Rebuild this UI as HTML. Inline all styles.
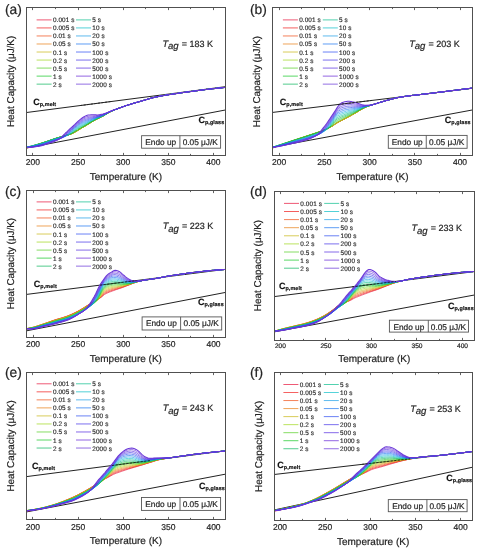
<!DOCTYPE html>
<html><head><meta charset="utf-8"><style>
html,body{margin:0;padding:0;background:#fff;}
svg{display:block;filter:blur(0.3px);}
text{font-family:"Liberation Sans", sans-serif;stroke:#222;stroke-width:0.2px;text-rendering:geometricPrecision;}
</style></head><body>
<svg width="480" height="550" viewBox="0 0 480 550">
<rect width="480" height="550" fill="#fff"/>
<text x="4.9" y="14.4" font-size="13.8" fill="#262626">(a)</text>
<text transform="translate(14.10,81.45) rotate(-90)" text-anchor="middle" font-size="9.9" fill="#262626">Heat Capacity (&#956;J/K)</text>
<text x="125.95" y="179.80" text-anchor="middle" font-size="10" fill="#262626">Temperature (K)</text>
<text x="32.90" y="165.10" text-anchor="middle" font-size="8.5" fill="#262626">200</text>
<text x="78.03" y="165.10" text-anchor="middle" font-size="8.5" fill="#262626">250</text>
<text x="123.15" y="165.10" text-anchor="middle" font-size="8.5" fill="#262626">300</text>
<text x="168.28" y="165.10" text-anchor="middle" font-size="8.5" fill="#262626">350</text>
<text x="213.40" y="165.10" text-anchor="middle" font-size="8.5" fill="#262626">400</text>
<clipPath id="ca"><rect x="26.6" y="7.7" width="198.70000000000002" height="147.5"/></clipPath>
<line x1="36.60" y1="19.90" x2="51.60" y2="19.90" stroke="#e81840" stroke-width="0.9" opacity="0.8"/>
<text x="52.90" y="22.40" font-size="6.4" fill="#333" style="stroke-width:0.16px;letter-spacing:0.1px">0.001 s</text>
<line x1="36.60" y1="27.93" x2="51.60" y2="27.93" stroke="#f02020" stroke-width="0.9" opacity="0.8"/>
<text x="52.90" y="30.43" font-size="6.4" fill="#333" style="stroke-width:0.16px;letter-spacing:0.1px">0.005 s</text>
<line x1="36.60" y1="35.96" x2="51.60" y2="35.96" stroke="#f05018" stroke-width="0.9" opacity="0.8"/>
<text x="52.90" y="38.46" font-size="6.4" fill="#333" style="stroke-width:0.16px;letter-spacing:0.1px">0.01 s</text>
<line x1="36.60" y1="43.99" x2="51.60" y2="43.99" stroke="#e88018" stroke-width="0.9" opacity="0.8"/>
<text x="52.90" y="46.49" font-size="6.4" fill="#333" style="stroke-width:0.16px;letter-spacing:0.1px">0.05 s</text>
<line x1="36.60" y1="52.02" x2="51.60" y2="52.02" stroke="#c8b818" stroke-width="0.9" opacity="0.8"/>
<text x="52.90" y="54.52" font-size="6.4" fill="#333" style="stroke-width:0.16px;letter-spacing:0.1px">0.1 s</text>
<line x1="36.60" y1="60.05" x2="51.60" y2="60.05" stroke="#a0d820" stroke-width="0.9" opacity="0.8"/>
<text x="52.90" y="62.55" font-size="6.4" fill="#333" style="stroke-width:0.16px;letter-spacing:0.1px">0.2 s</text>
<line x1="36.60" y1="68.08" x2="51.60" y2="68.08" stroke="#58d028" stroke-width="0.9" opacity="0.8"/>
<text x="52.90" y="70.58" font-size="6.4" fill="#333" style="stroke-width:0.16px;letter-spacing:0.1px">0.5 s</text>
<line x1="36.60" y1="76.11" x2="51.60" y2="76.11" stroke="#18c828" stroke-width="0.9" opacity="0.8"/>
<text x="52.90" y="78.61" font-size="6.4" fill="#333" style="stroke-width:0.16px;letter-spacing:0.1px">1 s</text>
<line x1="36.60" y1="84.14" x2="51.60" y2="84.14" stroke="#10b860" stroke-width="0.9" opacity="0.8"/>
<text x="52.90" y="86.64" font-size="6.4" fill="#333" style="stroke-width:0.16px;letter-spacing:0.1px">2 s</text>
<line x1="76.00" y1="19.90" x2="91.00" y2="19.90" stroke="#10c090" stroke-width="0.9" opacity="0.8"/>
<text x="92.30" y="22.40" font-size="6.4" fill="#333" style="stroke-width:0.16px;letter-spacing:0.1px">5 s</text>
<line x1="76.00" y1="27.93" x2="91.00" y2="27.93" stroke="#10c0c8" stroke-width="0.9" opacity="0.8"/>
<text x="92.30" y="30.43" font-size="6.4" fill="#333" style="stroke-width:0.16px;letter-spacing:0.1px">10 s</text>
<line x1="76.00" y1="35.96" x2="91.00" y2="35.96" stroke="#20a0e8" stroke-width="0.9" opacity="0.8"/>
<text x="92.30" y="38.46" font-size="6.4" fill="#333" style="stroke-width:0.16px;letter-spacing:0.1px">20 s</text>
<line x1="76.00" y1="43.99" x2="91.00" y2="43.99" stroke="#2078f0" stroke-width="0.9" opacity="0.8"/>
<text x="92.30" y="46.49" font-size="6.4" fill="#333" style="stroke-width:0.16px;letter-spacing:0.1px">50 s</text>
<line x1="76.00" y1="52.02" x2="91.00" y2="52.02" stroke="#3050f0" stroke-width="0.9" opacity="0.8"/>
<text x="92.30" y="54.52" font-size="6.4" fill="#333" style="stroke-width:0.16px;letter-spacing:0.1px">100 s</text>
<line x1="76.00" y1="60.05" x2="91.00" y2="60.05" stroke="#4838e8" stroke-width="0.9" opacity="0.8"/>
<text x="92.30" y="62.55" font-size="6.4" fill="#333" style="stroke-width:0.16px;letter-spacing:0.1px">200 s</text>
<line x1="76.00" y1="68.08" x2="91.00" y2="68.08" stroke="#5830e0" stroke-width="0.9" opacity="0.8"/>
<text x="92.30" y="70.58" font-size="6.4" fill="#333" style="stroke-width:0.16px;letter-spacing:0.1px">500 s</text>
<line x1="76.00" y1="76.11" x2="91.00" y2="76.11" stroke="#6828d8" stroke-width="0.9" opacity="0.8"/>
<text x="92.30" y="78.61" font-size="6.4" fill="#333" style="stroke-width:0.16px;letter-spacing:0.1px">1000 s</text>
<line x1="76.00" y1="84.14" x2="91.00" y2="84.14" stroke="#6a38d8" stroke-width="0.9" opacity="0.8"/>
<text x="92.30" y="86.64" font-size="6.4" fill="#333" style="stroke-width:0.16px;letter-spacing:0.1px">2000 s</text>
<text x="162.50" y="46.90" font-size="9.0" fill="#262626"><tspan font-style="italic" font-size="9.3">T</tspan><tspan font-style="italic" font-size="9.6" dy="2.4" dx="-0.2">ag</tspan><tspan dy="-2.4" dx="0.6"> = 183 K</tspan></text>
<g clip-path="url(#ca)"><line x1="26.6" y1="112.5" x2="225.3" y2="86.7" stroke="#222" stroke-width="1.0"/><line x1="26.6" y1="148.0" x2="225.3" y2="110.0" stroke="#222" stroke-width="1.0"/><polyline points="26.6,147.8 28.1,147.4 29.6,146.9 31.1,146.5 32.6,146.0 34.1,145.6 35.6,145.1 37.1,144.7 38.6,144.2 40.1,143.7 41.6,143.3 43.1,142.8 44.6,142.3 46.1,141.8 47.6,141.3 49.1,140.8 50.6,140.2 52.1,139.7 53.6,139.2 55.1,138.7 56.6,138.2 58.1,137.8 59.6,137.3 61.1,136.9 62.6,136.5 64.1,136.1 65.6,135.6 67.1,135.2 68.6,134.8 70.1,134.3 71.6,133.7 73.1,133.0 74.6,132.2 76.1,131.4 77.6,130.5 79.1,129.5 80.6,128.6 82.1,127.7 83.6,126.9 85.1,126.0 86.6,125.1 88.1,124.2 89.6,123.2 91.1,122.3 92.6,121.4 94.1,120.5 95.6,119.7 97.1,118.9 98.6,118.2 100.1,117.5 101.6,116.7 103.1,116.0 104.6,115.1 106.1,114.2 107.6,113.3 109.1,112.4 110.6,111.6 112.1,110.9 113.6,110.3 115.1,109.7 116.6,109.1 118.1,108.5 119.6,107.9 121.1,107.4 122.6,106.9 124.1,106.3 125.6,105.8 127.1,105.3 128.6,104.8 130.1,104.4 131.6,103.9 133.1,103.4 134.6,103.0 136.1,102.6 137.6,102.1 139.1,101.7 140.6,101.3 142.1,100.8 143.6,100.4 145.1,100.0 146.6,99.5 148.1,99.1 149.6,98.6 151.1,98.2 152.6,97.8 154.1,97.4 155.6,97.1 157.1,96.8 158.6,96.5 160.1,96.2 161.6,95.9 163.1,95.6 164.6,95.4 166.1,95.1 167.6,94.9 169.1,94.6 170.6,94.4 172.1,94.2 173.6,93.9 175.1,93.7 176.6,93.5 178.1,93.3 179.6,93.1 181.1,92.8 182.6,92.6 184.1,92.4 185.6,92.2 187.1,92.0 188.6,91.8 190.1,91.6 191.6,91.4 193.1,91.2 194.6,91.0 196.1,90.8 197.6,90.6 199.1,90.4 200.6,90.2 202.1,90.0 203.6,89.8 205.1,89.6 206.6,89.4 208.1,89.3 209.6,89.1 211.1,88.9 212.6,88.7 214.1,88.6 215.6,88.4 217.1,88.2 218.6,88.1 220.1,87.9 221.6,87.8 223.1,87.6 224.6,87.5 225.3,87.4" fill="none" stroke="#e81840" stroke-width="0.65"/><polyline points="26.6,147.8 28.1,147.4 29.6,146.9 31.1,146.5 32.6,146.0 34.1,145.6 35.6,145.1 37.1,144.7 38.6,144.2 40.1,143.7 41.6,143.3 43.1,142.8 44.6,142.3 46.1,141.8 47.6,141.3 49.1,140.8 50.6,140.2 52.1,139.7 53.6,139.2 55.1,138.7 56.6,138.2 58.1,137.8 59.6,137.3 61.1,136.9 62.6,136.5 64.1,136.1 65.6,135.6 67.1,135.2 68.6,134.8 70.1,134.3 71.6,133.7 73.1,133.0 74.6,132.2 76.1,131.4 77.6,130.5 79.1,129.5 80.6,128.6 82.1,127.7 83.6,126.9 85.1,126.0 86.6,125.1 88.1,124.2 89.6,123.2 91.1,122.3 92.6,121.4 94.1,120.5 95.6,119.7 97.1,118.9 98.6,118.2 100.1,117.5 101.6,116.7 103.1,116.0 104.6,115.1 106.1,114.2 107.6,113.3 109.1,112.4 110.6,111.6 112.1,110.9 113.6,110.3 115.1,109.7 116.6,109.1 118.1,108.5 119.6,107.9 121.1,107.4 122.6,106.9 124.1,106.3 125.6,105.8 127.1,105.3 128.6,104.8 130.1,104.4 131.6,103.9 133.1,103.4 134.6,103.0 136.1,102.6 137.6,102.1 139.1,101.7 140.6,101.3 142.1,100.8 143.6,100.4 145.1,100.0 146.6,99.5 148.1,99.1 149.6,98.6 151.1,98.2 152.6,97.8 154.1,97.4 155.6,97.1 157.1,96.8 158.6,96.5 160.1,96.2 161.6,95.9 163.1,95.6 164.6,95.4 166.1,95.1 167.6,94.9 169.1,94.6 170.6,94.4 172.1,94.2 173.6,93.9 175.1,93.7 176.6,93.5 178.1,93.3 179.6,93.1 181.1,92.8 182.6,92.6 184.1,92.4 185.6,92.2 187.1,92.0 188.6,91.8 190.1,91.6 191.6,91.4 193.1,91.2 194.6,91.0 196.1,90.8 197.6,90.6 199.1,90.4 200.6,90.2 202.1,90.0 203.6,89.8 205.1,89.6 206.6,89.4 208.1,89.3 209.6,89.1 211.1,88.9 212.6,88.7 214.1,88.6 215.6,88.4 217.1,88.2 218.6,88.1 220.1,87.9 221.6,87.8 223.1,87.6 224.6,87.5 225.3,87.4" fill="none" stroke="#f02020" stroke-width="0.65"/><polyline points="26.6,147.8 28.1,147.4 29.6,146.9 31.1,146.5 32.6,146.0 34.1,145.6 35.6,145.1 37.1,144.7 38.6,144.2 40.1,143.7 41.6,143.3 43.1,142.8 44.6,142.3 46.1,141.8 47.6,141.3 49.1,140.8 50.6,140.2 52.1,139.7 53.6,139.2 55.1,138.7 56.6,138.2 58.1,137.8 59.6,137.3 61.1,136.9 62.6,136.5 64.1,136.1 65.6,135.6 67.1,135.2 68.6,134.8 70.1,134.3 71.6,133.7 73.1,133.0 74.6,132.2 76.1,131.4 77.6,130.5 79.1,129.5 80.6,128.6 82.1,127.7 83.6,126.9 85.1,126.0 86.6,125.1 88.1,124.2 89.6,123.2 91.1,122.3 92.6,121.4 94.1,120.5 95.6,119.7 97.1,118.9 98.6,118.2 100.1,117.5 101.6,116.7 103.1,116.0 104.6,115.1 106.1,114.2 107.6,113.3 109.1,112.4 110.6,111.6 112.1,110.9 113.6,110.3 115.1,109.7 116.6,109.1 118.1,108.5 119.6,107.9 121.1,107.4 122.6,106.9 124.1,106.3 125.6,105.8 127.1,105.3 128.6,104.8 130.1,104.4 131.6,103.9 133.1,103.4 134.6,103.0 136.1,102.6 137.6,102.1 139.1,101.7 140.6,101.3 142.1,100.8 143.6,100.4 145.1,100.0 146.6,99.5 148.1,99.1 149.6,98.6 151.1,98.2 152.6,97.8 154.1,97.4 155.6,97.1 157.1,96.8 158.6,96.5 160.1,96.2 161.6,95.9 163.1,95.6 164.6,95.4 166.1,95.1 167.6,94.9 169.1,94.6 170.6,94.4 172.1,94.2 173.6,93.9 175.1,93.7 176.6,93.5 178.1,93.3 179.6,93.1 181.1,92.8 182.6,92.6 184.1,92.4 185.6,92.2 187.1,92.0 188.6,91.8 190.1,91.6 191.6,91.4 193.1,91.2 194.6,91.0 196.1,90.8 197.6,90.6 199.1,90.4 200.6,90.2 202.1,90.0 203.6,89.8 205.1,89.6 206.6,89.4 208.1,89.3 209.6,89.1 211.1,88.9 212.6,88.7 214.1,88.6 215.6,88.4 217.1,88.2 218.6,88.1 220.1,87.9 221.6,87.8 223.1,87.6 224.6,87.5 225.3,87.4" fill="none" stroke="#f05018" stroke-width="0.65"/><polyline points="26.6,147.8 28.1,147.4 29.6,146.9 31.1,146.5 32.6,146.0 34.1,145.6 35.6,145.1 37.1,144.7 38.6,144.2 40.1,143.7 41.6,143.3 43.1,142.8 44.6,142.3 46.1,141.8 47.6,141.3 49.1,140.8 50.6,140.2 52.1,139.7 53.6,139.2 55.1,138.7 56.6,138.2 58.1,137.8 59.6,137.3 61.1,136.9 62.6,136.5 64.1,136.1 65.6,135.6 67.1,135.2 68.6,134.8 70.1,134.3 71.6,133.7 73.1,133.0 74.6,132.2 76.1,131.4 77.6,130.5 79.1,129.5 80.6,128.6 82.1,127.7 83.6,126.9 85.1,126.0 86.6,125.1 88.1,124.2 89.6,123.2 91.1,122.3 92.6,121.4 94.1,120.5 95.6,119.7 97.1,118.9 98.6,118.2 100.1,117.5 101.6,116.7 103.1,116.0 104.6,115.1 106.1,114.2 107.6,113.3 109.1,112.4 110.6,111.6 112.1,110.9 113.6,110.3 115.1,109.7 116.6,109.1 118.1,108.5 119.6,107.9 121.1,107.4 122.6,106.9 124.1,106.3 125.6,105.8 127.1,105.3 128.6,104.8 130.1,104.4 131.6,103.9 133.1,103.4 134.6,103.0 136.1,102.6 137.6,102.1 139.1,101.7 140.6,101.3 142.1,100.8 143.6,100.4 145.1,100.0 146.6,99.5 148.1,99.1 149.6,98.6 151.1,98.2 152.6,97.8 154.1,97.4 155.6,97.1 157.1,96.8 158.6,96.5 160.1,96.2 161.6,95.9 163.1,95.6 164.6,95.4 166.1,95.1 167.6,94.9 169.1,94.6 170.6,94.4 172.1,94.2 173.6,93.9 175.1,93.7 176.6,93.5 178.1,93.3 179.6,93.1 181.1,92.8 182.6,92.6 184.1,92.4 185.6,92.2 187.1,92.0 188.6,91.8 190.1,91.6 191.6,91.4 193.1,91.2 194.6,91.0 196.1,90.8 197.6,90.6 199.1,90.4 200.6,90.2 202.1,90.0 203.6,89.8 205.1,89.6 206.6,89.4 208.1,89.3 209.6,89.1 211.1,88.9 212.6,88.7 214.1,88.6 215.6,88.4 217.1,88.2 218.6,88.1 220.1,87.9 221.6,87.8 223.1,87.6 224.6,87.5 225.3,87.4" fill="none" stroke="#e88018" stroke-width="0.65"/><polyline points="26.6,147.8 28.1,147.4 29.6,146.9 31.1,146.5 32.6,146.0 34.1,145.6 35.6,145.1 37.1,144.7 38.6,144.2 40.1,143.7 41.6,143.3 43.1,142.8 44.6,142.3 46.1,141.8 47.6,141.3 49.1,140.8 50.6,140.2 52.1,139.7 53.6,139.2 55.1,138.7 56.6,138.2 58.1,137.8 59.6,137.3 61.1,136.9 62.6,136.5 64.1,136.1 65.6,135.6 67.1,135.2 68.6,134.8 70.1,134.3 71.6,133.7 73.1,133.0 74.6,132.2 76.1,131.4 77.6,130.5 79.1,129.5 80.6,128.6 82.1,127.7 83.6,126.9 85.1,126.0 86.6,125.1 88.1,124.2 89.6,123.2 91.1,122.3 92.6,121.4 94.1,120.5 95.6,119.7 97.1,118.9 98.6,118.2 100.1,117.5 101.6,116.7 103.1,116.0 104.6,115.1 106.1,114.2 107.6,113.3 109.1,112.4 110.6,111.6 112.1,110.9 113.6,110.3 115.1,109.7 116.6,109.1 118.1,108.5 119.6,107.9 121.1,107.4 122.6,106.9 124.1,106.3 125.6,105.8 127.1,105.3 128.6,104.8 130.1,104.4 131.6,103.9 133.1,103.4 134.6,103.0 136.1,102.6 137.6,102.1 139.1,101.7 140.6,101.3 142.1,100.8 143.6,100.4 145.1,100.0 146.6,99.5 148.1,99.1 149.6,98.6 151.1,98.2 152.6,97.8 154.1,97.4 155.6,97.1 157.1,96.8 158.6,96.5 160.1,96.2 161.6,95.9 163.1,95.6 164.6,95.4 166.1,95.1 167.6,94.9 169.1,94.6 170.6,94.4 172.1,94.2 173.6,93.9 175.1,93.7 176.6,93.5 178.1,93.3 179.6,93.1 181.1,92.8 182.6,92.6 184.1,92.4 185.6,92.2 187.1,92.0 188.6,91.8 190.1,91.6 191.6,91.4 193.1,91.2 194.6,91.0 196.1,90.8 197.6,90.6 199.1,90.4 200.6,90.2 202.1,90.0 203.6,89.8 205.1,89.6 206.6,89.4 208.1,89.3 209.6,89.1 211.1,88.9 212.6,88.7 214.1,88.6 215.6,88.4 217.1,88.2 218.6,88.1 220.1,87.9 221.6,87.8 223.1,87.6 224.6,87.5 225.3,87.4" fill="none" stroke="#c8b818" stroke-width="0.65"/><polyline points="26.6,147.8 28.1,147.4 29.6,146.9 31.1,146.5 32.6,146.0 34.1,145.6 35.6,145.1 37.1,144.7 38.6,144.2 40.1,143.7 41.6,143.3 43.1,142.8 44.6,142.3 46.1,141.8 47.6,141.3 49.1,140.8 50.6,140.2 52.1,139.7 53.6,139.2 55.1,138.7 56.6,138.2 58.1,137.8 59.6,137.3 61.1,136.9 62.6,136.5 64.1,136.1 65.6,135.6 67.1,135.2 68.6,134.8 70.1,134.3 71.6,133.7 73.1,133.0 74.6,132.2 76.1,131.4 77.6,130.5 79.1,129.5 80.6,128.6 82.1,127.7 83.6,126.9 85.1,126.0 86.6,125.1 88.1,124.2 89.6,123.2 91.1,122.3 92.6,121.4 94.1,120.5 95.6,119.7 97.1,118.9 98.6,118.2 100.1,117.5 101.6,116.7 103.1,116.0 104.6,115.1 106.1,114.2 107.6,113.3 109.1,112.4 110.6,111.6 112.1,110.9 113.6,110.3 115.1,109.7 116.6,109.1 118.1,108.5 119.6,107.9 121.1,107.4 122.6,106.9 124.1,106.3 125.6,105.8 127.1,105.3 128.6,104.8 130.1,104.4 131.6,103.9 133.1,103.4 134.6,103.0 136.1,102.6 137.6,102.1 139.1,101.7 140.6,101.3 142.1,100.8 143.6,100.4 145.1,100.0 146.6,99.5 148.1,99.1 149.6,98.6 151.1,98.2 152.6,97.8 154.1,97.4 155.6,97.1 157.1,96.8 158.6,96.5 160.1,96.2 161.6,95.9 163.1,95.6 164.6,95.4 166.1,95.1 167.6,94.9 169.1,94.6 170.6,94.4 172.1,94.2 173.6,93.9 175.1,93.7 176.6,93.5 178.1,93.3 179.6,93.1 181.1,92.8 182.6,92.6 184.1,92.4 185.6,92.2 187.1,92.0 188.6,91.8 190.1,91.6 191.6,91.4 193.1,91.2 194.6,91.0 196.1,90.8 197.6,90.6 199.1,90.4 200.6,90.2 202.1,90.0 203.6,89.8 205.1,89.6 206.6,89.4 208.1,89.3 209.6,89.1 211.1,88.9 212.6,88.7 214.1,88.6 215.6,88.4 217.1,88.2 218.6,88.1 220.1,87.9 221.6,87.8 223.1,87.6 224.6,87.5 225.3,87.4" fill="none" stroke="#a0d820" stroke-width="0.65"/><polyline points="26.6,147.8 28.1,147.4 29.6,146.9 31.1,146.5 32.6,146.0 34.1,145.6 35.6,145.1 37.1,144.7 38.6,144.2 40.1,143.7 41.6,143.3 43.1,142.8 44.6,142.3 46.1,141.8 47.6,141.3 49.1,140.8 50.6,140.2 52.1,139.7 53.6,139.2 55.1,138.7 56.6,138.2 58.1,137.8 59.6,137.3 61.1,136.9 62.6,136.5 64.1,136.1 65.6,135.6 67.1,135.2 68.6,134.8 70.1,134.3 71.6,133.7 73.1,133.0 74.6,132.2 76.1,131.4 77.6,130.5 79.1,129.5 80.6,128.6 82.1,127.7 83.6,126.9 85.1,126.0 86.6,125.1 88.1,124.2 89.6,123.2 91.1,122.3 92.6,121.4 94.1,120.5 95.6,119.7 97.1,118.9 98.6,118.2 100.1,117.5 101.6,116.7 103.1,116.0 104.6,115.1 106.1,114.2 107.6,113.3 109.1,112.4 110.6,111.6 112.1,110.9 113.6,110.3 115.1,109.7 116.6,109.1 118.1,108.5 119.6,107.9 121.1,107.4 122.6,106.9 124.1,106.3 125.6,105.8 127.1,105.3 128.6,104.8 130.1,104.4 131.6,103.9 133.1,103.4 134.6,103.0 136.1,102.6 137.6,102.1 139.1,101.7 140.6,101.3 142.1,100.8 143.6,100.4 145.1,100.0 146.6,99.5 148.1,99.1 149.6,98.6 151.1,98.2 152.6,97.8 154.1,97.4 155.6,97.1 157.1,96.8 158.6,96.5 160.1,96.2 161.6,95.9 163.1,95.6 164.6,95.4 166.1,95.1 167.6,94.9 169.1,94.6 170.6,94.4 172.1,94.2 173.6,93.9 175.1,93.7 176.6,93.5 178.1,93.3 179.6,93.1 181.1,92.8 182.6,92.6 184.1,92.4 185.6,92.2 187.1,92.0 188.6,91.8 190.1,91.6 191.6,91.4 193.1,91.2 194.6,91.0 196.1,90.8 197.6,90.6 199.1,90.4 200.6,90.2 202.1,90.0 203.6,89.8 205.1,89.6 206.6,89.4 208.1,89.3 209.6,89.1 211.1,88.9 212.6,88.7 214.1,88.6 215.6,88.4 217.1,88.2 218.6,88.1 220.1,87.9 221.6,87.8 223.1,87.6 224.6,87.5 225.3,87.4" fill="none" stroke="#58d028" stroke-width="0.65"/><polyline points="26.6,147.4 28.1,147.0 29.6,146.6 31.1,146.2 32.6,145.8 34.1,145.3 35.6,144.9 37.1,144.4 38.6,144.0 40.1,143.5 41.6,143.1 43.1,142.6 44.6,142.1 46.1,141.6 47.6,141.1 49.1,140.6 50.6,140.1 52.1,139.5 53.6,139.0 55.1,138.5 56.6,138.0 58.1,137.6 59.6,137.2 61.1,136.8 62.6,136.3 64.1,135.9 65.6,135.5 67.1,135.1 68.6,134.6 70.1,134.1 71.6,133.5 73.1,132.7 74.6,131.8 76.1,130.8 77.6,129.9 79.1,128.9 80.6,128.0 82.1,127.2 83.6,126.4 85.1,125.6 86.6,124.7 88.1,123.9 89.6,122.9 91.1,122.0 92.6,121.2 94.1,120.3 95.6,119.5 97.1,118.8 98.6,118.1 100.1,117.4 101.6,116.6 103.1,115.9 104.6,115.1 106.1,114.2 107.6,113.2 109.1,112.3 110.6,111.6 112.1,110.9 113.6,110.3 115.1,109.7 116.6,109.1 118.1,108.5 119.6,107.9 121.1,107.4 122.6,106.9 124.1,106.3 125.6,105.8 127.1,105.3 128.6,104.8 130.1,104.4 131.6,103.9 133.1,103.4 134.6,103.0 136.1,102.6 137.6,102.1 139.1,101.7 140.6,101.3 142.1,100.8 143.6,100.4 145.1,100.0 146.6,99.5 148.1,99.1 149.6,98.6 151.1,98.2 152.6,97.8 154.1,97.4 155.6,97.1 157.1,96.8 158.6,96.5 160.1,96.2 161.6,95.9 163.1,95.6 164.6,95.4 166.1,95.1 167.6,94.9 169.1,94.6 170.6,94.4 172.1,94.2 173.6,93.9 175.1,93.7 176.6,93.5 178.1,93.3 179.6,93.1 181.1,92.8 182.6,92.6 184.1,92.4 185.6,92.2 187.1,92.0 188.6,91.8 190.1,91.6 191.6,91.4 193.1,91.2 194.6,91.0 196.1,90.8 197.6,90.6 199.1,90.4 200.6,90.2 202.1,90.0 203.6,89.8 205.1,89.6 206.6,89.4 208.1,89.3 209.6,89.1 211.1,88.9 212.6,88.7 214.1,88.6 215.6,88.4 217.1,88.2 218.6,88.1 220.1,87.9 221.6,87.8 223.1,87.6 224.6,87.5 225.3,87.4" fill="none" stroke="#18c828" stroke-width="0.65"/><polyline points="26.6,147.2 28.1,146.8 29.6,146.4 31.1,146.0 32.6,145.7 34.1,145.2 35.6,144.8 37.1,144.4 38.6,144.0 40.1,143.5 41.6,143.1 43.1,142.6 44.6,142.1 46.1,141.6 47.6,141.1 49.1,140.6 50.6,140.1 52.1,139.6 53.6,139.0 55.1,138.5 56.6,138.1 58.1,137.6 59.6,137.2 61.1,136.8 62.6,136.4 64.1,135.9 65.6,135.5 67.1,135.1 68.6,134.6 70.1,134.0 71.6,133.2 73.1,132.2 74.6,131.1 76.1,130.1 77.6,129.1 79.1,128.2 80.6,127.3 82.1,126.6 83.6,125.8 85.1,125.1 86.6,124.3 88.1,123.4 89.6,122.6 91.1,121.7 92.6,120.9 94.1,120.1 95.6,119.3 97.1,118.6 98.6,117.9 100.1,117.2 101.6,116.5 103.1,115.8 104.6,115.0 106.1,114.1 107.6,113.2 109.1,112.3 110.6,111.6 112.1,110.9 113.6,110.3 115.1,109.7 116.6,109.1 118.1,108.5 119.6,107.9 121.1,107.4 122.6,106.9 124.1,106.3 125.6,105.8 127.1,105.3 128.6,104.8 130.1,104.4 131.6,103.9 133.1,103.4 134.6,103.0 136.1,102.6 137.6,102.1 139.1,101.7 140.6,101.3 142.1,100.8 143.6,100.4 145.1,100.0 146.6,99.5 148.1,99.1 149.6,98.6 151.1,98.2 152.6,97.8 154.1,97.4 155.6,97.1 157.1,96.8 158.6,96.5 160.1,96.2 161.6,95.9 163.1,95.6 164.6,95.4 166.1,95.1 167.6,94.9 169.1,94.6 170.6,94.4 172.1,94.2 173.6,93.9 175.1,93.7 176.6,93.5 178.1,93.3 179.6,93.1 181.1,92.8 182.6,92.6 184.1,92.4 185.6,92.2 187.1,92.0 188.6,91.8 190.1,91.6 191.6,91.4 193.1,91.2 194.6,91.0 196.1,90.8 197.6,90.6 199.1,90.4 200.6,90.2 202.1,90.0 203.6,89.8 205.1,89.6 206.6,89.4 208.1,89.3 209.6,89.1 211.1,88.9 212.6,88.7 214.1,88.6 215.6,88.4 217.1,88.2 218.6,88.1 220.1,87.9 221.6,87.8 223.1,87.6 224.6,87.5 225.3,87.4" fill="none" stroke="#10b860" stroke-width="0.65"/><polyline points="26.6,147.1 28.1,146.8 29.6,146.5 31.1,146.1 32.6,145.8 34.1,145.4 35.6,145.0 37.1,144.6 38.6,144.2 40.1,143.8 41.6,143.3 43.1,142.9 44.6,142.4 46.1,141.9 47.6,141.4 49.1,140.9 50.6,140.3 52.1,139.8 53.6,139.3 55.1,138.8 56.6,138.3 58.1,137.9 59.6,137.4 61.1,137.0 62.6,136.6 64.1,136.2 65.6,135.7 67.1,135.3 68.6,134.7 70.1,133.8 71.6,132.7 73.1,131.6 74.6,130.4 76.1,129.3 77.6,128.3 79.1,127.3 80.6,126.5 82.1,125.8 83.6,125.1 85.1,124.4 86.6,123.6 88.1,122.9 89.6,122.1 91.1,121.3 92.6,120.5 94.1,119.8 95.6,119.0 97.1,118.3 98.6,117.7 100.1,117.0 101.6,116.4 103.1,115.7 104.6,114.9 106.1,114.1 107.6,113.1 109.1,112.3 110.6,111.5 112.1,110.9 113.6,110.2 115.1,109.6 116.6,109.1 118.1,108.5 119.6,107.9 121.1,107.4 122.6,106.9 124.1,106.3 125.6,105.8 127.1,105.3 128.6,104.8 130.1,104.4 131.6,103.9 133.1,103.4 134.6,103.0 136.1,102.6 137.6,102.1 139.1,101.7 140.6,101.3 142.1,100.8 143.6,100.4 145.1,100.0 146.6,99.5 148.1,99.1 149.6,98.6 151.1,98.2 152.6,97.8 154.1,97.4 155.6,97.1 157.1,96.8 158.6,96.5 160.1,96.2 161.6,95.9 163.1,95.6 164.6,95.4 166.1,95.1 167.6,94.9 169.1,94.6 170.6,94.4 172.1,94.2 173.6,93.9 175.1,93.7 176.6,93.5 178.1,93.3 179.6,93.1 181.1,92.8 182.6,92.6 184.1,92.4 185.6,92.2 187.1,92.0 188.6,91.8 190.1,91.6 191.6,91.4 193.1,91.2 194.6,91.0 196.1,90.8 197.6,90.6 199.1,90.4 200.6,90.2 202.1,90.0 203.6,89.8 205.1,89.6 206.6,89.4 208.1,89.3 209.6,89.1 211.1,88.9 212.6,88.7 214.1,88.6 215.6,88.4 217.1,88.2 218.6,88.1 220.1,87.9 221.6,87.8 223.1,87.6 224.6,87.5 225.3,87.4" fill="none" stroke="#10c090" stroke-width="0.65"/><polyline points="26.6,147.2 28.1,146.9 29.6,146.6 31.1,146.3 32.6,145.9 34.1,145.6 35.6,145.2 37.1,144.9 38.6,144.5 40.1,144.1 41.6,143.6 43.1,143.2 44.6,142.7 46.1,142.2 47.6,141.7 49.1,141.2 50.6,140.6 52.1,140.1 53.6,139.6 55.1,139.1 56.6,138.6 58.1,138.2 59.6,137.7 61.1,137.3 62.6,136.9 64.1,136.5 65.6,136.0 67.1,135.5 68.6,134.6 70.1,133.5 71.6,132.1 73.1,130.8 74.6,129.6 76.1,128.5 77.6,127.4 79.1,126.5 80.6,125.6 82.1,124.9 83.6,124.3 85.1,123.6 86.6,122.9 88.1,122.2 89.6,121.5 91.1,120.8 92.6,120.1 94.1,119.4 95.6,118.7 97.1,118.1 98.6,117.5 100.1,116.8 101.6,116.2 103.1,115.5 104.6,114.8 106.1,114.0 107.6,113.1 109.1,112.2 110.6,111.5 112.1,110.8 113.6,110.2 115.1,109.6 116.6,109.1 118.1,108.5 119.6,107.9 121.1,107.4 122.6,106.9 124.1,106.3 125.6,105.8 127.1,105.3 128.6,104.8 130.1,104.4 131.6,103.9 133.1,103.4 134.6,103.0 136.1,102.6 137.6,102.1 139.1,101.7 140.6,101.3 142.1,100.8 143.6,100.4 145.1,100.0 146.6,99.5 148.1,99.1 149.6,98.6 151.1,98.2 152.6,97.8 154.1,97.4 155.6,97.1 157.1,96.8 158.6,96.5 160.1,96.2 161.6,95.9 163.1,95.6 164.6,95.4 166.1,95.1 167.6,94.9 169.1,94.6 170.6,94.4 172.1,94.2 173.6,93.9 175.1,93.7 176.6,93.5 178.1,93.3 179.6,93.1 181.1,92.8 182.6,92.6 184.1,92.4 185.6,92.2 187.1,92.0 188.6,91.8 190.1,91.6 191.6,91.4 193.1,91.2 194.6,91.0 196.1,90.8 197.6,90.6 199.1,90.4 200.6,90.2 202.1,90.0 203.6,89.8 205.1,89.6 206.6,89.4 208.1,89.3 209.6,89.1 211.1,88.9 212.6,88.7 214.1,88.6 215.6,88.4 217.1,88.2 218.6,88.1 220.1,87.9 221.6,87.8 223.1,87.6 224.6,87.5 225.3,87.4" fill="none" stroke="#10c0c8" stroke-width="0.65"/><polyline points="26.6,147.2 28.1,147.0 29.6,146.7 31.1,146.4 32.6,146.1 34.1,145.8 35.6,145.5 37.1,145.1 38.6,144.8 40.1,144.4 41.6,143.9 43.1,143.5 44.6,143.0 46.1,142.5 47.6,142.0 49.1,141.5 50.6,140.9 52.1,140.4 53.6,139.9 55.1,139.4 56.6,138.9 58.1,138.5 59.6,138.0 61.1,137.6 62.6,137.2 64.1,136.8 65.6,136.2 67.1,135.4 68.6,134.2 70.1,132.9 71.6,131.4 73.1,130.1 74.6,128.8 76.1,127.7 77.6,126.6 79.1,125.6 80.6,124.7 82.1,123.9 83.6,123.3 85.1,122.8 86.6,122.1 88.1,121.5 89.6,120.9 91.1,120.2 92.6,119.6 94.1,119.0 95.6,118.4 97.1,117.8 98.6,117.2 100.1,116.6 101.6,116.0 103.1,115.4 104.6,114.7 106.1,113.9 107.6,113.0 109.1,112.2 110.6,111.5 112.1,110.8 113.6,110.2 115.1,109.6 116.6,109.1 118.1,108.5 119.6,107.9 121.1,107.4 122.6,106.9 124.1,106.3 125.6,105.8 127.1,105.3 128.6,104.8 130.1,104.4 131.6,103.9 133.1,103.4 134.6,103.0 136.1,102.6 137.6,102.1 139.1,101.7 140.6,101.3 142.1,100.8 143.6,100.4 145.1,100.0 146.6,99.5 148.1,99.1 149.6,98.6 151.1,98.2 152.6,97.8 154.1,97.4 155.6,97.1 157.1,96.8 158.6,96.5 160.1,96.2 161.6,95.9 163.1,95.6 164.6,95.4 166.1,95.1 167.6,94.9 169.1,94.6 170.6,94.4 172.1,94.2 173.6,93.9 175.1,93.7 176.6,93.5 178.1,93.3 179.6,93.1 181.1,92.8 182.6,92.6 184.1,92.4 185.6,92.2 187.1,92.0 188.6,91.8 190.1,91.6 191.6,91.4 193.1,91.2 194.6,91.0 196.1,90.8 197.6,90.6 199.1,90.4 200.6,90.2 202.1,90.0 203.6,89.8 205.1,89.6 206.6,89.4 208.1,89.3 209.6,89.1 211.1,88.9 212.6,88.7 214.1,88.6 215.6,88.4 217.1,88.2 218.6,88.1 220.1,87.9 221.6,87.8 223.1,87.6 224.6,87.5 225.3,87.4" fill="none" stroke="#20a0e8" stroke-width="0.65"/><polyline points="26.6,147.3 28.1,147.0 29.6,146.8 31.1,146.6 32.6,146.3 34.1,146.0 35.6,145.7 37.1,145.4 38.6,145.0 40.1,144.6 41.6,144.2 43.1,143.8 44.6,143.3 46.1,142.8 47.6,142.3 49.1,141.8 50.6,141.2 52.1,140.7 53.6,140.2 55.1,139.7 56.6,139.2 58.1,138.8 59.6,138.3 61.1,137.9 62.6,137.5 64.1,136.9 65.6,136.1 67.1,135.0 68.6,133.6 70.1,132.2 71.6,130.7 73.1,129.3 74.6,128.1 76.1,126.9 77.6,125.7 79.1,124.7 80.6,123.7 82.1,122.9 83.6,122.3 85.1,121.8 86.6,121.2 88.1,120.7 89.6,120.1 91.1,119.6 92.6,119.0 94.1,118.5 95.6,118.0 97.1,117.4 98.6,116.9 100.1,116.4 101.6,115.8 103.1,115.2 104.6,114.5 106.1,113.8 107.6,112.9 109.1,112.1 110.6,111.4 112.1,110.8 113.6,110.2 115.1,109.6 116.6,109.1 118.1,108.5 119.6,107.9 121.1,107.4 122.6,106.9 124.1,106.3 125.6,105.8 127.1,105.3 128.6,104.8 130.1,104.4 131.6,103.9 133.1,103.4 134.6,103.0 136.1,102.6 137.6,102.1 139.1,101.7 140.6,101.3 142.1,100.8 143.6,100.4 145.1,100.0 146.6,99.5 148.1,99.1 149.6,98.6 151.1,98.2 152.6,97.8 154.1,97.4 155.6,97.1 157.1,96.8 158.6,96.5 160.1,96.2 161.6,95.9 163.1,95.6 164.6,95.4 166.1,95.1 167.6,94.9 169.1,94.6 170.6,94.4 172.1,94.2 173.6,93.9 175.1,93.7 176.6,93.5 178.1,93.3 179.6,93.1 181.1,92.8 182.6,92.6 184.1,92.4 185.6,92.2 187.1,92.0 188.6,91.8 190.1,91.6 191.6,91.4 193.1,91.2 194.6,91.0 196.1,90.8 197.6,90.6 199.1,90.4 200.6,90.2 202.1,90.0 203.6,89.8 205.1,89.6 206.6,89.4 208.1,89.3 209.6,89.1 211.1,88.9 212.6,88.7 214.1,88.6 215.6,88.4 217.1,88.2 218.6,88.1 220.1,87.9 221.6,87.8 223.1,87.6 224.6,87.5 225.3,87.4" fill="none" stroke="#2078f0" stroke-width="0.65"/><polyline points="26.6,147.3 28.1,147.1 29.6,146.9 31.1,146.7 32.6,146.5 34.1,146.2 35.6,145.9 37.1,145.6 38.6,145.3 40.1,144.9 41.6,144.5 43.1,144.1 44.6,143.6 46.1,143.1 47.6,142.6 49.1,142.1 50.6,141.5 52.1,141.0 53.6,140.5 55.1,140.0 56.6,139.5 58.1,139.1 59.6,138.6 61.1,138.2 62.6,137.6 64.1,136.8 65.6,135.8 67.1,134.4 68.6,132.9 70.1,131.5 71.6,130.1 73.1,128.7 74.6,127.3 76.1,126.1 77.6,124.9 79.1,123.8 80.6,122.8 82.1,121.9 83.6,121.2 85.1,120.7 86.6,120.2 88.1,119.7 89.6,119.2 91.1,118.8 92.6,118.4 94.1,117.9 95.6,117.5 97.1,117.0 98.6,116.6 100.1,116.1 101.6,115.6 103.1,115.0 104.6,114.4 106.1,113.6 107.6,112.9 109.1,112.1 110.6,111.4 112.1,110.8 113.6,110.2 115.1,109.6 116.6,109.1 118.1,108.5 119.6,107.9 121.1,107.4 122.6,106.9 124.1,106.3 125.6,105.8 127.1,105.3 128.6,104.8 130.1,104.4 131.6,103.9 133.1,103.4 134.6,103.0 136.1,102.6 137.6,102.1 139.1,101.7 140.6,101.3 142.1,100.8 143.6,100.4 145.1,100.0 146.6,99.5 148.1,99.1 149.6,98.6 151.1,98.2 152.6,97.8 154.1,97.4 155.6,97.1 157.1,96.8 158.6,96.5 160.1,96.2 161.6,95.9 163.1,95.6 164.6,95.4 166.1,95.1 167.6,94.9 169.1,94.6 170.6,94.4 172.1,94.2 173.6,93.9 175.1,93.7 176.6,93.5 178.1,93.3 179.6,93.1 181.1,92.8 182.6,92.6 184.1,92.4 185.6,92.2 187.1,92.0 188.6,91.8 190.1,91.6 191.6,91.4 193.1,91.2 194.6,91.0 196.1,90.8 197.6,90.6 199.1,90.4 200.6,90.2 202.1,90.0 203.6,89.8 205.1,89.6 206.6,89.4 208.1,89.3 209.6,89.1 211.1,88.9 212.6,88.7 214.1,88.6 215.6,88.4 217.1,88.2 218.6,88.1 220.1,87.9 221.6,87.8 223.1,87.6 224.6,87.5 225.3,87.4" fill="none" stroke="#3050f0" stroke-width="0.65"/><polyline points="26.6,147.4 28.1,147.2 29.6,147.0 31.1,146.8 32.6,146.6 34.1,146.4 35.6,146.2 37.1,145.9 38.6,145.6 40.1,145.2 41.6,144.8 43.1,144.4 44.6,143.9 46.1,143.4 47.6,142.9 49.1,142.4 50.6,141.8 52.1,141.3 53.6,140.8 55.1,140.3 56.6,139.8 58.1,139.4 59.6,138.9 61.1,138.3 62.6,137.5 64.1,136.5 65.6,135.1 67.1,133.7 68.6,132.2 70.1,130.8 71.6,129.4 73.1,128.0 74.6,126.6 76.1,125.3 77.6,124.0 79.1,122.9 80.6,121.8 82.1,120.9 83.6,120.1 85.1,119.5 86.6,119.1 88.1,118.7 89.6,118.3 91.1,117.9 92.6,117.6 94.1,117.3 95.6,117.0 97.1,116.6 98.6,116.2 100.1,115.8 101.6,115.3 103.1,114.8 104.6,114.2 106.1,113.5 107.6,112.8 109.1,112.0 110.6,111.3 112.1,110.7 113.6,110.2 115.1,109.6 116.6,109.1 118.1,108.5 119.6,107.9 121.1,107.4 122.6,106.9 124.1,106.3 125.6,105.8 127.1,105.3 128.6,104.8 130.1,104.4 131.6,103.9 133.1,103.4 134.6,103.0 136.1,102.6 137.6,102.1 139.1,101.7 140.6,101.3 142.1,100.8 143.6,100.4 145.1,100.0 146.6,99.5 148.1,99.1 149.6,98.6 151.1,98.2 152.6,97.8 154.1,97.4 155.6,97.1 157.1,96.8 158.6,96.5 160.1,96.2 161.6,95.9 163.1,95.6 164.6,95.4 166.1,95.1 167.6,94.9 169.1,94.6 170.6,94.4 172.1,94.2 173.6,93.9 175.1,93.7 176.6,93.5 178.1,93.3 179.6,93.1 181.1,92.8 182.6,92.6 184.1,92.4 185.6,92.2 187.1,92.0 188.6,91.8 190.1,91.6 191.6,91.4 193.1,91.2 194.6,91.0 196.1,90.8 197.6,90.6 199.1,90.4 200.6,90.2 202.1,90.0 203.6,89.8 205.1,89.6 206.6,89.4 208.1,89.3 209.6,89.1 211.1,88.9 212.6,88.7 214.1,88.6 215.6,88.4 217.1,88.2 218.6,88.1 220.1,87.9 221.6,87.8 223.1,87.6 224.6,87.5 225.3,87.4" fill="none" stroke="#4838e8" stroke-width="0.65"/><polyline points="26.6,147.4 28.1,147.3 29.6,147.1 31.1,147.0 32.6,146.8 34.1,146.6 35.6,146.4 37.1,146.1 38.6,145.8 40.1,145.5 41.6,145.1 43.1,144.7 44.6,144.2 46.1,143.7 47.6,143.2 49.1,142.7 50.6,142.1 52.1,141.6 53.6,141.1 55.1,140.6 56.6,140.1 58.1,139.6 59.6,139.0 61.1,138.2 62.6,137.2 64.1,135.9 65.6,134.4 67.1,132.9 68.6,131.5 70.1,130.1 71.6,128.7 73.1,127.3 74.6,125.9 76.1,124.5 77.6,123.2 79.1,122.0 80.6,120.9 82.1,119.9 83.6,119.0 85.1,118.3 86.6,117.9 88.1,117.6 89.6,117.3 91.1,117.0 92.6,116.7 94.1,116.5 95.6,116.3 97.1,116.1 98.6,115.8 100.1,115.4 101.6,115.0 103.1,114.5 104.6,114.0 106.1,113.3 107.6,112.6 109.1,111.9 110.6,111.3 112.1,110.7 113.6,110.1 115.1,109.6 116.6,109.1 118.1,108.5 119.6,107.9 121.1,107.4 122.6,106.9 124.1,106.3 125.6,105.8 127.1,105.3 128.6,104.8 130.1,104.4 131.6,103.9 133.1,103.4 134.6,103.0 136.1,102.6 137.6,102.1 139.1,101.7 140.6,101.3 142.1,100.8 143.6,100.4 145.1,100.0 146.6,99.5 148.1,99.1 149.6,98.6 151.1,98.2 152.6,97.8 154.1,97.4 155.6,97.1 157.1,96.8 158.6,96.5 160.1,96.2 161.6,95.9 163.1,95.6 164.6,95.4 166.1,95.1 167.6,94.9 169.1,94.6 170.6,94.4 172.1,94.2 173.6,93.9 175.1,93.7 176.6,93.5 178.1,93.3 179.6,93.1 181.1,92.8 182.6,92.6 184.1,92.4 185.6,92.2 187.1,92.0 188.6,91.8 190.1,91.6 191.6,91.4 193.1,91.2 194.6,91.0 196.1,90.8 197.6,90.6 199.1,90.4 200.6,90.2 202.1,90.0 203.6,89.8 205.1,89.6 206.6,89.4 208.1,89.3 209.6,89.1 211.1,88.9 212.6,88.7 214.1,88.6 215.6,88.4 217.1,88.2 218.6,88.1 220.1,87.9 221.6,87.8 223.1,87.6 224.6,87.5 225.3,87.4" fill="none" stroke="#5830e0" stroke-width="0.65"/><polyline points="26.6,147.5 28.1,147.4 29.6,147.3 31.1,147.1 32.6,147.0 34.1,146.8 35.6,146.6 37.1,146.4 38.6,146.1 40.1,145.8 41.6,145.4 43.1,145.0 44.6,144.5 46.1,144.0 47.6,143.5 49.1,143.0 50.6,142.4 52.1,141.9 53.6,141.4 55.1,140.9 56.6,140.4 58.1,139.7 59.6,138.9 61.1,137.9 62.6,136.6 64.1,135.2 65.6,133.7 67.1,132.2 68.6,130.8 70.1,129.4 71.6,128.0 73.1,126.6 74.6,125.2 76.1,123.8 77.6,122.5 79.1,121.2 80.6,120.0 82.1,118.9 83.6,118.0 85.1,117.2 86.6,116.6 88.1,116.4 89.6,116.2 91.1,115.9 92.6,115.8 94.1,115.7 95.6,115.6 97.1,115.5 98.6,115.3 100.1,115.0 101.6,114.7 103.1,114.2 104.6,113.7 106.1,113.2 107.6,112.5 109.1,111.9 110.6,111.2 112.1,110.7 113.6,110.1 115.1,109.6 116.6,109.1 118.1,108.5 119.6,107.9 121.1,107.4 122.6,106.9 124.1,106.3 125.6,105.8 127.1,105.3 128.6,104.8 130.1,104.4 131.6,103.9 133.1,103.4 134.6,103.0 136.1,102.6 137.6,102.1 139.1,101.7 140.6,101.3 142.1,100.8 143.6,100.4 145.1,100.0 146.6,99.5 148.1,99.1 149.6,98.6 151.1,98.2 152.6,97.8 154.1,97.4 155.6,97.1 157.1,96.8 158.6,96.5 160.1,96.2 161.6,95.9 163.1,95.6 164.6,95.4 166.1,95.1 167.6,94.9 169.1,94.6 170.6,94.4 172.1,94.2 173.6,93.9 175.1,93.7 176.6,93.5 178.1,93.3 179.6,93.1 181.1,92.8 182.6,92.6 184.1,92.4 185.6,92.2 187.1,92.0 188.6,91.8 190.1,91.6 191.6,91.4 193.1,91.2 194.6,91.0 196.1,90.8 197.6,90.6 199.1,90.4 200.6,90.2 202.1,90.0 203.6,89.8 205.1,89.6 206.6,89.4 208.1,89.3 209.6,89.1 211.1,88.9 212.6,88.7 214.1,88.6 215.6,88.4 217.1,88.2 218.6,88.1 220.1,87.9 221.6,87.8 223.1,87.6 224.6,87.5 225.3,87.4" fill="none" stroke="#6828d8" stroke-width="0.65"/><polyline points="26.6,147.5 28.1,147.4 29.6,147.4 31.1,147.3 32.6,147.2 34.1,147.0 35.6,146.8 37.1,146.6 38.6,146.4 40.1,146.1 41.6,145.7 43.1,145.3 44.6,144.8 46.1,144.3 47.6,143.8 49.1,143.3 50.6,142.7 52.1,142.2 53.6,141.7 55.1,141.1 56.6,140.4 58.1,139.5 59.6,138.5 61.1,137.3 62.6,135.9 64.1,134.5 65.6,133.0 67.1,131.6 68.6,130.1 70.1,128.7 71.6,127.3 73.1,126.0 74.6,124.6 76.1,123.1 77.6,121.7 79.1,120.4 80.6,119.1 82.1,118.0 83.6,117.0 85.1,116.1 86.6,115.4 88.1,115.0 89.6,114.9 91.1,114.8 92.6,114.8 94.1,114.8 95.6,114.8 97.1,114.9 98.6,114.8 100.1,114.6 101.6,114.3 103.1,114.0 104.6,113.5 106.1,113.0 107.6,112.4 109.1,111.8 110.6,111.2 112.1,110.6 113.6,110.1 115.1,109.6 116.6,109.1 118.1,108.5 119.6,107.9 121.1,107.4 122.6,106.9 124.1,106.3 125.6,105.8 127.1,105.3 128.6,104.8 130.1,104.4 131.6,103.9 133.1,103.4 134.6,103.0 136.1,102.6 137.6,102.1 139.1,101.7 140.6,101.3 142.1,100.8 143.6,100.4 145.1,100.0 146.6,99.5 148.1,99.1 149.6,98.6 151.1,98.2 152.6,97.8 154.1,97.4 155.6,97.1 157.1,96.8 158.6,96.5 160.1,96.2 161.6,95.9 163.1,95.6 164.6,95.4 166.1,95.1 167.6,94.9 169.1,94.6 170.6,94.4 172.1,94.2 173.6,93.9 175.1,93.7 176.6,93.5 178.1,93.3 179.6,93.1 181.1,92.8 182.6,92.6 184.1,92.4 185.6,92.2 187.1,92.0 188.6,91.8 190.1,91.6 191.6,91.4 193.1,91.2 194.6,91.0 196.1,90.8 197.6,90.6 199.1,90.4 200.6,90.2 202.1,90.0 203.6,89.8 205.1,89.6 206.6,89.4 208.1,89.3 209.6,89.1 211.1,88.9 212.6,88.7 214.1,88.6 215.6,88.4 217.1,88.2 218.6,88.1 220.1,87.9 221.6,87.8 223.1,87.6 224.6,87.5 225.3,87.4" fill="none" stroke="#6a38d8" stroke-width="1.05"/><line x1="80" y1="105.57" x2="112" y2="101.41" stroke="#222" stroke-width="0.9" stroke-dasharray="2.2 1.4"/></g>
<text x="33.20" y="104.60" font-size="9" font-weight="bold" fill="#111">C<tspan font-size="5.4" dy="1.0" style="letter-spacing:0.12px">p,melt</tspan></text>
<text x="198.40" y="123.00" font-size="9" font-weight="bold" fill="#111">C<tspan font-size="5.4" dy="1.0" style="letter-spacing:0.12px">p,glass</tspan></text>
<rect x="141.60" y="135.70" width="79.00" height="12.50" fill="#fff" stroke="#555" stroke-width="0.9"/>
<line x1="179.90" y1="135.70" x2="179.90" y2="148.20" stroke="#555" stroke-width="0.9"/>
<text x="160.75" y="145.10" text-anchor="middle" font-size="8.3" fill="#262626">Endo up</text>
<text x="200.25" y="145.10" text-anchor="middle" font-size="8.3" fill="#262626">0.05 &#956;J/K</text>
<rect x="26.5" y="7.5" width="199.0" height="148.0" fill="none" stroke="#505050" stroke-width="1"/><line x1="32.50" y1="155.5" x2="32.50" y2="152.9" stroke="#505050" stroke-width="0.9"/><line x1="32.50" y1="7.5" x2="32.50" y2="10.1" stroke="#505050" stroke-width="0.9"/><line x1="55.50" y1="155.5" x2="55.50" y2="153.9" stroke="#505050" stroke-width="0.9"/><line x1="55.50" y1="7.5" x2="55.50" y2="9.1" stroke="#505050" stroke-width="0.9"/><line x1="78.50" y1="155.5" x2="78.50" y2="152.9" stroke="#505050" stroke-width="0.9"/><line x1="78.50" y1="7.5" x2="78.50" y2="10.1" stroke="#505050" stroke-width="0.9"/><line x1="100.50" y1="155.5" x2="100.50" y2="153.9" stroke="#505050" stroke-width="0.9"/><line x1="100.50" y1="7.5" x2="100.50" y2="9.1" stroke="#505050" stroke-width="0.9"/><line x1="123.50" y1="155.5" x2="123.50" y2="152.9" stroke="#505050" stroke-width="0.9"/><line x1="123.50" y1="7.5" x2="123.50" y2="10.1" stroke="#505050" stroke-width="0.9"/><line x1="145.50" y1="155.5" x2="145.50" y2="153.9" stroke="#505050" stroke-width="0.9"/><line x1="145.50" y1="7.5" x2="145.50" y2="9.1" stroke="#505050" stroke-width="0.9"/><line x1="168.50" y1="155.5" x2="168.50" y2="152.9" stroke="#505050" stroke-width="0.9"/><line x1="168.50" y1="7.5" x2="168.50" y2="10.1" stroke="#505050" stroke-width="0.9"/><line x1="190.50" y1="155.5" x2="190.50" y2="153.9" stroke="#505050" stroke-width="0.9"/><line x1="190.50" y1="7.5" x2="190.50" y2="9.1" stroke="#505050" stroke-width="0.9"/><line x1="213.50" y1="155.5" x2="213.50" y2="152.9" stroke="#505050" stroke-width="0.9"/><line x1="213.50" y1="7.5" x2="213.50" y2="10.1" stroke="#505050" stroke-width="0.9"/>
<text x="249.9" y="14.4" font-size="13.8" fill="#262626">(b)</text>
<text transform="translate(260.30,81.55) rotate(-90)" text-anchor="middle" font-size="9.9" fill="#262626">Heat Capacity (&#956;J/K)</text>
<text x="372.50" y="179.90" text-anchor="middle" font-size="10" fill="#262626">Temperature (K)</text>
<text x="279.20" y="165.20" text-anchor="middle" font-size="8.5" fill="#262626">200</text>
<text x="324.40" y="165.20" text-anchor="middle" font-size="8.5" fill="#262626">250</text>
<text x="369.60" y="165.20" text-anchor="middle" font-size="8.5" fill="#262626">300</text>
<text x="414.80" y="165.20" text-anchor="middle" font-size="8.5" fill="#262626">350</text>
<text x="460.00" y="165.20" text-anchor="middle" font-size="8.5" fill="#262626">400</text>
<clipPath id="cb"><rect x="272.8" y="7.8" width="199.39999999999998" height="147.5"/></clipPath>
<line x1="282.90" y1="19.90" x2="297.90" y2="19.90" stroke="#e81840" stroke-width="0.9" opacity="0.8"/>
<text x="299.20" y="22.40" font-size="6.4" fill="#333" style="stroke-width:0.16px;letter-spacing:0.1px">0.001 s</text>
<line x1="282.90" y1="27.93" x2="297.90" y2="27.93" stroke="#f02020" stroke-width="0.9" opacity="0.8"/>
<text x="299.20" y="30.43" font-size="6.4" fill="#333" style="stroke-width:0.16px;letter-spacing:0.1px">0.005 s</text>
<line x1="282.90" y1="35.96" x2="297.90" y2="35.96" stroke="#f05018" stroke-width="0.9" opacity="0.8"/>
<text x="299.20" y="38.46" font-size="6.4" fill="#333" style="stroke-width:0.16px;letter-spacing:0.1px">0.01 s</text>
<line x1="282.90" y1="43.99" x2="297.90" y2="43.99" stroke="#e88018" stroke-width="0.9" opacity="0.8"/>
<text x="299.20" y="46.49" font-size="6.4" fill="#333" style="stroke-width:0.16px;letter-spacing:0.1px">0.05 s</text>
<line x1="282.90" y1="52.02" x2="297.90" y2="52.02" stroke="#c8b818" stroke-width="0.9" opacity="0.8"/>
<text x="299.20" y="54.52" font-size="6.4" fill="#333" style="stroke-width:0.16px;letter-spacing:0.1px">0.1 s</text>
<line x1="282.90" y1="60.05" x2="297.90" y2="60.05" stroke="#a0d820" stroke-width="0.9" opacity="0.8"/>
<text x="299.20" y="62.55" font-size="6.4" fill="#333" style="stroke-width:0.16px;letter-spacing:0.1px">0.2 s</text>
<line x1="282.90" y1="68.08" x2="297.90" y2="68.08" stroke="#58d028" stroke-width="0.9" opacity="0.8"/>
<text x="299.20" y="70.58" font-size="6.4" fill="#333" style="stroke-width:0.16px;letter-spacing:0.1px">0.5 s</text>
<line x1="282.90" y1="76.11" x2="297.90" y2="76.11" stroke="#18c828" stroke-width="0.9" opacity="0.8"/>
<text x="299.20" y="78.61" font-size="6.4" fill="#333" style="stroke-width:0.16px;letter-spacing:0.1px">1 s</text>
<line x1="282.90" y1="84.14" x2="297.90" y2="84.14" stroke="#10b860" stroke-width="0.9" opacity="0.8"/>
<text x="299.20" y="86.64" font-size="6.4" fill="#333" style="stroke-width:0.16px;letter-spacing:0.1px">2 s</text>
<line x1="322.80" y1="19.90" x2="337.80" y2="19.90" stroke="#10c090" stroke-width="0.9" opacity="0.8"/>
<text x="339.10" y="22.40" font-size="6.4" fill="#333" style="stroke-width:0.16px;letter-spacing:0.1px">5 s</text>
<line x1="322.80" y1="27.93" x2="337.80" y2="27.93" stroke="#10c0c8" stroke-width="0.9" opacity="0.8"/>
<text x="339.10" y="30.43" font-size="6.4" fill="#333" style="stroke-width:0.16px;letter-spacing:0.1px">10 s</text>
<line x1="322.80" y1="35.96" x2="337.80" y2="35.96" stroke="#20a0e8" stroke-width="0.9" opacity="0.8"/>
<text x="339.10" y="38.46" font-size="6.4" fill="#333" style="stroke-width:0.16px;letter-spacing:0.1px">20 s</text>
<line x1="322.80" y1="43.99" x2="337.80" y2="43.99" stroke="#2078f0" stroke-width="0.9" opacity="0.8"/>
<text x="339.10" y="46.49" font-size="6.4" fill="#333" style="stroke-width:0.16px;letter-spacing:0.1px">50 s</text>
<line x1="322.80" y1="52.02" x2="337.80" y2="52.02" stroke="#3050f0" stroke-width="0.9" opacity="0.8"/>
<text x="339.10" y="54.52" font-size="6.4" fill="#333" style="stroke-width:0.16px;letter-spacing:0.1px">100 s</text>
<line x1="322.80" y1="60.05" x2="337.80" y2="60.05" stroke="#4838e8" stroke-width="0.9" opacity="0.8"/>
<text x="339.10" y="62.55" font-size="6.4" fill="#333" style="stroke-width:0.16px;letter-spacing:0.1px">200 s</text>
<line x1="322.80" y1="68.08" x2="337.80" y2="68.08" stroke="#5830e0" stroke-width="0.9" opacity="0.8"/>
<text x="339.10" y="70.58" font-size="6.4" fill="#333" style="stroke-width:0.16px;letter-spacing:0.1px">500 s</text>
<line x1="322.80" y1="76.11" x2="337.80" y2="76.11" stroke="#6828d8" stroke-width="0.9" opacity="0.8"/>
<text x="339.10" y="78.61" font-size="6.4" fill="#333" style="stroke-width:0.16px;letter-spacing:0.1px">1000 s</text>
<line x1="322.80" y1="84.14" x2="337.80" y2="84.14" stroke="#6a38d8" stroke-width="0.9" opacity="0.8"/>
<text x="339.10" y="86.64" font-size="6.4" fill="#333" style="stroke-width:0.16px;letter-spacing:0.1px">2000 s</text>
<text x="409.15" y="46.70" font-size="9.0" fill="#262626"><tspan font-style="italic" font-size="9.3">T</tspan><tspan font-style="italic" font-size="9.6" dy="2.4" dx="-0.2">ag</tspan><tspan dy="-2.4" dx="0.6"> = 203 K</tspan></text>
<g clip-path="url(#cb)"><line x1="272.8" y1="112.4" x2="472.2" y2="88.3" stroke="#222" stroke-width="1.0"/><line x1="272.8" y1="147.1" x2="472.2" y2="110.0" stroke="#222" stroke-width="1.0"/><polyline points="272.8,147.8 274.3,147.3 275.8,146.7 277.3,146.2 278.8,145.6 280.3,145.1 281.8,144.6 283.3,144.0 284.8,143.5 286.3,143.0 287.8,142.5 289.3,141.9 290.8,141.4 292.3,140.9 293.8,140.4 295.3,139.9 296.8,139.4 298.3,138.9 299.8,138.4 301.3,137.9 302.8,137.4 304.3,136.9 305.8,136.4 307.3,135.9 308.8,135.4 310.3,134.9 311.8,134.4 313.3,133.9 314.8,133.4 316.3,132.9 317.8,132.4 319.3,131.9 320.8,131.4 322.3,130.8 323.8,130.2 325.3,129.6 326.8,128.9 328.3,128.2 329.8,127.4 331.3,126.6 332.8,125.8 334.3,124.7 335.8,123.6 337.3,122.7 338.8,121.9 340.3,121.1 341.8,120.3 343.3,119.5 344.8,118.8 346.3,118.0 347.8,117.2 349.3,116.4 350.8,115.6 352.3,114.7 353.8,113.9 355.3,113.1 356.8,112.2 358.3,111.2 359.8,110.3 361.3,109.4 362.8,108.6 364.3,107.8 365.8,107.1 367.3,106.5 368.8,105.9 370.3,105.4 371.8,105.0 373.3,104.5 374.8,104.1 376.3,103.6 377.8,103.1 379.3,102.6 380.8,102.2 382.3,101.7 383.8,101.3 385.3,100.8 386.8,100.4 388.3,100.0 389.8,99.6 391.3,99.2 392.8,98.8 394.3,98.4 395.8,98.1 397.3,97.7 398.8,97.4 400.3,97.1 401.8,96.9 403.3,96.7 404.8,96.4 406.3,96.2 407.8,96.0 409.3,95.8 410.8,95.6 412.3,95.4 413.8,95.3 415.3,95.1 416.8,94.9 418.3,94.8 419.8,94.6 421.3,94.4 422.8,94.2 424.3,94.1 425.8,93.9 427.3,93.7 428.8,93.5 430.3,93.4 431.8,93.2 433.3,93.0 434.8,92.8 436.3,92.6 437.8,92.4 439.3,92.2 440.8,92.0 442.3,91.9 443.8,91.7 445.3,91.5 446.8,91.3 448.3,91.1 449.8,90.9 451.3,90.7 452.8,90.5 454.3,90.4 455.8,90.2 457.3,90.0 458.8,89.8 460.3,89.6 461.8,89.4 463.3,89.2 464.8,89.0 466.3,88.8 467.8,88.7 469.3,88.5 470.8,88.3 472.2,88.1" fill="none" stroke="#e81840" stroke-width="0.65"/><polyline points="272.8,147.8 274.3,147.3 275.8,146.7 277.3,146.2 278.8,145.6 280.3,145.1 281.8,144.6 283.3,144.0 284.8,143.5 286.3,143.0 287.8,142.5 289.3,141.9 290.8,141.4 292.3,140.9 293.8,140.4 295.3,139.9 296.8,139.4 298.3,138.9 299.8,138.4 301.3,137.9 302.8,137.4 304.3,136.9 305.8,136.4 307.3,135.9 308.8,135.4 310.3,134.9 311.8,134.4 313.3,133.9 314.8,133.4 316.3,132.9 317.8,132.4 319.3,131.9 320.8,131.4 322.3,130.8 323.8,130.2 325.3,129.6 326.8,128.9 328.3,128.2 329.8,127.4 331.3,126.6 332.8,125.8 334.3,124.7 335.8,123.6 337.3,122.7 338.8,121.9 340.3,121.1 341.8,120.3 343.3,119.5 344.8,118.8 346.3,118.0 347.8,117.2 349.3,116.4 350.8,115.6 352.3,114.7 353.8,113.9 355.3,113.1 356.8,112.2 358.3,111.2 359.8,110.3 361.3,109.4 362.8,108.6 364.3,107.8 365.8,107.1 367.3,106.5 368.8,105.9 370.3,105.4 371.8,105.0 373.3,104.5 374.8,104.1 376.3,103.6 377.8,103.1 379.3,102.6 380.8,102.2 382.3,101.7 383.8,101.3 385.3,100.8 386.8,100.4 388.3,100.0 389.8,99.6 391.3,99.2 392.8,98.8 394.3,98.4 395.8,98.1 397.3,97.7 398.8,97.4 400.3,97.1 401.8,96.9 403.3,96.7 404.8,96.4 406.3,96.2 407.8,96.0 409.3,95.8 410.8,95.6 412.3,95.4 413.8,95.3 415.3,95.1 416.8,94.9 418.3,94.8 419.8,94.6 421.3,94.4 422.8,94.2 424.3,94.1 425.8,93.9 427.3,93.7 428.8,93.5 430.3,93.4 431.8,93.2 433.3,93.0 434.8,92.8 436.3,92.6 437.8,92.4 439.3,92.2 440.8,92.0 442.3,91.9 443.8,91.7 445.3,91.5 446.8,91.3 448.3,91.1 449.8,90.9 451.3,90.7 452.8,90.5 454.3,90.4 455.8,90.2 457.3,90.0 458.8,89.8 460.3,89.6 461.8,89.4 463.3,89.2 464.8,89.0 466.3,88.8 467.8,88.7 469.3,88.5 470.8,88.3 472.2,88.1" fill="none" stroke="#f02020" stroke-width="0.65"/><polyline points="272.8,147.8 274.3,147.3 275.8,146.7 277.3,146.2 278.8,145.6 280.3,145.1 281.8,144.6 283.3,144.0 284.8,143.5 286.3,143.0 287.8,142.5 289.3,141.9 290.8,141.4 292.3,140.9 293.8,140.4 295.3,139.9 296.8,139.4 298.3,138.9 299.8,138.4 301.3,137.9 302.8,137.4 304.3,136.9 305.8,136.4 307.3,135.9 308.8,135.4 310.3,134.9 311.8,134.4 313.3,133.9 314.8,133.4 316.3,132.9 317.8,132.4 319.3,131.9 320.8,131.4 322.3,130.8 323.8,130.2 325.3,129.6 326.8,128.9 328.3,128.2 329.8,127.4 331.3,126.6 332.8,125.8 334.3,124.7 335.8,123.6 337.3,122.7 338.8,121.9 340.3,121.1 341.8,120.3 343.3,119.5 344.8,118.8 346.3,118.0 347.8,117.2 349.3,116.4 350.8,115.6 352.3,114.7 353.8,113.9 355.3,113.1 356.8,112.2 358.3,111.2 359.8,110.3 361.3,109.4 362.8,108.6 364.3,107.8 365.8,107.1 367.3,106.5 368.8,105.9 370.3,105.4 371.8,105.0 373.3,104.5 374.8,104.1 376.3,103.6 377.8,103.1 379.3,102.6 380.8,102.2 382.3,101.7 383.8,101.3 385.3,100.8 386.8,100.4 388.3,100.0 389.8,99.6 391.3,99.2 392.8,98.8 394.3,98.4 395.8,98.1 397.3,97.7 398.8,97.4 400.3,97.1 401.8,96.9 403.3,96.7 404.8,96.4 406.3,96.2 407.8,96.0 409.3,95.8 410.8,95.6 412.3,95.4 413.8,95.3 415.3,95.1 416.8,94.9 418.3,94.8 419.8,94.6 421.3,94.4 422.8,94.2 424.3,94.1 425.8,93.9 427.3,93.7 428.8,93.5 430.3,93.4 431.8,93.2 433.3,93.0 434.8,92.8 436.3,92.6 437.8,92.4 439.3,92.2 440.8,92.0 442.3,91.9 443.8,91.7 445.3,91.5 446.8,91.3 448.3,91.1 449.8,90.9 451.3,90.7 452.8,90.5 454.3,90.4 455.8,90.2 457.3,90.0 458.8,89.8 460.3,89.6 461.8,89.4 463.3,89.2 464.8,89.0 466.3,88.8 467.8,88.7 469.3,88.5 470.8,88.3 472.2,88.1" fill="none" stroke="#f05018" stroke-width="0.65"/><polyline points="272.8,147.8 274.3,147.3 275.8,146.7 277.3,146.2 278.8,145.6 280.3,145.1 281.8,144.6 283.3,144.0 284.8,143.5 286.3,143.0 287.8,142.5 289.3,141.9 290.8,141.4 292.3,140.9 293.8,140.4 295.3,139.9 296.8,139.4 298.3,138.9 299.8,138.4 301.3,137.9 302.8,137.4 304.3,136.9 305.8,136.4 307.3,135.9 308.8,135.4 310.3,134.9 311.8,134.4 313.3,133.9 314.8,133.4 316.3,132.9 317.8,132.4 319.3,131.9 320.8,131.4 322.3,130.8 323.8,130.2 325.3,129.6 326.8,128.9 328.3,128.2 329.8,127.4 331.3,126.6 332.8,125.8 334.3,124.7 335.8,123.6 337.3,122.7 338.8,121.9 340.3,121.1 341.8,120.3 343.3,119.5 344.8,118.8 346.3,118.0 347.8,117.2 349.3,116.4 350.8,115.6 352.3,114.7 353.8,113.9 355.3,113.1 356.8,112.2 358.3,111.2 359.8,110.3 361.3,109.4 362.8,108.6 364.3,107.8 365.8,107.1 367.3,106.5 368.8,105.9 370.3,105.4 371.8,105.0 373.3,104.5 374.8,104.1 376.3,103.6 377.8,103.1 379.3,102.6 380.8,102.2 382.3,101.7 383.8,101.3 385.3,100.8 386.8,100.4 388.3,100.0 389.8,99.6 391.3,99.2 392.8,98.8 394.3,98.4 395.8,98.1 397.3,97.7 398.8,97.4 400.3,97.1 401.8,96.9 403.3,96.7 404.8,96.4 406.3,96.2 407.8,96.0 409.3,95.8 410.8,95.6 412.3,95.4 413.8,95.3 415.3,95.1 416.8,94.9 418.3,94.8 419.8,94.6 421.3,94.4 422.8,94.2 424.3,94.1 425.8,93.9 427.3,93.7 428.8,93.5 430.3,93.4 431.8,93.2 433.3,93.0 434.8,92.8 436.3,92.6 437.8,92.4 439.3,92.2 440.8,92.0 442.3,91.9 443.8,91.7 445.3,91.5 446.8,91.3 448.3,91.1 449.8,90.9 451.3,90.7 452.8,90.5 454.3,90.4 455.8,90.2 457.3,90.0 458.8,89.8 460.3,89.6 461.8,89.4 463.3,89.2 464.8,89.0 466.3,88.8 467.8,88.7 469.3,88.5 470.8,88.3 472.2,88.1" fill="none" stroke="#e88018" stroke-width="0.65"/><polyline points="272.8,147.8 274.3,147.3 275.8,146.7 277.3,146.2 278.8,145.6 280.3,145.1 281.8,144.6 283.3,144.0 284.8,143.5 286.3,143.0 287.8,142.5 289.3,141.9 290.8,141.4 292.3,140.9 293.8,140.4 295.3,139.9 296.8,139.4 298.3,138.9 299.8,138.4 301.3,137.9 302.8,137.4 304.3,136.9 305.8,136.4 307.3,135.9 308.8,135.4 310.3,134.9 311.8,134.4 313.3,133.9 314.8,133.4 316.3,132.9 317.8,132.4 319.3,131.9 320.8,131.4 322.3,130.8 323.8,130.2 325.3,129.6 326.8,128.9 328.3,128.2 329.8,127.4 331.3,126.6 332.8,125.8 334.3,124.7 335.8,123.6 337.3,122.7 338.8,121.9 340.3,121.1 341.8,120.3 343.3,119.5 344.8,118.8 346.3,118.0 347.8,117.2 349.3,116.4 350.8,115.6 352.3,114.7 353.8,113.9 355.3,113.1 356.8,112.2 358.3,111.2 359.8,110.3 361.3,109.4 362.8,108.6 364.3,107.8 365.8,107.1 367.3,106.5 368.8,105.9 370.3,105.4 371.8,105.0 373.3,104.5 374.8,104.1 376.3,103.6 377.8,103.1 379.3,102.6 380.8,102.2 382.3,101.7 383.8,101.3 385.3,100.8 386.8,100.4 388.3,100.0 389.8,99.6 391.3,99.2 392.8,98.8 394.3,98.4 395.8,98.1 397.3,97.7 398.8,97.4 400.3,97.1 401.8,96.9 403.3,96.7 404.8,96.4 406.3,96.2 407.8,96.0 409.3,95.8 410.8,95.6 412.3,95.4 413.8,95.3 415.3,95.1 416.8,94.9 418.3,94.8 419.8,94.6 421.3,94.4 422.8,94.2 424.3,94.1 425.8,93.9 427.3,93.7 428.8,93.5 430.3,93.4 431.8,93.2 433.3,93.0 434.8,92.8 436.3,92.6 437.8,92.4 439.3,92.2 440.8,92.0 442.3,91.9 443.8,91.7 445.3,91.5 446.8,91.3 448.3,91.1 449.8,90.9 451.3,90.7 452.8,90.5 454.3,90.4 455.8,90.2 457.3,90.0 458.8,89.8 460.3,89.6 461.8,89.4 463.3,89.2 464.8,89.0 466.3,88.8 467.8,88.7 469.3,88.5 470.8,88.3 472.2,88.1" fill="none" stroke="#c8b818" stroke-width="0.65"/><polyline points="272.8,147.8 274.3,147.3 275.8,146.7 277.3,146.2 278.8,145.6 280.3,145.1 281.8,144.6 283.3,144.0 284.8,143.5 286.3,143.0 287.8,142.5 289.3,141.9 290.8,141.4 292.3,140.9 293.8,140.4 295.3,139.9 296.8,139.4 298.3,138.9 299.8,138.4 301.3,137.9 302.8,137.4 304.3,136.9 305.8,136.4 307.3,135.9 308.8,135.4 310.3,134.9 311.8,134.4 313.3,133.9 314.8,133.4 316.3,132.9 317.8,132.4 319.3,131.9 320.8,131.4 322.3,130.8 323.8,130.2 325.3,129.6 326.8,128.9 328.3,128.2 329.8,127.4 331.3,126.6 332.8,125.8 334.3,124.7 335.8,123.6 337.3,122.7 338.8,121.9 340.3,121.1 341.8,120.3 343.3,119.5 344.8,118.8 346.3,118.0 347.8,117.2 349.3,116.4 350.8,115.6 352.3,114.7 353.8,113.9 355.3,113.1 356.8,112.2 358.3,111.2 359.8,110.3 361.3,109.4 362.8,108.6 364.3,107.8 365.8,107.1 367.3,106.5 368.8,105.9 370.3,105.4 371.8,105.0 373.3,104.5 374.8,104.1 376.3,103.6 377.8,103.1 379.3,102.6 380.8,102.2 382.3,101.7 383.8,101.3 385.3,100.8 386.8,100.4 388.3,100.0 389.8,99.6 391.3,99.2 392.8,98.8 394.3,98.4 395.8,98.1 397.3,97.7 398.8,97.4 400.3,97.1 401.8,96.9 403.3,96.7 404.8,96.4 406.3,96.2 407.8,96.0 409.3,95.8 410.8,95.6 412.3,95.4 413.8,95.3 415.3,95.1 416.8,94.9 418.3,94.8 419.8,94.6 421.3,94.4 422.8,94.2 424.3,94.1 425.8,93.9 427.3,93.7 428.8,93.5 430.3,93.4 431.8,93.2 433.3,93.0 434.8,92.8 436.3,92.6 437.8,92.4 439.3,92.2 440.8,92.0 442.3,91.9 443.8,91.7 445.3,91.5 446.8,91.3 448.3,91.1 449.8,90.9 451.3,90.7 452.8,90.5 454.3,90.4 455.8,90.2 457.3,90.0 458.8,89.8 460.3,89.6 461.8,89.4 463.3,89.2 464.8,89.0 466.3,88.8 467.8,88.7 469.3,88.5 470.8,88.3 472.2,88.1" fill="none" stroke="#a0d820" stroke-width="0.65"/><polyline points="272.8,147.3 274.3,146.8 275.8,146.3 277.3,145.7 278.8,145.2 280.3,144.7 281.8,144.2 283.3,143.7 284.8,143.1 286.3,142.6 287.8,142.1 289.3,141.6 290.8,141.1 292.3,140.6 293.8,140.1 295.3,139.6 296.8,139.1 298.3,138.6 299.8,138.1 301.3,137.7 302.8,137.2 304.3,136.7 305.8,136.2 307.3,135.7 308.8,135.2 310.3,134.7 311.8,134.2 313.3,133.7 314.8,133.2 316.3,132.7 317.8,132.2 319.3,131.7 320.8,131.2 322.3,130.6 323.8,130.0 325.3,129.4 326.8,128.7 328.3,128.0 329.8,127.2 331.3,126.3 332.8,125.2 334.3,123.8 335.8,122.6 337.3,121.6 338.8,120.9 340.3,120.1 341.8,119.4 343.3,118.6 344.8,117.9 346.3,117.2 347.8,116.4 349.3,115.7 350.8,115.0 352.3,114.2 353.8,113.5 355.3,112.7 356.8,111.8 358.3,111.0 359.8,110.1 361.3,109.3 362.8,108.4 364.3,107.7 365.8,107.0 367.3,106.4 368.8,105.9 370.3,105.4 371.8,105.0 373.3,104.5 374.8,104.1 376.3,103.6 377.8,103.1 379.3,102.6 380.8,102.2 382.3,101.7 383.8,101.3 385.3,100.8 386.8,100.4 388.3,100.0 389.8,99.6 391.3,99.2 392.8,98.8 394.3,98.4 395.8,98.1 397.3,97.7 398.8,97.4 400.3,97.1 401.8,96.9 403.3,96.7 404.8,96.4 406.3,96.2 407.8,96.0 409.3,95.8 410.8,95.6 412.3,95.4 413.8,95.3 415.3,95.1 416.8,94.9 418.3,94.8 419.8,94.6 421.3,94.4 422.8,94.2 424.3,94.1 425.8,93.9 427.3,93.7 428.8,93.5 430.3,93.4 431.8,93.2 433.3,93.0 434.8,92.8 436.3,92.6 437.8,92.4 439.3,92.2 440.8,92.0 442.3,91.9 443.8,91.7 445.3,91.5 446.8,91.3 448.3,91.1 449.8,90.9 451.3,90.7 452.8,90.5 454.3,90.4 455.8,90.2 457.3,90.0 458.8,89.8 460.3,89.6 461.8,89.4 463.3,89.2 464.8,89.0 466.3,88.8 467.8,88.7 469.3,88.5 470.8,88.3 472.2,88.1" fill="none" stroke="#58d028" stroke-width="0.65"/><polyline points="272.8,147.1 274.3,146.6 275.8,146.1 277.3,145.6 278.8,145.1 280.3,144.6 281.8,144.1 283.3,143.6 284.8,143.1 286.3,142.6 287.8,142.2 289.3,141.7 290.8,141.2 292.3,140.7 293.8,140.2 295.3,139.7 296.8,139.3 298.3,138.8 299.8,138.3 301.3,137.8 302.8,137.4 304.3,136.9 305.8,136.4 307.3,135.9 308.8,135.4 310.3,134.9 311.8,134.4 313.3,133.9 314.8,133.4 316.3,132.9 317.8,132.4 319.3,131.9 320.8,131.4 322.3,130.8 323.8,130.2 325.3,129.6 326.8,128.9 328.3,128.2 329.8,127.2 331.3,125.9 332.8,124.3 334.3,122.7 335.8,121.4 337.3,120.4 338.8,119.6 340.3,118.9 341.8,118.2 343.3,117.5 344.8,116.9 346.3,116.2 347.8,115.5 349.3,114.9 350.8,114.2 352.3,113.5 353.8,112.9 355.3,112.1 356.8,111.4 358.3,110.6 359.8,109.8 361.3,109.0 362.8,108.3 364.3,107.6 365.8,106.9 367.3,106.3 368.8,105.9 370.3,105.4 371.8,105.0 373.3,104.5 374.8,104.1 376.3,103.6 377.8,103.1 379.3,102.6 380.8,102.2 382.3,101.7 383.8,101.3 385.3,100.8 386.8,100.4 388.3,100.0 389.8,99.6 391.3,99.2 392.8,98.8 394.3,98.4 395.8,98.1 397.3,97.7 398.8,97.4 400.3,97.1 401.8,96.9 403.3,96.7 404.8,96.4 406.3,96.2 407.8,96.0 409.3,95.8 410.8,95.6 412.3,95.4 413.8,95.3 415.3,95.1 416.8,94.9 418.3,94.8 419.8,94.6 421.3,94.4 422.8,94.2 424.3,94.1 425.8,93.9 427.3,93.7 428.8,93.5 430.3,93.4 431.8,93.2 433.3,93.0 434.8,92.8 436.3,92.6 437.8,92.4 439.3,92.2 440.8,92.0 442.3,91.9 443.8,91.7 445.3,91.5 446.8,91.3 448.3,91.1 449.8,90.9 451.3,90.7 452.8,90.5 454.3,90.4 455.8,90.2 457.3,90.0 458.8,89.8 460.3,89.6 461.8,89.4 463.3,89.2 464.8,89.0 466.3,88.8 467.8,88.7 469.3,88.5 470.8,88.3 472.2,88.1" fill="none" stroke="#18c828" stroke-width="0.65"/><polyline points="272.8,147.1 274.3,146.7 275.8,146.2 277.3,145.7 278.8,145.2 280.3,144.8 281.8,144.3 283.3,143.8 284.8,143.3 286.3,142.9 287.8,142.4 289.3,141.9 290.8,141.4 292.3,141.0 293.8,140.5 295.3,140.0 296.8,139.6 298.3,139.1 299.8,138.7 301.3,138.2 302.8,137.7 304.3,137.3 305.8,136.8 307.3,136.3 308.8,135.8 310.3,135.3 311.8,134.8 313.3,134.3 314.8,133.8 316.3,133.3 317.8,132.8 319.3,132.3 320.8,131.8 322.3,131.2 323.8,130.6 325.3,130.0 326.8,129.3 328.3,128.3 329.8,127.0 331.3,125.2 332.8,123.3 334.3,121.6 335.8,120.1 337.3,119.0 338.8,118.3 340.3,117.6 341.8,116.9 343.3,116.3 344.8,115.7 346.3,115.1 347.8,114.5 349.3,113.9 350.8,113.3 352.3,112.8 353.8,112.2 355.3,111.5 356.8,110.9 358.3,110.2 359.8,109.5 361.3,108.8 362.8,108.1 364.3,107.4 365.8,106.8 367.3,106.3 368.8,105.8 370.3,105.4 371.8,105.0 373.3,104.5 374.8,104.1 376.3,103.6 377.8,103.1 379.3,102.6 380.8,102.2 382.3,101.7 383.8,101.3 385.3,100.8 386.8,100.4 388.3,100.0 389.8,99.6 391.3,99.2 392.8,98.8 394.3,98.4 395.8,98.1 397.3,97.7 398.8,97.4 400.3,97.1 401.8,96.9 403.3,96.7 404.8,96.4 406.3,96.2 407.8,96.0 409.3,95.8 410.8,95.6 412.3,95.4 413.8,95.3 415.3,95.1 416.8,94.9 418.3,94.8 419.8,94.6 421.3,94.4 422.8,94.2 424.3,94.1 425.8,93.9 427.3,93.7 428.8,93.5 430.3,93.4 431.8,93.2 433.3,93.0 434.8,92.8 436.3,92.6 437.8,92.4 439.3,92.2 440.8,92.0 442.3,91.9 443.8,91.7 445.3,91.5 446.8,91.3 448.3,91.1 449.8,90.9 451.3,90.7 452.8,90.5 454.3,90.4 455.8,90.2 457.3,90.0 458.8,89.8 460.3,89.6 461.8,89.4 463.3,89.2 464.8,89.0 466.3,88.8 467.8,88.7 469.3,88.5 470.8,88.3 472.2,88.1" fill="none" stroke="#10b860" stroke-width="0.65"/><polyline points="272.8,147.2 274.3,146.7 275.8,146.3 277.3,145.8 278.8,145.4 280.3,144.9 281.8,144.5 283.3,144.0 284.8,143.6 286.3,143.1 287.8,142.6 289.3,142.2 290.8,141.7 292.3,141.3 293.8,140.8 295.3,140.4 296.8,139.9 298.3,139.5 299.8,139.0 301.3,138.6 302.8,138.1 304.3,137.6 305.8,137.2 307.3,136.7 308.8,136.2 310.3,135.7 311.8,135.2 313.3,134.7 314.8,134.2 316.3,133.7 317.8,133.2 319.3,132.7 320.8,132.2 322.3,131.6 323.8,131.0 325.3,130.4 326.8,129.4 328.3,128.1 329.8,126.3 331.3,124.3 332.8,122.3 334.3,120.4 335.8,118.9 337.3,117.7 338.8,116.9 340.3,116.2 341.8,115.6 343.3,115.0 344.8,114.4 346.3,113.9 347.8,113.4 349.3,112.8 350.8,112.4 352.3,111.9 353.8,111.4 355.3,110.9 356.8,110.3 358.3,109.7 359.8,109.1 361.3,108.5 362.8,107.8 364.3,107.2 365.8,106.7 367.3,106.2 368.8,105.8 370.3,105.4 371.8,105.0 373.3,104.5 374.8,104.1 376.3,103.6 377.8,103.1 379.3,102.6 380.8,102.2 382.3,101.7 383.8,101.3 385.3,100.8 386.8,100.4 388.3,100.0 389.8,99.6 391.3,99.2 392.8,98.8 394.3,98.4 395.8,98.1 397.3,97.7 398.8,97.4 400.3,97.1 401.8,96.9 403.3,96.7 404.8,96.4 406.3,96.2 407.8,96.0 409.3,95.8 410.8,95.6 412.3,95.4 413.8,95.3 415.3,95.1 416.8,94.9 418.3,94.8 419.8,94.6 421.3,94.4 422.8,94.2 424.3,94.1 425.8,93.9 427.3,93.7 428.8,93.5 430.3,93.4 431.8,93.2 433.3,93.0 434.8,92.8 436.3,92.6 437.8,92.4 439.3,92.2 440.8,92.0 442.3,91.9 443.8,91.7 445.3,91.5 446.8,91.3 448.3,91.1 449.8,90.9 451.3,90.7 452.8,90.5 454.3,90.4 455.8,90.2 457.3,90.0 458.8,89.8 460.3,89.6 461.8,89.4 463.3,89.2 464.8,89.0 466.3,88.8 467.8,88.7 469.3,88.5 470.8,88.3 472.2,88.1" fill="none" stroke="#10c090" stroke-width="0.65"/><polyline points="272.8,147.2 274.3,146.8 275.8,146.4 277.3,145.9 278.8,145.5 280.3,145.1 281.8,144.6 283.3,144.2 284.8,143.8 286.3,143.3 287.8,142.9 289.3,142.4 290.8,142.0 292.3,141.6 293.8,141.1 295.3,140.7 296.8,140.2 298.3,139.8 299.8,139.4 301.3,138.9 302.8,138.5 304.3,138.0 305.8,137.6 307.3,137.1 308.8,136.6 310.3,136.1 311.8,135.6 313.3,135.1 314.8,134.6 316.3,134.1 317.8,133.6 319.3,133.1 320.8,132.6 322.3,132.0 323.8,131.4 325.3,130.5 326.8,129.1 328.3,127.4 329.8,125.5 331.3,123.4 332.8,121.3 334.3,119.3 335.8,117.6 337.3,116.3 338.8,115.4 340.3,114.8 341.8,114.1 343.3,113.5 344.8,113.0 346.3,112.6 347.8,112.1 349.3,111.7 350.8,111.3 352.3,110.9 353.8,110.5 355.3,110.1 356.8,109.6 358.3,109.1 359.8,108.6 361.3,108.1 362.8,107.6 364.3,107.0 365.8,106.5 367.3,106.1 368.8,105.7 370.3,105.3 371.8,105.0 373.3,104.5 374.8,104.1 376.3,103.6 377.8,103.1 379.3,102.6 380.8,102.2 382.3,101.7 383.8,101.3 385.3,100.8 386.8,100.4 388.3,100.0 389.8,99.6 391.3,99.2 392.8,98.8 394.3,98.4 395.8,98.1 397.3,97.7 398.8,97.4 400.3,97.1 401.8,96.9 403.3,96.7 404.8,96.4 406.3,96.2 407.8,96.0 409.3,95.8 410.8,95.6 412.3,95.4 413.8,95.3 415.3,95.1 416.8,94.9 418.3,94.8 419.8,94.6 421.3,94.4 422.8,94.2 424.3,94.1 425.8,93.9 427.3,93.7 428.8,93.5 430.3,93.4 431.8,93.2 433.3,93.0 434.8,92.8 436.3,92.6 437.8,92.4 439.3,92.2 440.8,92.0 442.3,91.9 443.8,91.7 445.3,91.5 446.8,91.3 448.3,91.1 449.8,90.9 451.3,90.7 452.8,90.5 454.3,90.4 455.8,90.2 457.3,90.0 458.8,89.8 460.3,89.6 461.8,89.4 463.3,89.2 464.8,89.0 466.3,88.8 467.8,88.7 469.3,88.5 470.8,88.3 472.2,88.1" fill="none" stroke="#10c0c8" stroke-width="0.65"/><polyline points="272.8,147.2 274.3,146.8 275.8,146.4 277.3,146.0 278.8,145.6 280.3,145.2 281.8,144.8 283.3,144.4 284.8,144.0 286.3,143.6 287.8,143.1 289.3,142.7 290.8,142.3 292.3,141.8 293.8,141.4 295.3,141.0 296.8,140.6 298.3,140.2 299.8,139.7 301.3,139.3 302.8,138.9 304.3,138.4 305.8,138.0 307.3,137.5 308.8,137.0 310.3,136.5 311.8,136.0 313.3,135.5 314.8,135.0 316.3,134.5 317.8,134.0 319.3,133.5 320.8,133.0 322.3,132.4 323.8,131.5 325.3,130.2 326.8,128.5 328.3,126.6 329.8,124.5 331.3,122.5 332.8,120.3 334.3,118.2 335.8,116.4 337.3,114.9 338.8,113.9 340.3,113.2 341.8,112.6 343.3,112.1 344.8,111.6 346.3,111.1 347.8,110.8 349.3,110.5 350.8,110.1 352.3,109.8 353.8,109.6 355.3,109.3 356.8,108.9 358.3,108.5 359.8,108.1 361.3,107.7 362.8,107.3 364.3,106.8 365.8,106.4 367.3,106.0 368.8,105.7 370.3,105.3 371.8,105.0 373.3,104.5 374.8,104.1 376.3,103.6 377.8,103.1 379.3,102.6 380.8,102.2 382.3,101.7 383.8,101.3 385.3,100.8 386.8,100.4 388.3,100.0 389.8,99.6 391.3,99.2 392.8,98.8 394.3,98.4 395.8,98.1 397.3,97.7 398.8,97.4 400.3,97.1 401.8,96.9 403.3,96.7 404.8,96.4 406.3,96.2 407.8,96.0 409.3,95.8 410.8,95.6 412.3,95.4 413.8,95.3 415.3,95.1 416.8,94.9 418.3,94.8 419.8,94.6 421.3,94.4 422.8,94.2 424.3,94.1 425.8,93.9 427.3,93.7 428.8,93.5 430.3,93.4 431.8,93.2 433.3,93.0 434.8,92.8 436.3,92.6 437.8,92.4 439.3,92.2 440.8,92.0 442.3,91.9 443.8,91.7 445.3,91.5 446.8,91.3 448.3,91.1 449.8,90.9 451.3,90.7 452.8,90.5 454.3,90.4 455.8,90.2 457.3,90.0 458.8,89.8 460.3,89.6 461.8,89.4 463.3,89.2 464.8,89.0 466.3,88.8 467.8,88.7 469.3,88.5 470.8,88.3 472.2,88.1" fill="none" stroke="#20a0e8" stroke-width="0.65"/><polyline points="272.8,147.3 274.3,146.9 275.8,146.5 277.3,146.2 278.8,145.8 280.3,145.4 281.8,145.0 283.3,144.6 284.8,144.2 286.3,143.8 287.8,143.4 289.3,143.0 290.8,142.5 292.3,142.1 293.8,141.7 295.3,141.3 296.8,140.9 298.3,140.5 299.8,140.1 301.3,139.7 302.8,139.2 304.3,138.8 305.8,138.3 307.3,137.9 308.8,137.4 310.3,136.9 311.8,136.4 313.3,135.9 314.8,135.4 316.3,134.9 317.8,134.4 319.3,133.9 320.8,133.3 322.3,132.5 323.8,131.2 325.3,129.5 326.8,127.7 328.3,125.7 329.8,123.6 331.3,121.5 332.8,119.4 334.3,117.2 335.8,115.2 337.3,113.6 338.8,112.4 340.3,111.7 341.8,111.1 343.3,110.5 344.8,110.0 346.3,109.6 347.8,109.4 349.3,109.1 350.8,108.9 352.3,108.7 353.8,108.5 355.3,108.4 356.8,108.1 358.3,107.8 359.8,107.6 361.3,107.3 362.8,107.0 364.3,106.6 365.8,106.2 367.3,105.9 368.8,105.6 370.3,105.3 371.8,105.0 373.3,104.5 374.8,104.1 376.3,103.6 377.8,103.1 379.3,102.6 380.8,102.2 382.3,101.7 383.8,101.3 385.3,100.8 386.8,100.4 388.3,100.0 389.8,99.6 391.3,99.2 392.8,98.8 394.3,98.4 395.8,98.1 397.3,97.7 398.8,97.4 400.3,97.1 401.8,96.9 403.3,96.7 404.8,96.4 406.3,96.2 407.8,96.0 409.3,95.8 410.8,95.6 412.3,95.4 413.8,95.3 415.3,95.1 416.8,94.9 418.3,94.8 419.8,94.6 421.3,94.4 422.8,94.2 424.3,94.1 425.8,93.9 427.3,93.7 428.8,93.5 430.3,93.4 431.8,93.2 433.3,93.0 434.8,92.8 436.3,92.6 437.8,92.4 439.3,92.2 440.8,92.0 442.3,91.9 443.8,91.7 445.3,91.5 446.8,91.3 448.3,91.1 449.8,90.9 451.3,90.7 452.8,90.5 454.3,90.4 455.8,90.2 457.3,90.0 458.8,89.8 460.3,89.6 461.8,89.4 463.3,89.2 464.8,89.0 466.3,88.8 467.8,88.7 469.3,88.5 470.8,88.3 472.2,88.1" fill="none" stroke="#2078f0" stroke-width="0.65"/><polyline points="272.8,147.3 274.3,147.0 275.8,146.6 277.3,146.3 278.8,145.9 280.3,145.5 281.8,145.2 283.3,144.8 284.8,144.4 286.3,144.0 287.8,143.6 289.3,143.2 290.8,142.8 292.3,142.4 293.8,142.0 295.3,141.6 296.8,141.2 298.3,140.8 299.8,140.4 301.3,140.0 302.8,139.6 304.3,139.2 305.8,138.7 307.3,138.3 308.8,137.8 310.3,137.3 311.8,136.8 313.3,136.3 314.8,135.8 316.3,135.3 317.8,134.8 319.3,134.1 320.8,133.3 322.3,132.2 323.8,130.6 325.3,128.7 326.8,126.8 328.3,124.8 329.8,122.7 331.3,120.6 332.8,118.4 334.3,116.2 335.8,114.0 337.3,112.3 338.8,110.9 340.3,110.1 341.8,109.5 343.3,108.9 344.8,108.5 346.3,108.1 347.8,107.8 349.3,107.7 350.8,107.6 352.3,107.4 353.8,107.4 355.3,107.4 356.8,107.2 358.3,107.1 359.8,107.0 361.3,106.8 362.8,106.6 364.3,106.3 365.8,106.0 367.3,105.8 368.8,105.5 370.3,105.3 371.8,105.0 373.3,104.5 374.8,104.1 376.3,103.6 377.8,103.1 379.3,102.6 380.8,102.2 382.3,101.7 383.8,101.3 385.3,100.8 386.8,100.4 388.3,100.0 389.8,99.6 391.3,99.2 392.8,98.8 394.3,98.4 395.8,98.1 397.3,97.7 398.8,97.4 400.3,97.1 401.8,96.9 403.3,96.7 404.8,96.4 406.3,96.2 407.8,96.0 409.3,95.8 410.8,95.6 412.3,95.4 413.8,95.3 415.3,95.1 416.8,94.9 418.3,94.8 419.8,94.6 421.3,94.4 422.8,94.2 424.3,94.1 425.8,93.9 427.3,93.7 428.8,93.5 430.3,93.4 431.8,93.2 433.3,93.0 434.8,92.8 436.3,92.6 437.8,92.4 439.3,92.2 440.8,92.0 442.3,91.9 443.8,91.7 445.3,91.5 446.8,91.3 448.3,91.1 449.8,90.9 451.3,90.7 452.8,90.5 454.3,90.4 455.8,90.2 457.3,90.0 458.8,89.8 460.3,89.6 461.8,89.4 463.3,89.2 464.8,89.0 466.3,88.8 467.8,88.7 469.3,88.5 470.8,88.3 472.2,88.1" fill="none" stroke="#3050f0" stroke-width="0.65"/><polyline points="272.8,147.4 274.3,147.0 275.8,146.7 277.3,146.4 278.8,146.0 280.3,145.7 281.8,145.3 283.3,145.0 284.8,144.6 286.3,144.3 287.8,143.9 289.3,143.5 290.8,143.1 292.3,142.7 293.8,142.3 295.3,141.9 296.8,141.6 298.3,141.2 299.8,140.8 301.3,140.4 302.8,140.0 304.3,139.6 305.8,139.1 307.3,138.7 308.8,138.2 310.3,137.7 311.8,137.2 313.3,136.7 314.8,136.2 316.3,135.6 317.8,134.9 319.3,134.2 320.8,133.1 322.3,131.6 323.8,129.7 325.3,127.9 326.8,125.9 328.3,123.9 329.8,121.8 331.3,119.6 332.8,117.4 334.3,115.2 335.8,112.9 337.3,111.0 338.8,109.5 340.3,108.4 341.8,107.8 343.3,107.3 344.8,106.9 346.3,106.5 347.8,106.2 349.3,106.2 350.8,106.1 352.3,106.1 353.8,106.2 355.3,106.3 356.8,106.3 358.3,106.3 359.8,106.3 361.3,106.3 362.8,106.3 364.3,106.1 365.8,105.8 367.3,105.6 368.8,105.5 370.3,105.2 371.8,105.0 373.3,104.5 374.8,104.1 376.3,103.6 377.8,103.1 379.3,102.6 380.8,102.2 382.3,101.7 383.8,101.3 385.3,100.8 386.8,100.4 388.3,100.0 389.8,99.6 391.3,99.2 392.8,98.8 394.3,98.4 395.8,98.1 397.3,97.7 398.8,97.4 400.3,97.1 401.8,96.9 403.3,96.7 404.8,96.4 406.3,96.2 407.8,96.0 409.3,95.8 410.8,95.6 412.3,95.4 413.8,95.3 415.3,95.1 416.8,94.9 418.3,94.8 419.8,94.6 421.3,94.4 422.8,94.2 424.3,94.1 425.8,93.9 427.3,93.7 428.8,93.5 430.3,93.4 431.8,93.2 433.3,93.0 434.8,92.8 436.3,92.6 437.8,92.4 439.3,92.2 440.8,92.0 442.3,91.9 443.8,91.7 445.3,91.5 446.8,91.3 448.3,91.1 449.8,90.9 451.3,90.7 452.8,90.5 454.3,90.4 455.8,90.2 457.3,90.0 458.8,89.8 460.3,89.6 461.8,89.4 463.3,89.2 464.8,89.0 466.3,88.8 467.8,88.7 469.3,88.5 470.8,88.3 472.2,88.1" fill="none" stroke="#4838e8" stroke-width="0.65"/><polyline points="272.8,147.4 274.3,147.1 275.8,146.8 277.3,146.5 278.8,146.2 280.3,145.8 281.8,145.5 283.3,145.2 284.8,144.8 286.3,144.5 287.8,144.1 289.3,143.7 290.8,143.4 292.3,143.0 293.8,142.6 295.3,142.3 296.8,141.9 298.3,141.5 299.8,141.1 301.3,140.8 302.8,140.4 304.3,140.0 305.8,139.5 307.3,139.1 308.8,138.6 310.3,138.1 311.8,137.5 313.3,137.0 314.8,136.4 316.3,135.7 317.8,134.9 319.3,133.9 320.8,132.5 322.3,130.8 323.8,128.9 325.3,127.0 326.8,125.0 328.3,122.9 329.8,120.8 331.3,118.6 332.8,116.4 334.3,114.1 335.8,111.9 337.3,109.7 338.8,108.0 340.3,106.9 341.8,106.2 343.3,105.7 344.8,105.2 346.3,104.8 347.8,104.6 349.3,104.6 350.8,104.6 352.3,104.8 353.8,104.9 355.3,105.1 356.8,105.3 358.3,105.4 359.8,105.6 361.3,105.7 362.8,105.8 364.3,105.8 365.8,105.6 367.3,105.5 368.8,105.4 370.3,105.2 371.8,105.0 373.3,104.5 374.8,104.1 376.3,103.6 377.8,103.1 379.3,102.6 380.8,102.2 382.3,101.7 383.8,101.3 385.3,100.8 386.8,100.4 388.3,100.0 389.8,99.6 391.3,99.2 392.8,98.8 394.3,98.4 395.8,98.1 397.3,97.7 398.8,97.4 400.3,97.1 401.8,96.9 403.3,96.7 404.8,96.4 406.3,96.2 407.8,96.0 409.3,95.8 410.8,95.6 412.3,95.4 413.8,95.3 415.3,95.1 416.8,94.9 418.3,94.8 419.8,94.6 421.3,94.4 422.8,94.2 424.3,94.1 425.8,93.9 427.3,93.7 428.8,93.5 430.3,93.4 431.8,93.2 433.3,93.0 434.8,92.8 436.3,92.6 437.8,92.4 439.3,92.2 440.8,92.0 442.3,91.9 443.8,91.7 445.3,91.5 446.8,91.3 448.3,91.1 449.8,90.9 451.3,90.7 452.8,90.5 454.3,90.4 455.8,90.2 457.3,90.0 458.8,89.8 460.3,89.6 461.8,89.4 463.3,89.2 464.8,89.0 466.3,88.8 467.8,88.7 469.3,88.5 470.8,88.3 472.2,88.1" fill="none" stroke="#5830e0" stroke-width="0.65"/><polyline points="272.8,147.5 274.3,147.2 275.8,146.9 277.3,146.6 278.8,146.3 280.3,146.0 281.8,145.7 283.3,145.4 284.8,145.0 286.3,144.7 287.8,144.4 289.3,144.0 290.8,143.6 292.3,143.3 293.8,142.9 295.3,142.6 296.8,142.2 298.3,141.9 299.8,141.5 301.3,141.1 302.8,140.7 304.3,140.3 305.8,139.8 307.3,139.3 308.8,138.8 310.3,138.3 311.8,137.7 313.3,137.1 314.8,136.4 316.3,135.6 317.8,134.7 319.3,133.4 320.8,131.8 322.3,129.9 323.8,128.1 325.3,126.1 326.8,124.1 328.3,122.0 329.8,119.8 331.3,117.6 332.8,115.4 334.3,113.1 335.8,110.8 337.3,108.5 338.8,106.6 340.3,105.3 341.8,104.5 343.3,104.0 344.8,103.5 346.3,103.2 347.8,102.9 349.3,102.9 350.8,103.1 352.3,103.3 353.8,103.6 355.3,103.9 356.8,104.3 358.3,104.5 359.8,104.8 361.3,105.1 362.8,105.4 364.3,105.5 365.8,105.4 367.3,105.3 368.8,105.3 370.3,105.2 371.8,105.0 373.3,104.5 374.8,104.1 376.3,103.6 377.8,103.1 379.3,102.6 380.8,102.2 382.3,101.7 383.8,101.3 385.3,100.8 386.8,100.4 388.3,100.0 389.8,99.6 391.3,99.2 392.8,98.8 394.3,98.4 395.8,98.1 397.3,97.7 398.8,97.4 400.3,97.1 401.8,96.9 403.3,96.7 404.8,96.4 406.3,96.2 407.8,96.0 409.3,95.8 410.8,95.6 412.3,95.4 413.8,95.3 415.3,95.1 416.8,94.9 418.3,94.8 419.8,94.6 421.3,94.4 422.8,94.2 424.3,94.1 425.8,93.9 427.3,93.7 428.8,93.5 430.3,93.4 431.8,93.2 433.3,93.0 434.8,92.8 436.3,92.6 437.8,92.4 439.3,92.2 440.8,92.0 442.3,91.9 443.8,91.7 445.3,91.5 446.8,91.3 448.3,91.1 449.8,90.9 451.3,90.7 452.8,90.5 454.3,90.4 455.8,90.2 457.3,90.0 458.8,89.8 460.3,89.6 461.8,89.4 463.3,89.2 464.8,89.0 466.3,88.8 467.8,88.7 469.3,88.5 470.8,88.3 472.2,88.1" fill="none" stroke="#6828d8" stroke-width="0.65"/><polyline points="272.8,147.5 274.3,147.2 275.8,147.0 277.3,146.7 278.8,146.4 280.3,146.2 281.8,145.9 283.3,145.6 284.8,145.3 286.3,144.9 287.8,144.6 289.3,144.3 290.8,143.9 292.3,143.6 293.8,143.2 295.3,142.9 296.8,142.5 298.3,142.2 299.8,141.8 301.3,141.4 302.8,140.9 304.3,140.5 305.8,140.0 307.3,139.5 308.8,139.0 310.3,138.4 311.8,137.7 313.3,137.1 314.8,136.3 316.3,135.3 317.8,134.2 319.3,132.7 320.8,131.0 322.3,129.1 323.8,127.2 325.3,125.2 326.8,123.2 328.3,121.0 329.8,118.9 331.3,116.6 332.8,114.4 334.3,112.1 335.8,109.8 337.3,107.4 338.8,105.3 340.3,103.8 341.8,102.8 343.3,102.2 344.8,101.8 346.3,101.4 347.8,101.2 349.3,101.2 350.8,101.4 352.3,101.8 353.8,102.1 355.3,102.6 356.8,103.1 358.3,103.5 359.8,104.0 361.3,104.5 362.8,104.9 364.3,105.1 365.8,105.2 367.3,105.2 368.8,105.2 370.3,105.2 371.8,104.9 373.3,104.5 374.8,104.1 376.3,103.6 377.8,103.1 379.3,102.6 380.8,102.2 382.3,101.7 383.8,101.3 385.3,100.8 386.8,100.4 388.3,100.0 389.8,99.6 391.3,99.2 392.8,98.8 394.3,98.4 395.8,98.1 397.3,97.7 398.8,97.4 400.3,97.1 401.8,96.9 403.3,96.7 404.8,96.4 406.3,96.2 407.8,96.0 409.3,95.8 410.8,95.6 412.3,95.4 413.8,95.3 415.3,95.1 416.8,94.9 418.3,94.8 419.8,94.6 421.3,94.4 422.8,94.2 424.3,94.1 425.8,93.9 427.3,93.7 428.8,93.5 430.3,93.4 431.8,93.2 433.3,93.0 434.8,92.8 436.3,92.6 437.8,92.4 439.3,92.2 440.8,92.0 442.3,91.9 443.8,91.7 445.3,91.5 446.8,91.3 448.3,91.1 449.8,90.9 451.3,90.7 452.8,90.5 454.3,90.4 455.8,90.2 457.3,90.0 458.8,89.8 460.3,89.6 461.8,89.4 463.3,89.2 464.8,89.0 466.3,88.8 467.8,88.7 469.3,88.5 470.8,88.3 472.2,88.1" fill="none" stroke="#6a38d8" stroke-width="1.05"/><line x1="338" y1="104.52" x2="372" y2="100.41" stroke="#222" stroke-width="0.9" stroke-dasharray="2.2 1.4"/></g>
<text x="279.75" y="105.00" font-size="9" font-weight="bold" fill="#111">C<tspan font-size="5.4" dy="1.0" style="letter-spacing:0.12px">p,melt</tspan></text>
<text x="444.80" y="123.30" font-size="9" font-weight="bold" fill="#111">C<tspan font-size="5.4" dy="1.0" style="letter-spacing:0.12px">p,glass</tspan></text>
<rect x="388.30" y="135.40" width="78.80" height="12.90" fill="#fff" stroke="#555" stroke-width="0.9"/>
<line x1="426.25" y1="135.40" x2="426.25" y2="148.30" stroke="#555" stroke-width="0.9"/>
<text x="407.27" y="144.80" text-anchor="middle" font-size="8.3" fill="#262626">Endo up</text>
<text x="446.68" y="144.80" text-anchor="middle" font-size="8.3" fill="#262626">0.05 &#956;J/K</text>
<rect x="272.5" y="7.5" width="200.0" height="148.0" fill="none" stroke="#505050" stroke-width="1"/><line x1="279.50" y1="155.5" x2="279.50" y2="152.9" stroke="#505050" stroke-width="0.9"/><line x1="279.50" y1="7.5" x2="279.50" y2="10.1" stroke="#505050" stroke-width="0.9"/><line x1="301.50" y1="155.5" x2="301.50" y2="153.9" stroke="#505050" stroke-width="0.9"/><line x1="301.50" y1="7.5" x2="301.50" y2="9.1" stroke="#505050" stroke-width="0.9"/><line x1="324.50" y1="155.5" x2="324.50" y2="152.9" stroke="#505050" stroke-width="0.9"/><line x1="324.50" y1="7.5" x2="324.50" y2="10.1" stroke="#505050" stroke-width="0.9"/><line x1="347.50" y1="155.5" x2="347.50" y2="153.9" stroke="#505050" stroke-width="0.9"/><line x1="347.50" y1="7.5" x2="347.50" y2="9.1" stroke="#505050" stroke-width="0.9"/><line x1="369.50" y1="155.5" x2="369.50" y2="152.9" stroke="#505050" stroke-width="0.9"/><line x1="369.50" y1="7.5" x2="369.50" y2="10.1" stroke="#505050" stroke-width="0.9"/><line x1="392.50" y1="155.5" x2="392.50" y2="153.9" stroke="#505050" stroke-width="0.9"/><line x1="392.50" y1="7.5" x2="392.50" y2="9.1" stroke="#505050" stroke-width="0.9"/><line x1="414.50" y1="155.5" x2="414.50" y2="152.9" stroke="#505050" stroke-width="0.9"/><line x1="414.50" y1="7.5" x2="414.50" y2="10.1" stroke="#505050" stroke-width="0.9"/><line x1="437.50" y1="155.5" x2="437.50" y2="153.9" stroke="#505050" stroke-width="0.9"/><line x1="437.50" y1="7.5" x2="437.50" y2="9.1" stroke="#505050" stroke-width="0.9"/><line x1="460.50" y1="155.5" x2="460.50" y2="152.9" stroke="#505050" stroke-width="0.9"/><line x1="460.50" y1="7.5" x2="460.50" y2="10.1" stroke="#505050" stroke-width="0.9"/>
<text x="5.0" y="195.6" font-size="13.8" fill="#262626">(c)</text>
<text transform="translate(14.10,263.50) rotate(-90)" text-anchor="middle" font-size="9.9" fill="#262626">Heat Capacity (&#956;J/K)</text>
<text x="125.80" y="361.60" text-anchor="middle" font-size="10" fill="#262626">Temperature (K)</text>
<text x="33.00" y="346.90" text-anchor="middle" font-size="8.5" fill="#262626">200</text>
<text x="78.12" y="346.90" text-anchor="middle" font-size="8.5" fill="#262626">250</text>
<text x="123.25" y="346.90" text-anchor="middle" font-size="8.5" fill="#262626">300</text>
<text x="168.38" y="346.90" text-anchor="middle" font-size="8.5" fill="#262626">350</text>
<text x="213.50" y="346.90" text-anchor="middle" font-size="8.5" fill="#262626">400</text>
<clipPath id="cc"><rect x="26.6" y="190.0" width="198.4" height="147.0"/></clipPath>
<line x1="36.60" y1="201.90" x2="51.60" y2="201.90" stroke="#e81840" stroke-width="0.9" opacity="0.8"/>
<text x="52.90" y="204.40" font-size="6.4" fill="#333" style="stroke-width:0.16px;letter-spacing:0.1px">0.001 s</text>
<line x1="36.60" y1="209.93" x2="51.60" y2="209.93" stroke="#f02020" stroke-width="0.9" opacity="0.8"/>
<text x="52.90" y="212.43" font-size="6.4" fill="#333" style="stroke-width:0.16px;letter-spacing:0.1px">0.005 s</text>
<line x1="36.60" y1="217.96" x2="51.60" y2="217.96" stroke="#f05018" stroke-width="0.9" opacity="0.8"/>
<text x="52.90" y="220.46" font-size="6.4" fill="#333" style="stroke-width:0.16px;letter-spacing:0.1px">0.01 s</text>
<line x1="36.60" y1="225.99" x2="51.60" y2="225.99" stroke="#e88018" stroke-width="0.9" opacity="0.8"/>
<text x="52.90" y="228.49" font-size="6.4" fill="#333" style="stroke-width:0.16px;letter-spacing:0.1px">0.05 s</text>
<line x1="36.60" y1="234.02" x2="51.60" y2="234.02" stroke="#c8b818" stroke-width="0.9" opacity="0.8"/>
<text x="52.90" y="236.52" font-size="6.4" fill="#333" style="stroke-width:0.16px;letter-spacing:0.1px">0.1 s</text>
<line x1="36.60" y1="242.05" x2="51.60" y2="242.05" stroke="#a0d820" stroke-width="0.9" opacity="0.8"/>
<text x="52.90" y="244.55" font-size="6.4" fill="#333" style="stroke-width:0.16px;letter-spacing:0.1px">0.2 s</text>
<line x1="36.60" y1="250.08" x2="51.60" y2="250.08" stroke="#58d028" stroke-width="0.9" opacity="0.8"/>
<text x="52.90" y="252.58" font-size="6.4" fill="#333" style="stroke-width:0.16px;letter-spacing:0.1px">0.5 s</text>
<line x1="36.60" y1="258.11" x2="51.60" y2="258.11" stroke="#18c828" stroke-width="0.9" opacity="0.8"/>
<text x="52.90" y="260.61" font-size="6.4" fill="#333" style="stroke-width:0.16px;letter-spacing:0.1px">1 s</text>
<line x1="36.60" y1="266.14" x2="51.60" y2="266.14" stroke="#10b860" stroke-width="0.9" opacity="0.8"/>
<text x="52.90" y="268.64" font-size="6.4" fill="#333" style="stroke-width:0.16px;letter-spacing:0.1px">2 s</text>
<line x1="76.00" y1="201.90" x2="91.00" y2="201.90" stroke="#10c090" stroke-width="0.9" opacity="0.8"/>
<text x="92.30" y="204.40" font-size="6.4" fill="#333" style="stroke-width:0.16px;letter-spacing:0.1px">5 s</text>
<line x1="76.00" y1="209.93" x2="91.00" y2="209.93" stroke="#10c0c8" stroke-width="0.9" opacity="0.8"/>
<text x="92.30" y="212.43" font-size="6.4" fill="#333" style="stroke-width:0.16px;letter-spacing:0.1px">10 s</text>
<line x1="76.00" y1="217.96" x2="91.00" y2="217.96" stroke="#20a0e8" stroke-width="0.9" opacity="0.8"/>
<text x="92.30" y="220.46" font-size="6.4" fill="#333" style="stroke-width:0.16px;letter-spacing:0.1px">20 s</text>
<line x1="76.00" y1="225.99" x2="91.00" y2="225.99" stroke="#2078f0" stroke-width="0.9" opacity="0.8"/>
<text x="92.30" y="228.49" font-size="6.4" fill="#333" style="stroke-width:0.16px;letter-spacing:0.1px">50 s</text>
<line x1="76.00" y1="234.02" x2="91.00" y2="234.02" stroke="#3050f0" stroke-width="0.9" opacity="0.8"/>
<text x="92.30" y="236.52" font-size="6.4" fill="#333" style="stroke-width:0.16px;letter-spacing:0.1px">100 s</text>
<line x1="76.00" y1="242.05" x2="91.00" y2="242.05" stroke="#4838e8" stroke-width="0.9" opacity="0.8"/>
<text x="92.30" y="244.55" font-size="6.4" fill="#333" style="stroke-width:0.16px;letter-spacing:0.1px">200 s</text>
<line x1="76.00" y1="250.08" x2="91.00" y2="250.08" stroke="#5830e0" stroke-width="0.9" opacity="0.8"/>
<text x="92.30" y="252.58" font-size="6.4" fill="#333" style="stroke-width:0.16px;letter-spacing:0.1px">500 s</text>
<line x1="76.00" y1="258.11" x2="91.00" y2="258.11" stroke="#6828d8" stroke-width="0.9" opacity="0.8"/>
<text x="92.30" y="260.61" font-size="6.4" fill="#333" style="stroke-width:0.16px;letter-spacing:0.1px">1000 s</text>
<line x1="76.00" y1="266.14" x2="91.00" y2="266.14" stroke="#6a38d8" stroke-width="0.9" opacity="0.8"/>
<text x="92.30" y="268.64" font-size="6.4" fill="#333" style="stroke-width:0.16px;letter-spacing:0.1px">2000 s</text>
<text x="162.70" y="229.10" font-size="9.0" fill="#262626"><tspan font-style="italic" font-size="9.3">T</tspan><tspan font-style="italic" font-size="9.6" dy="2.4" dx="-0.2">ag</tspan><tspan dy="-2.4" dx="0.6"> = 223 K</tspan></text>
<g clip-path="url(#cc)"><line x1="26.6" y1="294.4" x2="225.0" y2="269.4" stroke="#222" stroke-width="1.0"/><line x1="26.6" y1="330.8" x2="225.0" y2="292.5" stroke="#222" stroke-width="1.0"/><polyline points="26.6,329.4 28.1,329.0 29.6,328.6 31.1,328.2 32.6,327.8 34.1,327.4 35.6,326.9 37.1,326.5 38.6,326.0 40.1,325.4 41.6,324.9 43.1,324.4 44.6,323.9 46.1,323.3 47.6,322.8 49.1,322.3 50.6,321.7 52.1,321.2 53.6,320.7 55.1,320.1 56.6,319.7 58.1,319.2 59.6,318.8 61.1,318.4 62.6,317.9 64.1,317.4 65.6,316.9 67.1,316.4 68.6,315.8 70.1,315.2 71.6,314.5 73.1,313.8 74.6,313.1 76.1,312.4 77.6,311.6 79.1,310.8 80.6,309.9 82.1,309.0 83.6,308.1 85.1,307.1 86.6,306.2 88.1,305.2 89.6,304.4 91.1,303.6 92.6,302.8 94.1,302.0 95.6,301.0 97.1,300.0 98.6,299.0 100.1,298.0 101.6,297.0 103.1,295.7 104.6,294.4 106.1,293.6 107.6,292.9 109.1,292.2 110.6,291.7 112.1,291.1 113.6,290.6 115.1,290.0 116.6,289.5 118.1,289.0 119.6,288.5 121.1,288.0 122.6,287.5 124.1,286.9 125.6,286.3 127.1,285.7 128.6,285.1 130.1,284.5 131.6,283.9 133.1,283.3 134.6,282.7 136.1,282.2 137.6,281.7 139.1,281.2 140.6,280.9 142.1,280.6 143.6,280.3 145.1,280.0 146.6,279.8 148.1,279.6 149.6,279.4 151.1,279.2 152.6,278.9 154.1,278.7 155.6,278.5 157.1,278.2 158.6,278.0 160.1,277.7 161.6,277.4 163.1,277.1 164.6,276.8 166.1,276.5 167.6,276.2 169.1,275.9 170.6,275.7 172.1,275.5 173.6,275.3 175.1,275.0 176.6,274.8 178.1,274.6 179.6,274.4 181.1,274.2 182.6,274.0 184.1,273.8 185.6,273.5 187.1,273.3 188.6,273.1 190.1,272.9 191.6,272.7 193.1,272.5 194.6,272.4 196.1,272.2 197.6,272.0 199.1,271.8 200.6,271.6 202.1,271.5 203.6,271.3 205.1,271.1 206.6,271.0 208.1,270.8 209.6,270.7 211.1,270.5 212.6,270.4 214.1,270.3 215.6,270.1 217.1,270.0 218.6,269.9 220.1,269.8 221.6,269.7 223.1,269.6 224.6,269.5 225.0,269.5" fill="none" stroke="#e81840" stroke-width="0.65"/><polyline points="26.6,329.0 28.1,328.6 29.6,328.3 31.1,327.9 32.6,327.5 34.1,327.1 35.6,326.6 37.1,326.1 38.6,325.6 40.1,325.1 41.6,324.6 43.1,324.1 44.6,323.6 46.1,323.1 47.6,322.5 49.1,322.0 50.6,321.5 52.1,320.9 53.6,320.4 55.1,319.9 56.6,319.4 58.1,319.0 59.6,318.6 61.1,318.1 62.6,317.7 64.1,317.2 65.6,316.7 67.1,316.2 68.6,315.6 70.1,314.9 71.6,314.3 73.1,313.6 74.6,312.9 76.1,312.1 77.6,311.4 79.1,310.5 80.6,309.7 82.1,308.8 83.6,307.9 85.1,306.9 86.6,306.0 88.1,305.0 89.6,304.2 91.1,303.4 92.6,302.6 94.1,301.8 95.6,300.8 97.1,299.8 98.6,298.8 100.1,297.8 101.6,296.6 103.1,295.0 104.6,293.5 106.1,292.7 107.6,292.1 109.1,291.5 110.6,290.9 112.1,290.4 113.6,289.9 115.1,289.5 116.6,289.0 118.1,288.6 119.6,288.1 121.1,287.7 122.6,287.2 124.1,286.6 125.6,286.1 127.1,285.5 128.6,285.0 130.1,284.4 131.6,283.8 133.1,283.2 134.6,282.7 136.1,282.2 137.6,281.7 139.1,281.2 140.6,280.9 142.1,280.6 143.6,280.3 145.1,280.0 146.6,279.8 148.1,279.6 149.6,279.4 151.1,279.2 152.6,278.9 154.1,278.7 155.6,278.5 157.1,278.2 158.6,278.0 160.1,277.7 161.6,277.4 163.1,277.1 164.6,276.8 166.1,276.5 167.6,276.2 169.1,275.9 170.6,275.7 172.1,275.5 173.6,275.3 175.1,275.0 176.6,274.8 178.1,274.6 179.6,274.4 181.1,274.2 182.6,274.0 184.1,273.8 185.6,273.5 187.1,273.3 188.6,273.1 190.1,272.9 191.6,272.7 193.1,272.5 194.6,272.4 196.1,272.2 197.6,272.0 199.1,271.8 200.6,271.6 202.1,271.5 203.6,271.3 205.1,271.1 206.6,271.0 208.1,270.8 209.6,270.7 211.1,270.5 212.6,270.4 214.1,270.3 215.6,270.1 217.1,270.0 218.6,269.9 220.1,269.8 221.6,269.7 223.1,269.6 224.6,269.5 225.0,269.5" fill="none" stroke="#f02020" stroke-width="0.65"/><polyline points="26.6,328.7 28.1,328.4 29.6,328.0 31.1,327.7 32.6,327.3 34.1,326.9 35.6,326.5 37.1,326.0 38.6,325.5 40.1,325.0 41.6,324.5 43.1,324.0 44.6,323.5 46.1,323.0 47.6,322.5 49.1,321.9 50.6,321.4 52.1,320.9 53.6,320.4 55.1,319.9 56.6,319.4 58.1,319.0 59.6,318.6 61.1,318.1 62.6,317.7 64.1,317.2 65.6,316.7 67.1,316.2 68.6,315.6 70.1,315.0 71.6,314.3 73.1,313.6 74.6,312.9 76.1,312.2 77.6,311.4 79.1,310.6 80.6,309.7 82.1,308.8 83.6,307.9 85.1,307.0 86.6,306.0 88.1,305.1 89.6,304.2 91.1,303.5 92.6,302.6 94.1,301.8 95.6,300.8 97.1,299.9 98.6,298.8 100.1,297.7 101.6,296.0 103.1,294.0 104.6,292.5 106.1,291.7 107.6,291.1 109.1,290.5 110.6,290.0 112.1,289.5 113.6,289.1 115.1,288.7 116.6,288.4 118.1,288.0 119.6,287.6 121.1,287.2 122.6,286.8 124.1,286.3 125.6,285.8 127.1,285.3 128.6,284.8 130.1,284.3 131.6,283.7 133.1,283.2 134.6,282.7 136.1,282.1 137.6,281.7 139.1,281.2 140.6,280.9 142.1,280.6 143.6,280.3 145.1,280.0 146.6,279.8 148.1,279.6 149.6,279.4 151.1,279.2 152.6,278.9 154.1,278.7 155.6,278.5 157.1,278.2 158.6,278.0 160.1,277.7 161.6,277.4 163.1,277.1 164.6,276.8 166.1,276.5 167.6,276.2 169.1,275.9 170.6,275.7 172.1,275.5 173.6,275.3 175.1,275.0 176.6,274.8 178.1,274.6 179.6,274.4 181.1,274.2 182.6,274.0 184.1,273.8 185.6,273.5 187.1,273.3 188.6,273.1 190.1,272.9 191.6,272.7 193.1,272.5 194.6,272.4 196.1,272.2 197.6,272.0 199.1,271.8 200.6,271.6 202.1,271.5 203.6,271.3 205.1,271.1 206.6,271.0 208.1,270.8 209.6,270.7 211.1,270.5 212.6,270.4 214.1,270.3 215.6,270.1 217.1,270.0 218.6,269.9 220.1,269.8 221.6,269.7 223.1,269.6 224.6,269.5 225.0,269.5" fill="none" stroke="#f05018" stroke-width="0.65"/><polyline points="26.6,328.6 28.1,328.3 29.6,328.0 31.1,327.7 32.6,327.4 34.1,327.0 35.6,326.6 37.1,326.1 38.6,325.6 40.1,325.1 41.6,324.6 43.1,324.1 44.6,323.6 46.1,323.1 47.6,322.6 49.1,322.1 50.6,321.6 52.1,321.1 53.6,320.6 55.1,320.1 56.6,319.7 58.1,319.2 59.6,318.8 61.1,318.4 62.6,317.9 64.1,317.5 65.6,317.0 67.1,316.4 68.6,315.8 70.1,315.2 71.6,314.6 73.1,313.9 74.6,313.2 76.1,312.4 77.6,311.7 79.1,310.8 80.6,310.0 82.1,309.1 83.6,308.2 85.1,307.2 86.6,306.2 88.1,305.3 89.6,304.5 91.1,303.7 92.6,302.9 94.1,302.0 95.6,301.1 97.1,300.1 98.6,299.0 100.1,297.4 101.6,295.2 103.1,293.0 104.6,291.5 106.1,290.7 107.6,290.0 109.1,289.5 110.6,289.0 112.1,288.6 113.6,288.2 115.1,287.9 116.6,287.6 118.1,287.3 119.6,287.0 121.1,286.7 122.6,286.4 124.1,286.0 125.6,285.5 127.1,285.1 128.6,284.6 130.1,284.1 131.6,283.6 133.1,283.1 134.6,282.6 136.1,282.1 137.6,281.6 139.1,281.2 140.6,280.9 142.1,280.6 143.6,280.3 145.1,280.0 146.6,279.8 148.1,279.6 149.6,279.4 151.1,279.2 152.6,278.9 154.1,278.7 155.6,278.5 157.1,278.2 158.6,278.0 160.1,277.7 161.6,277.4 163.1,277.1 164.6,276.8 166.1,276.5 167.6,276.2 169.1,275.9 170.6,275.7 172.1,275.5 173.6,275.3 175.1,275.0 176.6,274.8 178.1,274.6 179.6,274.4 181.1,274.2 182.6,274.0 184.1,273.8 185.6,273.5 187.1,273.3 188.6,273.1 190.1,272.9 191.6,272.7 193.1,272.5 194.6,272.4 196.1,272.2 197.6,272.0 199.1,271.8 200.6,271.6 202.1,271.5 203.6,271.3 205.1,271.1 206.6,271.0 208.1,270.8 209.6,270.7 211.1,270.5 212.6,270.4 214.1,270.3 215.6,270.1 217.1,270.0 218.6,269.9 220.1,269.8 221.6,269.7 223.1,269.6 224.6,269.5 225.0,269.5" fill="none" stroke="#e88018" stroke-width="0.65"/><polyline points="26.6,328.6 28.1,328.4 29.6,328.1 31.1,327.8 32.6,327.5 34.1,327.1 35.6,326.7 37.1,326.3 38.6,325.8 40.1,325.3 41.6,324.8 43.1,324.3 44.6,323.8 46.1,323.3 47.6,322.8 49.1,322.4 50.6,321.9 52.1,321.4 53.6,320.9 55.1,320.4 56.6,319.9 58.1,319.5 59.6,319.1 61.1,318.6 62.6,318.2 64.1,317.7 65.6,317.2 67.1,316.7 68.6,316.1 70.1,315.5 71.6,314.9 73.1,314.2 74.6,313.5 76.1,312.7 77.6,312.0 79.1,311.1 80.6,310.3 82.1,309.4 83.6,308.5 85.1,307.5 86.6,306.5 88.1,305.6 89.6,304.8 91.1,304.0 92.6,303.2 94.1,302.3 95.6,301.4 97.1,300.4 98.6,299.0 100.1,296.8 101.6,294.2 103.1,292.0 104.6,290.4 106.1,289.5 107.6,288.9 109.1,288.4 110.6,287.9 112.1,287.6 113.6,287.2 115.1,287.0 116.6,286.8 118.1,286.6 119.6,286.4 121.1,286.1 122.6,285.9 124.1,285.6 125.6,285.2 127.1,284.8 128.6,284.4 130.1,284.0 131.6,283.5 133.1,283.0 134.6,282.5 136.1,282.1 137.6,281.6 139.1,281.2 140.6,280.9 142.1,280.6 143.6,280.3 145.1,280.0 146.6,279.8 148.1,279.6 149.6,279.4 151.1,279.2 152.6,278.9 154.1,278.7 155.6,278.5 157.1,278.2 158.6,278.0 160.1,277.7 161.6,277.4 163.1,277.1 164.6,276.8 166.1,276.5 167.6,276.2 169.1,275.9 170.6,275.7 172.1,275.5 173.6,275.3 175.1,275.0 176.6,274.8 178.1,274.6 179.6,274.4 181.1,274.2 182.6,274.0 184.1,273.8 185.6,273.5 187.1,273.3 188.6,273.1 190.1,272.9 191.6,272.7 193.1,272.5 194.6,272.4 196.1,272.2 197.6,272.0 199.1,271.8 200.6,271.6 202.1,271.5 203.6,271.3 205.1,271.1 206.6,271.0 208.1,270.8 209.6,270.7 211.1,270.5 212.6,270.4 214.1,270.3 215.6,270.1 217.1,270.0 218.6,269.9 220.1,269.8 221.6,269.7 223.1,269.6 224.6,269.5 225.0,269.5" fill="none" stroke="#c8b818" stroke-width="0.65"/><polyline points="26.6,328.6 28.1,328.4 29.6,328.2 31.1,327.9 32.6,327.6 34.1,327.3 35.6,326.9 37.1,326.4 38.6,326.0 40.1,325.5 41.6,325.0 43.1,324.5 44.6,324.0 46.1,323.5 47.6,323.1 49.1,322.6 50.6,322.1 52.1,321.6 53.6,321.1 55.1,320.7 56.6,320.2 58.1,319.8 59.6,319.3 61.1,318.9 62.6,318.5 64.1,318.0 65.6,317.5 67.1,317.0 68.6,316.4 70.1,315.8 71.6,315.2 73.1,314.5 74.6,313.8 76.1,313.0 77.6,312.2 79.1,311.4 80.6,310.6 82.1,309.7 83.6,308.8 85.1,307.8 86.6,306.8 88.1,305.9 89.6,305.1 91.1,304.3 92.6,303.5 94.1,302.6 95.6,301.7 97.1,300.4 98.6,298.6 100.1,296.0 101.6,293.3 103.1,290.9 104.6,289.3 106.1,288.4 107.6,287.7 109.1,287.2 110.6,286.8 112.1,286.5 113.6,286.2 115.1,286.0 116.6,285.9 118.1,285.8 119.6,285.6 121.1,285.5 122.6,285.3 124.1,285.1 125.6,284.8 127.1,284.5 128.6,284.2 130.1,283.8 131.6,283.3 133.1,282.9 134.6,282.5 136.1,282.0 137.6,281.6 139.1,281.2 140.6,280.9 142.1,280.6 143.6,280.3 145.1,280.0 146.6,279.8 148.1,279.6 149.6,279.4 151.1,279.2 152.6,278.9 154.1,278.7 155.6,278.5 157.1,278.2 158.6,278.0 160.1,277.7 161.6,277.4 163.1,277.1 164.6,276.8 166.1,276.5 167.6,276.2 169.1,275.9 170.6,275.7 172.1,275.5 173.6,275.3 175.1,275.0 176.6,274.8 178.1,274.6 179.6,274.4 181.1,274.2 182.6,274.0 184.1,273.8 185.6,273.5 187.1,273.3 188.6,273.1 190.1,272.9 191.6,272.7 193.1,272.5 194.6,272.4 196.1,272.2 197.6,272.0 199.1,271.8 200.6,271.6 202.1,271.5 203.6,271.3 205.1,271.1 206.6,271.0 208.1,270.8 209.6,270.7 211.1,270.5 212.6,270.4 214.1,270.3 215.6,270.1 217.1,270.0 218.6,269.9 220.1,269.8 221.6,269.7 223.1,269.6 224.6,269.5 225.0,269.5" fill="none" stroke="#a0d820" stroke-width="0.65"/><polyline points="26.6,328.6 28.1,328.4 29.6,328.2 31.1,328.0 32.6,327.7 34.1,327.4 35.6,327.0 37.1,326.6 38.6,326.1 40.1,325.6 41.6,325.2 43.1,324.7 44.6,324.2 46.1,323.7 47.6,323.3 49.1,322.8 50.6,322.3 52.1,321.9 53.6,321.4 55.1,320.9 56.6,320.5 58.1,320.0 59.6,319.6 61.1,319.2 62.6,318.8 64.1,318.3 65.6,317.8 67.1,317.3 68.6,316.7 70.1,316.1 71.6,315.5 73.1,314.8 74.6,314.1 76.1,313.3 77.6,312.5 79.1,311.7 80.6,310.9 82.1,310.0 83.6,309.1 85.1,308.1 86.6,307.1 88.1,306.2 89.6,305.4 91.1,304.6 92.6,303.8 94.1,302.9 95.6,301.8 97.1,300.2 98.6,297.9 100.1,295.1 101.6,292.3 103.1,289.9 104.6,288.3 106.1,287.3 107.6,286.6 109.1,286.0 110.6,285.6 112.1,285.3 113.6,285.1 115.1,284.9 116.6,284.9 118.1,284.9 119.6,284.8 121.1,284.8 122.6,284.7 124.1,284.6 125.6,284.4 127.1,284.2 128.6,283.9 130.1,283.6 131.6,283.2 133.1,282.8 134.6,282.4 136.1,282.0 137.6,281.6 139.1,281.2 140.6,280.9 142.1,280.6 143.6,280.3 145.1,280.0 146.6,279.8 148.1,279.6 149.6,279.4 151.1,279.2 152.6,278.9 154.1,278.7 155.6,278.5 157.1,278.2 158.6,278.0 160.1,277.7 161.6,277.4 163.1,277.1 164.6,276.8 166.1,276.5 167.6,276.2 169.1,275.9 170.6,275.7 172.1,275.5 173.6,275.3 175.1,275.0 176.6,274.8 178.1,274.6 179.6,274.4 181.1,274.2 182.6,274.0 184.1,273.8 185.6,273.5 187.1,273.3 188.6,273.1 190.1,272.9 191.6,272.7 193.1,272.5 194.6,272.4 196.1,272.2 197.6,272.0 199.1,271.8 200.6,271.6 202.1,271.5 203.6,271.3 205.1,271.1 206.6,271.0 208.1,270.8 209.6,270.7 211.1,270.5 212.6,270.4 214.1,270.3 215.6,270.1 217.1,270.0 218.6,269.9 220.1,269.8 221.6,269.7 223.1,269.6 224.6,269.5 225.0,269.5" fill="none" stroke="#58d028" stroke-width="0.65"/><polyline points="26.6,328.6 28.1,328.5 29.6,328.3 31.1,328.1 32.6,327.8 34.1,327.5 35.6,327.1 37.1,326.7 38.6,326.3 40.1,325.8 41.6,325.3 43.1,324.8 44.6,324.4 46.1,323.9 47.6,323.5 49.1,323.0 50.6,322.6 52.1,322.1 53.6,321.7 55.1,321.2 56.6,320.7 58.1,320.3 59.6,319.9 61.1,319.5 62.6,319.0 64.1,318.6 65.6,318.1 67.1,317.5 68.6,317.0 70.1,316.4 71.6,315.7 73.1,315.1 74.6,314.4 76.1,313.6 77.6,312.8 79.1,312.0 80.6,311.2 82.1,310.3 83.6,309.4 85.1,308.4 86.6,307.4 88.1,306.5 89.6,305.7 91.1,304.9 92.6,304.1 94.1,303.1 95.6,301.7 97.1,299.7 98.6,297.0 100.1,294.3 101.6,291.3 103.1,288.8 104.6,287.3 106.1,286.2 107.6,285.4 109.1,284.8 110.6,284.4 112.1,284.1 113.6,283.9 115.1,283.8 116.6,283.8 118.1,283.9 119.6,284.0 121.1,284.0 122.6,284.1 124.1,284.0 125.6,283.9 127.1,283.8 128.6,283.6 130.1,283.4 131.6,283.0 133.1,282.7 134.6,282.3 136.1,281.9 137.6,281.5 139.1,281.2 140.6,280.8 142.1,280.6 143.6,280.3 145.1,280.0 146.6,279.8 148.1,279.6 149.6,279.4 151.1,279.2 152.6,278.9 154.1,278.7 155.6,278.5 157.1,278.2 158.6,278.0 160.1,277.7 161.6,277.4 163.1,277.1 164.6,276.8 166.1,276.5 167.6,276.2 169.1,275.9 170.6,275.7 172.1,275.5 173.6,275.3 175.1,275.0 176.6,274.8 178.1,274.6 179.6,274.4 181.1,274.2 182.6,274.0 184.1,273.8 185.6,273.5 187.1,273.3 188.6,273.1 190.1,272.9 191.6,272.7 193.1,272.5 194.6,272.4 196.1,272.2 197.6,272.0 199.1,271.8 200.6,271.6 202.1,271.5 203.6,271.3 205.1,271.1 206.6,271.0 208.1,270.8 209.6,270.7 211.1,270.5 212.6,270.4 214.1,270.3 215.6,270.1 217.1,270.0 218.6,269.9 220.1,269.8 221.6,269.7 223.1,269.6 224.6,269.5 225.0,269.5" fill="none" stroke="#18c828" stroke-width="0.65"/><polyline points="26.6,328.6 28.1,328.5 29.6,328.4 31.1,328.2 32.6,327.9 34.1,327.7 35.6,327.3 37.1,326.9 38.6,326.4 40.1,326.0 41.6,325.5 43.1,325.0 44.6,324.6 46.1,324.1 47.6,323.7 49.1,323.3 50.6,322.8 52.1,322.4 53.6,321.9 55.1,321.5 56.6,321.0 58.1,320.6 59.6,320.2 61.1,319.7 62.6,319.3 64.1,318.8 65.6,318.3 67.1,317.8 68.6,317.3 70.1,316.7 71.6,316.0 73.1,315.4 74.6,314.7 76.1,313.9 77.6,313.1 79.1,312.3 80.6,311.5 82.1,310.6 83.6,309.7 85.1,308.7 86.6,307.7 88.1,306.8 89.6,306.0 91.1,305.2 92.6,304.3 94.1,303.1 95.6,301.3 97.1,298.9 98.6,296.2 100.1,293.3 101.6,290.2 103.1,287.8 104.6,286.2 106.1,285.1 107.6,284.3 109.1,283.6 110.6,283.1 112.1,282.9 113.6,282.7 115.1,282.6 116.6,282.7 118.1,282.9 119.6,283.1 121.1,283.2 122.6,283.3 124.1,283.4 125.6,283.4 127.1,283.4 128.6,283.3 130.1,283.1 131.6,282.9 133.1,282.6 134.6,282.2 136.1,281.9 137.6,281.5 139.1,281.1 140.6,280.8 142.1,280.6 143.6,280.3 145.1,280.0 146.6,279.8 148.1,279.6 149.6,279.4 151.1,279.2 152.6,278.9 154.1,278.7 155.6,278.5 157.1,278.2 158.6,278.0 160.1,277.7 161.6,277.4 163.1,277.1 164.6,276.8 166.1,276.5 167.6,276.2 169.1,275.9 170.6,275.7 172.1,275.5 173.6,275.3 175.1,275.0 176.6,274.8 178.1,274.6 179.6,274.4 181.1,274.2 182.6,274.0 184.1,273.8 185.6,273.5 187.1,273.3 188.6,273.1 190.1,272.9 191.6,272.7 193.1,272.5 194.6,272.4 196.1,272.2 197.6,272.0 199.1,271.8 200.6,271.6 202.1,271.5 203.6,271.3 205.1,271.1 206.6,271.0 208.1,270.8 209.6,270.7 211.1,270.5 212.6,270.4 214.1,270.3 215.6,270.1 217.1,270.0 218.6,269.9 220.1,269.8 221.6,269.7 223.1,269.6 224.6,269.5 225.0,269.5" fill="none" stroke="#10b860" stroke-width="0.65"/><polyline points="26.6,328.6 28.1,328.5 29.6,328.4 31.1,328.3 32.6,328.1 34.1,327.8 35.6,327.4 37.1,327.0 38.6,326.6 40.1,326.1 41.6,325.7 43.1,325.2 44.6,324.8 46.1,324.3 47.6,323.9 49.1,323.5 50.6,323.1 52.1,322.6 53.6,322.2 55.1,321.7 56.6,321.3 58.1,320.8 59.6,320.4 61.1,320.0 62.6,319.6 64.1,319.1 65.6,318.6 67.1,318.1 68.6,317.5 70.1,317.0 71.6,316.3 73.1,315.7 74.6,315.0 76.1,314.2 77.6,313.4 79.1,312.6 80.6,311.8 82.1,310.9 83.6,310.0 85.1,309.0 86.6,308.0 88.1,307.1 89.6,306.3 91.1,305.5 92.6,304.4 94.1,302.8 95.6,300.7 97.1,298.0 98.6,295.3 100.1,292.4 101.6,289.2 103.1,286.7 104.6,285.1 106.1,284.1 107.6,283.2 109.1,282.4 110.6,281.8 112.1,281.6 113.6,281.4 115.1,281.4 116.6,281.5 118.1,281.8 119.6,282.1 121.1,282.3 122.6,282.6 124.1,282.8 125.6,282.9 127.1,282.9 128.6,282.9 130.1,282.9 131.6,282.7 133.1,282.4 134.6,282.2 136.1,281.8 137.6,281.5 139.1,281.1 140.6,280.8 142.1,280.6 143.6,280.3 145.1,280.0 146.6,279.8 148.1,279.6 149.6,279.4 151.1,279.2 152.6,278.9 154.1,278.7 155.6,278.5 157.1,278.2 158.6,278.0 160.1,277.7 161.6,277.4 163.1,277.1 164.6,276.8 166.1,276.5 167.6,276.2 169.1,275.9 170.6,275.7 172.1,275.5 173.6,275.3 175.1,275.0 176.6,274.8 178.1,274.6 179.6,274.4 181.1,274.2 182.6,274.0 184.1,273.8 185.6,273.5 187.1,273.3 188.6,273.1 190.1,272.9 191.6,272.7 193.1,272.5 194.6,272.4 196.1,272.2 197.6,272.0 199.1,271.8 200.6,271.6 202.1,271.5 203.6,271.3 205.1,271.1 206.6,271.0 208.1,270.8 209.6,270.7 211.1,270.5 212.6,270.4 214.1,270.3 215.6,270.1 217.1,270.0 218.6,269.9 220.1,269.8 221.6,269.7 223.1,269.6 224.6,269.5 225.0,269.5" fill="none" stroke="#10c090" stroke-width="0.65"/><polyline points="26.6,328.6 28.1,328.6 29.6,328.5 31.1,328.4 32.6,328.2 34.1,327.9 35.6,327.6 37.1,327.2 38.6,326.8 40.1,326.3 41.6,325.8 43.1,325.4 44.6,324.9 46.1,324.5 47.6,324.1 49.1,323.7 50.6,323.3 52.1,322.9 53.6,322.4 55.1,322.0 56.6,321.5 58.1,321.1 59.6,320.7 61.1,320.3 62.6,319.8 64.1,319.4 65.6,318.9 67.1,318.4 68.6,317.8 70.1,317.2 71.6,316.6 73.1,316.0 74.6,315.3 76.1,314.5 77.6,313.7 79.1,312.9 80.6,312.0 82.1,311.2 83.6,310.3 85.1,309.3 86.6,308.3 88.1,307.4 89.6,306.5 91.1,305.6 92.6,304.2 94.1,302.3 95.6,299.9 97.1,297.2 98.6,294.4 100.1,291.4 101.6,288.2 103.1,285.7 104.6,284.1 106.1,282.9 107.6,282.1 109.1,281.2 110.6,280.6 112.1,280.2 113.6,280.1 115.1,280.1 116.6,280.2 118.1,280.6 119.6,281.0 121.1,281.4 122.6,281.7 124.1,282.1 125.6,282.3 127.1,282.4 128.6,282.5 130.1,282.6 131.6,282.5 133.1,282.3 134.6,282.1 136.1,281.8 137.6,281.4 139.1,281.1 140.6,280.8 142.1,280.6 143.6,280.3 145.1,280.0 146.6,279.8 148.1,279.6 149.6,279.4 151.1,279.2 152.6,278.9 154.1,278.7 155.6,278.5 157.1,278.2 158.6,278.0 160.1,277.7 161.6,277.4 163.1,277.1 164.6,276.8 166.1,276.5 167.6,276.2 169.1,275.9 170.6,275.7 172.1,275.5 173.6,275.3 175.1,275.0 176.6,274.8 178.1,274.6 179.6,274.4 181.1,274.2 182.6,274.0 184.1,273.8 185.6,273.5 187.1,273.3 188.6,273.1 190.1,272.9 191.6,272.7 193.1,272.5 194.6,272.4 196.1,272.2 197.6,272.0 199.1,271.8 200.6,271.6 202.1,271.5 203.6,271.3 205.1,271.1 206.6,271.0 208.1,270.8 209.6,270.7 211.1,270.5 212.6,270.4 214.1,270.3 215.6,270.1 217.1,270.0 218.6,269.9 220.1,269.8 221.6,269.7 223.1,269.6 224.6,269.5 225.0,269.5" fill="none" stroke="#10c0c8" stroke-width="0.65"/><polyline points="26.6,328.6 28.1,328.6 29.6,328.6 31.1,328.5 32.6,328.3 34.1,328.0 35.6,327.7 37.1,327.3 38.6,326.9 40.1,326.5 41.6,326.0 43.1,325.6 44.6,325.1 46.1,324.7 47.6,324.3 49.1,323.9 50.6,323.5 52.1,323.1 53.6,322.7 55.1,322.3 56.6,321.8 58.1,321.4 59.6,321.0 61.1,320.5 62.6,320.1 64.1,319.7 65.6,319.2 67.1,318.7 68.6,318.1 70.1,317.5 71.6,316.9 73.1,316.3 74.6,315.5 76.1,314.8 77.6,314.0 79.1,313.2 80.6,312.3 82.1,311.5 83.6,310.6 85.1,309.6 86.6,308.6 88.1,307.7 89.6,306.7 91.1,305.4 92.6,303.8 94.1,301.6 95.6,299.0 97.1,296.3 98.6,293.5 100.1,290.4 101.6,287.3 103.1,284.7 104.6,283.0 106.1,281.8 107.6,281.0 109.1,280.1 110.6,279.3 112.1,278.9 113.6,278.8 115.1,278.8 116.6,279.0 118.1,279.3 119.6,279.9 121.1,280.4 122.6,280.8 124.1,281.3 125.6,281.7 127.1,281.9 128.6,282.1 130.1,282.2 131.6,282.2 133.1,282.1 134.6,281.9 136.1,281.7 137.6,281.4 139.1,281.1 140.6,280.8 142.1,280.6 143.6,280.3 145.1,280.0 146.6,279.8 148.1,279.6 149.6,279.4 151.1,279.2 152.6,278.9 154.1,278.7 155.6,278.5 157.1,278.2 158.6,278.0 160.1,277.7 161.6,277.4 163.1,277.1 164.6,276.8 166.1,276.5 167.6,276.2 169.1,275.9 170.6,275.7 172.1,275.5 173.6,275.3 175.1,275.0 176.6,274.8 178.1,274.6 179.6,274.4 181.1,274.2 182.6,274.0 184.1,273.8 185.6,273.5 187.1,273.3 188.6,273.1 190.1,272.9 191.6,272.7 193.1,272.5 194.6,272.4 196.1,272.2 197.6,272.0 199.1,271.8 200.6,271.6 202.1,271.5 203.6,271.3 205.1,271.1 206.6,271.0 208.1,270.8 209.6,270.7 211.1,270.5 212.6,270.4 214.1,270.3 215.6,270.1 217.1,270.0 218.6,269.9 220.1,269.8 221.6,269.7 223.1,269.6 224.6,269.5 225.0,269.5" fill="none" stroke="#20a0e8" stroke-width="0.65"/><polyline points="26.6,328.6 28.1,328.6 29.6,328.6 31.1,328.6 32.6,328.4 34.1,328.2 35.6,327.9 37.1,327.5 38.6,327.1 40.1,326.6 41.6,326.2 43.1,325.7 44.6,325.3 46.1,324.9 47.6,324.5 49.1,324.1 50.6,323.8 52.1,323.4 53.6,323.0 55.1,322.5 56.6,322.1 58.1,321.6 59.6,321.2 61.1,320.8 62.6,320.4 64.1,319.9 65.6,319.5 67.1,318.9 68.6,318.4 70.1,317.8 71.6,317.2 73.1,316.5 74.6,315.8 76.1,315.1 77.6,314.3 79.1,313.5 80.6,312.6 82.1,311.7 83.6,310.8 85.1,309.8 86.6,308.8 88.1,307.8 89.6,306.6 91.1,305.1 92.6,303.1 94.1,300.8 95.6,298.2 97.1,295.5 98.6,292.6 100.1,289.4 101.6,286.4 103.1,283.8 104.6,282.0 106.1,280.7 107.6,279.8 109.1,279.0 110.6,278.1 112.1,277.6 113.6,277.4 115.1,277.5 116.6,277.6 118.1,278.0 119.6,278.7 121.1,279.3 122.6,279.9 124.1,280.5 125.6,281.0 127.1,281.3 128.6,281.7 130.1,281.9 131.6,282.0 133.1,281.9 134.6,281.8 136.1,281.6 137.6,281.4 139.1,281.1 140.6,280.8 142.1,280.6 143.6,280.3 145.1,280.0 146.6,279.8 148.1,279.6 149.6,279.4 151.1,279.2 152.6,278.9 154.1,278.7 155.6,278.5 157.1,278.2 158.6,278.0 160.1,277.7 161.6,277.4 163.1,277.1 164.6,276.8 166.1,276.5 167.6,276.2 169.1,275.9 170.6,275.7 172.1,275.5 173.6,275.3 175.1,275.0 176.6,274.8 178.1,274.6 179.6,274.4 181.1,274.2 182.6,274.0 184.1,273.8 185.6,273.5 187.1,273.3 188.6,273.1 190.1,272.9 191.6,272.7 193.1,272.5 194.6,272.4 196.1,272.2 197.6,272.0 199.1,271.8 200.6,271.6 202.1,271.5 203.6,271.3 205.1,271.1 206.6,271.0 208.1,270.8 209.6,270.7 211.1,270.5 212.6,270.4 214.1,270.3 215.6,270.1 217.1,270.0 218.6,269.9 220.1,269.8 221.6,269.7 223.1,269.6 224.6,269.5 225.0,269.5" fill="none" stroke="#2078f0" stroke-width="0.65"/><polyline points="26.6,328.6 28.1,328.7 29.6,328.7 31.1,328.6 32.6,328.5 34.1,328.3 35.6,328.0 37.1,327.6 38.6,327.2 40.1,326.8 41.6,326.4 43.1,325.9 44.6,325.5 46.1,325.1 47.6,324.7 49.1,324.4 50.6,324.0 52.1,323.6 53.6,323.2 55.1,322.8 56.6,322.3 58.1,321.9 59.6,321.5 61.1,321.1 62.6,320.7 64.1,320.2 65.6,319.7 67.1,319.2 68.6,318.7 70.1,318.1 71.6,317.5 73.1,316.8 74.6,316.1 76.1,315.4 77.6,314.6 79.1,313.7 80.6,312.8 82.1,311.9 83.6,311.0 85.1,310.0 86.6,308.9 88.1,307.8 89.6,306.4 91.1,304.6 92.6,302.4 94.1,300.0 95.6,297.3 97.1,294.6 98.6,291.6 100.1,288.4 101.6,285.5 103.1,283.0 104.6,281.1 106.1,279.7 107.6,278.7 109.1,277.9 110.6,277.0 112.1,276.3 113.6,276.0 115.1,276.1 116.6,276.3 118.1,276.7 119.6,277.4 121.1,278.2 122.6,278.9 124.1,279.6 125.6,280.2 127.1,280.8 128.6,281.2 130.1,281.5 131.6,281.7 133.1,281.7 134.6,281.7 136.1,281.6 137.6,281.3 139.1,281.0 140.6,280.8 142.1,280.6 143.6,280.3 145.1,280.0 146.6,279.8 148.1,279.6 149.6,279.4 151.1,279.2 152.6,278.9 154.1,278.7 155.6,278.5 157.1,278.2 158.6,278.0 160.1,277.7 161.6,277.4 163.1,277.1 164.6,276.8 166.1,276.5 167.6,276.2 169.1,275.9 170.6,275.7 172.1,275.5 173.6,275.3 175.1,275.0 176.6,274.8 178.1,274.6 179.6,274.4 181.1,274.2 182.6,274.0 184.1,273.8 185.6,273.5 187.1,273.3 188.6,273.1 190.1,272.9 191.6,272.7 193.1,272.5 194.6,272.4 196.1,272.2 197.6,272.0 199.1,271.8 200.6,271.6 202.1,271.5 203.6,271.3 205.1,271.1 206.6,271.0 208.1,270.8 209.6,270.7 211.1,270.5 212.6,270.4 214.1,270.3 215.6,270.1 217.1,270.0 218.6,269.9 220.1,269.8 221.6,269.7 223.1,269.6 224.6,269.5 225.0,269.5" fill="none" stroke="#3050f0" stroke-width="0.65"/><polyline points="26.6,328.6 28.1,328.7 29.6,328.7 31.1,328.7 32.6,328.6 34.1,328.4 35.6,328.2 37.1,327.8 38.6,327.4 40.1,327.0 41.6,326.5 43.1,326.1 44.6,325.7 46.1,325.3 47.6,324.9 49.1,324.6 50.6,324.2 52.1,323.9 53.6,323.5 55.1,323.1 56.6,322.6 58.1,322.2 59.6,321.8 61.1,321.4 62.6,320.9 64.1,320.5 65.6,320.0 67.1,319.5 68.6,319.0 70.1,318.4 71.6,317.8 73.1,317.1 74.6,316.4 76.1,315.6 77.6,314.7 79.1,313.8 80.6,312.9 82.1,312.0 83.6,311.1 85.1,310.0 86.6,308.9 88.1,307.6 89.6,306.0 91.1,303.9 92.6,301.7 94.1,299.2 95.6,296.5 97.1,293.7 98.6,290.6 100.1,287.5 101.6,284.7 103.1,282.3 104.6,280.2 106.1,278.7 107.6,277.6 109.1,276.8 110.6,275.9 112.1,275.0 113.6,274.6 115.1,274.6 116.6,274.9 118.1,275.3 119.6,276.0 121.1,277.0 122.6,277.8 124.1,278.6 125.6,279.4 127.1,280.1 128.6,280.7 130.1,281.1 131.6,281.4 133.1,281.5 134.6,281.6 136.1,281.5 137.6,281.3 139.1,281.0 140.6,280.8 142.1,280.6 143.6,280.3 145.1,280.0 146.6,279.8 148.1,279.6 149.6,279.4 151.1,279.2 152.6,278.9 154.1,278.7 155.6,278.5 157.1,278.2 158.6,278.0 160.1,277.7 161.6,277.4 163.1,277.1 164.6,276.8 166.1,276.5 167.6,276.2 169.1,275.9 170.6,275.7 172.1,275.5 173.6,275.3 175.1,275.0 176.6,274.8 178.1,274.6 179.6,274.4 181.1,274.2 182.6,274.0 184.1,273.8 185.6,273.5 187.1,273.3 188.6,273.1 190.1,272.9 191.6,272.7 193.1,272.5 194.6,272.4 196.1,272.2 197.6,272.0 199.1,271.8 200.6,271.6 202.1,271.5 203.6,271.3 205.1,271.1 206.6,271.0 208.1,270.8 209.6,270.7 211.1,270.5 212.6,270.4 214.1,270.3 215.6,270.1 217.1,270.0 218.6,269.9 220.1,269.8 221.6,269.7 223.1,269.6 224.6,269.5 225.0,269.5" fill="none" stroke="#4838e8" stroke-width="0.65"/><polyline points="26.6,328.6 28.1,328.7 29.6,328.8 31.1,328.8 32.6,328.8 34.1,328.6 35.6,328.3 37.1,327.9 38.6,327.6 40.1,327.1 41.6,326.7 43.1,326.3 44.6,325.9 46.1,325.5 47.6,325.2 49.1,324.8 50.6,324.5 52.1,324.1 53.6,323.7 55.1,323.3 56.6,322.9 58.1,322.5 59.6,322.0 61.1,321.6 62.6,321.2 64.1,320.8 65.6,320.3 67.1,319.8 68.6,319.2 70.1,318.7 71.6,318.0 73.1,317.3 74.6,316.5 76.1,315.7 77.6,314.8 79.1,313.8 80.6,312.9 82.1,312.0 83.6,311.1 85.1,310.0 86.6,308.7 88.1,307.2 89.6,305.3 91.1,303.3 92.6,300.9 94.1,298.4 95.6,295.6 97.1,292.7 98.6,289.6 100.1,286.5 101.6,283.9 103.1,281.6 104.6,279.4 106.1,277.7 107.6,276.5 109.1,275.6 110.6,274.8 112.1,273.9 113.6,273.2 115.1,273.2 116.6,273.5 118.1,273.9 119.6,274.6 121.1,275.7 122.6,276.7 124.1,277.7 125.6,278.6 127.1,279.4 128.6,280.1 130.1,280.7 131.6,281.1 133.1,281.3 134.6,281.4 136.1,281.4 137.6,281.2 139.1,281.0 140.6,280.8 142.1,280.6 143.6,280.3 145.1,280.0 146.6,279.8 148.1,279.6 149.6,279.4 151.1,279.2 152.6,278.9 154.1,278.7 155.6,278.5 157.1,278.2 158.6,278.0 160.1,277.7 161.6,277.4 163.1,277.1 164.6,276.8 166.1,276.5 167.6,276.2 169.1,275.9 170.6,275.7 172.1,275.5 173.6,275.3 175.1,275.0 176.6,274.8 178.1,274.6 179.6,274.4 181.1,274.2 182.6,274.0 184.1,273.8 185.6,273.5 187.1,273.3 188.6,273.1 190.1,272.9 191.6,272.7 193.1,272.5 194.6,272.4 196.1,272.2 197.6,272.0 199.1,271.8 200.6,271.6 202.1,271.5 203.6,271.3 205.1,271.1 206.6,271.0 208.1,270.8 209.6,270.7 211.1,270.5 212.6,270.4 214.1,270.3 215.6,270.1 217.1,270.0 218.6,269.9 220.1,269.8 221.6,269.7 223.1,269.6 224.6,269.5 225.0,269.5" fill="none" stroke="#5830e0" stroke-width="0.65"/><polyline points="26.6,328.6 28.1,328.8 29.6,328.9 31.1,328.9 32.6,328.9 34.1,328.7 35.6,328.4 37.1,328.1 38.6,327.7 40.1,327.3 41.6,326.9 43.1,326.5 44.6,326.1 46.1,325.7 47.6,325.4 49.1,325.0 50.6,324.7 52.1,324.4 53.6,324.0 55.1,323.6 56.6,323.1 58.1,322.7 59.6,322.3 61.1,321.9 62.6,321.5 64.1,321.0 65.6,320.6 67.1,320.1 68.6,319.5 70.1,318.9 71.6,318.2 73.1,317.4 74.6,316.6 76.1,315.7 77.6,314.7 79.1,313.7 80.6,312.8 82.1,311.9 83.6,310.9 85.1,309.7 86.6,308.4 88.1,306.7 89.6,304.7 91.1,302.6 92.6,300.2 94.1,297.5 95.6,294.8 97.1,291.8 98.6,288.6 100.1,285.7 101.6,283.1 103.1,280.9 104.6,278.8 106.1,276.9 107.6,275.5 109.1,274.6 110.6,273.7 112.1,272.7 113.6,271.9 115.1,271.7 116.6,272.0 118.1,272.5 119.6,273.2 121.1,274.3 122.6,275.5 124.1,276.6 125.6,277.7 127.1,278.7 128.6,279.5 130.1,280.2 131.6,280.8 133.1,281.1 134.6,281.3 136.1,281.3 137.6,281.2 139.1,281.0 140.6,280.8 142.1,280.6 143.6,280.3 145.1,280.0 146.6,279.8 148.1,279.6 149.6,279.4 151.1,279.2 152.6,278.9 154.1,278.7 155.6,278.5 157.1,278.2 158.6,278.0 160.1,277.7 161.6,277.4 163.1,277.1 164.6,276.8 166.1,276.5 167.6,276.2 169.1,275.9 170.6,275.7 172.1,275.5 173.6,275.3 175.1,275.0 176.6,274.8 178.1,274.6 179.6,274.4 181.1,274.2 182.6,274.0 184.1,273.8 185.6,273.5 187.1,273.3 188.6,273.1 190.1,272.9 191.6,272.7 193.1,272.5 194.6,272.4 196.1,272.2 197.6,272.0 199.1,271.8 200.6,271.6 202.1,271.5 203.6,271.3 205.1,271.1 206.6,271.0 208.1,270.8 209.6,270.7 211.1,270.5 212.6,270.4 214.1,270.3 215.6,270.1 217.1,270.0 218.6,269.9 220.1,269.8 221.6,269.7 223.1,269.6 224.6,269.5 225.0,269.5" fill="none" stroke="#6828d8" stroke-width="0.65"/><polyline points="26.6,328.6 28.1,328.8 29.6,328.9 31.1,329.0 32.6,329.0 34.1,328.8 35.6,328.6 37.1,328.3 38.6,327.9 40.1,327.5 41.6,327.1 43.1,326.6 44.6,326.2 46.1,325.9 47.6,325.6 49.1,325.3 50.6,324.9 52.1,324.6 53.6,324.3 55.1,323.8 56.6,323.4 58.1,323.0 59.6,322.6 61.1,322.2 62.6,321.8 64.1,321.3 65.6,320.8 67.1,320.3 68.6,319.7 70.1,319.0 71.6,318.3 73.1,317.4 74.6,316.5 76.1,315.6 77.6,314.6 79.1,313.6 80.6,312.7 82.1,311.8 83.6,310.7 85.1,309.4 86.6,307.9 88.1,306.1 89.6,304.1 91.1,301.9 92.6,299.3 94.1,296.7 95.6,293.9 97.1,290.8 98.6,287.6 100.1,284.8 101.6,282.4 103.1,280.2 104.6,278.1 106.1,276.2 107.6,274.6 109.1,273.5 110.6,272.6 112.1,271.7 113.6,270.7 115.1,270.3 116.6,270.5 118.1,271.1 119.6,271.7 121.1,272.9 122.6,274.3 124.1,275.5 125.6,276.8 127.1,277.9 128.6,278.9 130.1,279.8 131.6,280.5 133.1,280.9 134.6,281.1 136.1,281.2 137.6,281.1 139.1,280.9 140.6,280.8 142.1,280.6 143.6,280.3 145.1,280.0 146.6,279.8 148.1,279.6 149.6,279.4 151.1,279.2 152.6,278.9 154.1,278.7 155.6,278.5 157.1,278.2 158.6,278.0 160.1,277.7 161.6,277.4 163.1,277.1 164.6,276.8 166.1,276.5 167.6,276.2 169.1,275.9 170.6,275.7 172.1,275.5 173.6,275.3 175.1,275.0 176.6,274.8 178.1,274.6 179.6,274.4 181.1,274.2 182.6,274.0 184.1,273.8 185.6,273.5 187.1,273.3 188.6,273.1 190.1,272.9 191.6,272.7 193.1,272.5 194.6,272.4 196.1,272.2 197.6,272.0 199.1,271.8 200.6,271.6 202.1,271.5 203.6,271.3 205.1,271.1 206.6,271.0 208.1,270.8 209.6,270.7 211.1,270.5 212.6,270.4 214.1,270.3 215.6,270.1 217.1,270.0 218.6,269.9 220.1,269.8 221.6,269.7 223.1,269.6 224.6,269.5 225.0,269.5" fill="none" stroke="#6a38d8" stroke-width="1.05"/><line x1="100" y1="285.15" x2="136" y2="280.61" stroke="#222" stroke-width="0.9" stroke-dasharray="2.2 1.4"/></g>
<text x="33.75" y="286.90" font-size="9" font-weight="bold" fill="#111">C<tspan font-size="5.4" dy="1.0" style="letter-spacing:0.12px">p,melt</tspan></text>
<text x="197.95" y="305.40" font-size="9" font-weight="bold" fill="#111">C<tspan font-size="5.4" dy="1.0" style="letter-spacing:0.12px">p,glass</tspan></text>
<rect x="142.10" y="316.90" width="79.60" height="13.10" fill="#fff" stroke="#555" stroke-width="0.9"/>
<line x1="180.60" y1="316.90" x2="180.60" y2="330.00" stroke="#555" stroke-width="0.9"/>
<text x="161.35" y="326.30" text-anchor="middle" font-size="8.3" fill="#262626">Endo up</text>
<text x="201.15" y="326.30" text-anchor="middle" font-size="8.3" fill="#262626">0.05 &#956;J/K</text>
<rect x="26.5" y="190.5" width="199.0" height="147.0" fill="none" stroke="#505050" stroke-width="1"/><line x1="33.50" y1="337.5" x2="33.50" y2="334.9" stroke="#505050" stroke-width="0.9"/><line x1="33.50" y1="190.5" x2="33.50" y2="193.1" stroke="#505050" stroke-width="0.9"/><line x1="55.50" y1="337.5" x2="55.50" y2="335.9" stroke="#505050" stroke-width="0.9"/><line x1="55.50" y1="190.5" x2="55.50" y2="192.1" stroke="#505050" stroke-width="0.9"/><line x1="78.50" y1="337.5" x2="78.50" y2="334.9" stroke="#505050" stroke-width="0.9"/><line x1="78.50" y1="190.5" x2="78.50" y2="193.1" stroke="#505050" stroke-width="0.9"/><line x1="100.50" y1="337.5" x2="100.50" y2="335.9" stroke="#505050" stroke-width="0.9"/><line x1="100.50" y1="190.5" x2="100.50" y2="192.1" stroke="#505050" stroke-width="0.9"/><line x1="123.50" y1="337.5" x2="123.50" y2="334.9" stroke="#505050" stroke-width="0.9"/><line x1="123.50" y1="190.5" x2="123.50" y2="193.1" stroke="#505050" stroke-width="0.9"/><line x1="145.50" y1="337.5" x2="145.50" y2="335.9" stroke="#505050" stroke-width="0.9"/><line x1="145.50" y1="190.5" x2="145.50" y2="192.1" stroke="#505050" stroke-width="0.9"/><line x1="168.50" y1="337.5" x2="168.50" y2="334.9" stroke="#505050" stroke-width="0.9"/><line x1="168.50" y1="190.5" x2="168.50" y2="193.1" stroke="#505050" stroke-width="0.9"/><line x1="190.50" y1="337.5" x2="190.50" y2="335.9" stroke="#505050" stroke-width="0.9"/><line x1="190.50" y1="190.5" x2="190.50" y2="192.1" stroke="#505050" stroke-width="0.9"/><line x1="213.50" y1="337.5" x2="213.50" y2="334.9" stroke="#505050" stroke-width="0.9"/><line x1="213.50" y1="190.5" x2="213.50" y2="193.1" stroke="#505050" stroke-width="0.9"/>
<text x="250.0" y="195.6" font-size="13.8" fill="#262626">(d)</text>
<text transform="translate(260.60,265.50) rotate(-90)" text-anchor="middle" font-size="9.9" fill="#262626">Heat Capacity (&#956;J/K)</text>
<text x="374.25" y="362.00" text-anchor="middle" font-size="10" fill="#262626">Temperature (K)</text>
<text x="280.40" y="348.10" text-anchor="middle" font-size="6.6" fill="#262626">200</text>
<text x="325.92" y="348.10" text-anchor="middle" font-size="6.6" fill="#262626">250</text>
<text x="371.45" y="348.10" text-anchor="middle" font-size="6.6" fill="#262626">300</text>
<text x="416.98" y="348.10" text-anchor="middle" font-size="6.6" fill="#262626">350</text>
<text x="462.50" y="348.10" text-anchor="middle" font-size="6.6" fill="#262626">400</text>
<clipPath id="cd"><rect x="274.1" y="191.0" width="200.29999999999995" height="149.0"/></clipPath>
<line x1="284.00" y1="203.40" x2="299.00" y2="203.40" stroke="#e81840" stroke-width="0.9" opacity="0.8"/>
<text x="300.30" y="205.90" font-size="6.4" fill="#333" style="stroke-width:0.16px;letter-spacing:0.1px">0.001 s</text>
<line x1="284.00" y1="211.50" x2="299.00" y2="211.50" stroke="#f02020" stroke-width="0.9" opacity="0.8"/>
<text x="300.30" y="214.00" font-size="6.4" fill="#333" style="stroke-width:0.16px;letter-spacing:0.1px">0.005 s</text>
<line x1="284.00" y1="219.60" x2="299.00" y2="219.60" stroke="#f05018" stroke-width="0.9" opacity="0.8"/>
<text x="300.30" y="222.10" font-size="6.4" fill="#333" style="stroke-width:0.16px;letter-spacing:0.1px">0.01 s</text>
<line x1="284.00" y1="227.70" x2="299.00" y2="227.70" stroke="#e88018" stroke-width="0.9" opacity="0.8"/>
<text x="300.30" y="230.20" font-size="6.4" fill="#333" style="stroke-width:0.16px;letter-spacing:0.1px">0.05 s</text>
<line x1="284.00" y1="235.80" x2="299.00" y2="235.80" stroke="#c8b818" stroke-width="0.9" opacity="0.8"/>
<text x="300.30" y="238.30" font-size="6.4" fill="#333" style="stroke-width:0.16px;letter-spacing:0.1px">0.1 s</text>
<line x1="284.00" y1="243.90" x2="299.00" y2="243.90" stroke="#a0d820" stroke-width="0.9" opacity="0.8"/>
<text x="300.30" y="246.40" font-size="6.4" fill="#333" style="stroke-width:0.16px;letter-spacing:0.1px">0.2 s</text>
<line x1="284.00" y1="252.00" x2="299.00" y2="252.00" stroke="#58d028" stroke-width="0.9" opacity="0.8"/>
<text x="300.30" y="254.50" font-size="6.4" fill="#333" style="stroke-width:0.16px;letter-spacing:0.1px">0.5 s</text>
<line x1="284.00" y1="260.10" x2="299.00" y2="260.10" stroke="#18c828" stroke-width="0.9" opacity="0.8"/>
<text x="300.30" y="262.60" font-size="6.4" fill="#333" style="stroke-width:0.16px;letter-spacing:0.1px">1 s</text>
<line x1="284.00" y1="268.20" x2="299.00" y2="268.20" stroke="#10b860" stroke-width="0.9" opacity="0.8"/>
<text x="300.30" y="270.70" font-size="6.4" fill="#333" style="stroke-width:0.16px;letter-spacing:0.1px">2 s</text>
<line x1="324.20" y1="203.40" x2="339.20" y2="203.40" stroke="#10c090" stroke-width="0.9" opacity="0.8"/>
<text x="340.50" y="205.90" font-size="6.4" fill="#333" style="stroke-width:0.16px;letter-spacing:0.1px">5 s</text>
<line x1="324.20" y1="211.50" x2="339.20" y2="211.50" stroke="#10c0c8" stroke-width="0.9" opacity="0.8"/>
<text x="340.50" y="214.00" font-size="6.4" fill="#333" style="stroke-width:0.16px;letter-spacing:0.1px">10 s</text>
<line x1="324.20" y1="219.60" x2="339.20" y2="219.60" stroke="#20a0e8" stroke-width="0.9" opacity="0.8"/>
<text x="340.50" y="222.10" font-size="6.4" fill="#333" style="stroke-width:0.16px;letter-spacing:0.1px">20 s</text>
<line x1="324.20" y1="227.70" x2="339.20" y2="227.70" stroke="#2078f0" stroke-width="0.9" opacity="0.8"/>
<text x="340.50" y="230.20" font-size="6.4" fill="#333" style="stroke-width:0.16px;letter-spacing:0.1px">50 s</text>
<line x1="324.20" y1="235.80" x2="339.20" y2="235.80" stroke="#3050f0" stroke-width="0.9" opacity="0.8"/>
<text x="340.50" y="238.30" font-size="6.4" fill="#333" style="stroke-width:0.16px;letter-spacing:0.1px">100 s</text>
<line x1="324.20" y1="243.90" x2="339.20" y2="243.90" stroke="#4838e8" stroke-width="0.9" opacity="0.8"/>
<text x="340.50" y="246.40" font-size="6.4" fill="#333" style="stroke-width:0.16px;letter-spacing:0.1px">200 s</text>
<line x1="324.20" y1="252.00" x2="339.20" y2="252.00" stroke="#5830e0" stroke-width="0.9" opacity="0.8"/>
<text x="340.50" y="254.50" font-size="6.4" fill="#333" style="stroke-width:0.16px;letter-spacing:0.1px">500 s</text>
<line x1="324.20" y1="260.10" x2="339.20" y2="260.10" stroke="#6828d8" stroke-width="0.9" opacity="0.8"/>
<text x="340.50" y="262.60" font-size="6.4" fill="#333" style="stroke-width:0.16px;letter-spacing:0.1px">1000 s</text>
<line x1="324.20" y1="268.20" x2="339.20" y2="268.20" stroke="#6a38d8" stroke-width="0.9" opacity="0.8"/>
<text x="340.50" y="270.70" font-size="6.4" fill="#333" style="stroke-width:0.16px;letter-spacing:0.1px">2000 s</text>
<text x="411.40" y="231.10" font-size="9.0" fill="#262626"><tspan font-style="italic" font-size="9.3">T</tspan><tspan font-style="italic" font-size="9.6" dy="2.4" dx="-0.2">ag</tspan><tspan dy="-2.4" dx="0.6"> = 233 K</tspan></text>
<g clip-path="url(#cd)"><line x1="274.1" y1="296.6" x2="474.4" y2="271.6" stroke="#222" stroke-width="1.0"/><line x1="274.1" y1="331.9" x2="474.4" y2="295.0" stroke="#222" stroke-width="1.0"/><polyline points="274.1,332.1 275.6,331.5 277.1,331.0 278.6,330.6 280.1,330.1 281.6,329.7 283.1,329.2 284.6,328.8 286.1,328.4 287.6,328.0 289.1,327.7 290.6,327.3 292.1,327.0 293.6,326.6 295.1,326.3 296.6,325.9 298.1,325.6 299.6,325.2 301.1,324.8 302.6,324.5 304.1,324.1 305.6,323.6 307.1,323.2 308.6,322.7 310.1,322.2 311.6,321.7 313.1,321.1 314.6,320.6 316.1,319.9 317.6,319.3 319.1,318.6 320.6,317.9 322.1,317.1 323.6,316.3 325.1,315.4 326.6,314.5 328.1,313.5 329.6,312.5 331.1,311.4 332.6,310.4 334.1,309.2 335.6,307.9 337.1,306.8 338.6,305.8 340.1,305.0 341.6,304.2 343.1,303.5 344.6,302.8 346.1,302.2 347.6,301.5 349.1,300.9 350.6,300.3 352.1,299.5 353.6,298.6 355.1,297.8 356.6,297.2 358.1,296.6 359.6,296.0 361.1,295.4 362.6,294.8 364.1,294.2 365.6,293.7 367.1,293.1 368.6,292.6 370.1,292.0 371.6,291.5 373.1,291.0 374.6,290.5 376.1,290.0 377.6,289.5 379.1,288.9 380.6,288.3 382.1,287.7 383.6,287.1 385.1,286.5 386.6,285.9 388.1,285.3 389.6,284.7 391.1,284.1 392.6,283.5 394.1,283.0 395.6,282.5 397.1,282.0 398.6,281.6 400.1,281.3 401.6,280.9 403.1,280.6 404.6,280.2 406.1,279.9 407.6,279.6 409.1,279.3 410.6,279.0 412.1,278.8 413.6,278.5 415.1,278.3 416.6,278.0 418.1,277.8 419.6,277.6 421.1,277.3 422.6,277.1 424.1,276.9 425.6,276.7 427.1,276.5 428.6,276.3 430.1,276.1 431.6,275.8 433.1,275.6 434.6,275.4 436.1,275.2 437.6,275.0 439.1,274.8 440.6,274.7 442.1,274.5 443.6,274.3 445.1,274.1 446.6,273.9 448.1,273.7 449.6,273.6 451.1,273.4 452.6,273.3 454.1,273.1 455.6,272.9 457.1,272.8 458.6,272.7 460.1,272.5 461.6,272.4 463.1,272.3 464.6,272.1 466.1,272.0 467.6,271.9 469.1,271.8 470.6,271.7 472.1,271.6 473.6,271.5 474.4,271.5" fill="none" stroke="#e81840" stroke-width="0.65"/><polyline points="274.1,331.6 275.6,331.1 277.1,330.6 278.6,330.1 280.1,329.7 281.6,329.3 283.1,328.8 284.6,328.4 286.1,328.0 287.6,327.7 289.1,327.3 290.6,327.0 292.1,326.6 293.6,326.3 295.1,325.9 296.6,325.5 298.1,325.2 299.6,324.8 301.1,324.5 302.6,324.1 304.1,323.7 305.6,323.3 307.1,322.8 308.6,322.4 310.1,321.9 311.6,321.4 313.1,320.8 314.6,320.2 316.1,319.6 317.6,319.0 319.1,318.3 320.6,317.5 322.1,316.8 323.6,316.0 325.1,315.1 326.6,314.2 328.1,313.2 329.6,312.2 331.1,311.1 332.6,310.1 334.1,308.9 335.6,307.7 337.1,306.5 338.6,305.6 340.1,304.7 341.6,304.0 343.1,303.2 344.6,302.6 346.1,301.9 347.6,301.3 349.1,300.6 350.6,299.8 352.1,298.8 353.6,297.7 355.1,296.9 356.6,296.2 358.1,295.6 359.6,295.1 361.1,294.5 362.6,293.9 364.1,293.4 365.6,292.9 367.1,292.4 368.6,291.9 370.1,291.4 371.6,291.0 373.1,290.5 374.6,290.1 376.1,289.6 377.6,289.1 379.1,288.6 380.6,288.0 382.1,287.5 383.6,286.9 385.1,286.3 386.6,285.7 388.1,285.1 389.6,284.6 391.1,284.0 392.6,283.5 394.1,283.0 395.6,282.5 397.1,282.0 398.6,281.6 400.1,281.3 401.6,280.9 403.1,280.6 404.6,280.2 406.1,279.9 407.6,279.6 409.1,279.3 410.6,279.0 412.1,278.8 413.6,278.5 415.1,278.3 416.6,278.0 418.1,277.8 419.6,277.6 421.1,277.3 422.6,277.1 424.1,276.9 425.6,276.7 427.1,276.5 428.6,276.3 430.1,276.1 431.6,275.8 433.1,275.6 434.6,275.4 436.1,275.2 437.6,275.0 439.1,274.8 440.6,274.7 442.1,274.5 443.6,274.3 445.1,274.1 446.6,273.9 448.1,273.7 449.6,273.6 451.1,273.4 452.6,273.3 454.1,273.1 455.6,272.9 457.1,272.8 458.6,272.7 460.1,272.5 461.6,272.4 463.1,272.3 464.6,272.1 466.1,272.0 467.6,271.9 469.1,271.8 470.6,271.7 472.1,271.6 473.6,271.5 474.4,271.5" fill="none" stroke="#f02020" stroke-width="0.65"/><polyline points="274.1,331.3 275.6,330.8 277.1,330.4 278.6,329.9 280.1,329.5 281.6,329.1 283.1,328.7 284.6,328.3 286.1,327.9 287.6,327.5 289.1,327.2 290.6,326.8 292.1,326.5 293.6,326.1 295.1,325.8 296.6,325.4 298.1,325.1 299.6,324.7 301.1,324.4 302.6,324.0 304.1,323.6 305.6,323.2 307.1,322.8 308.6,322.3 310.1,321.8 311.6,321.3 313.1,320.7 314.6,320.2 316.1,319.6 317.6,318.9 319.1,318.2 320.6,317.5 322.1,316.7 323.6,315.9 325.1,315.1 326.6,314.2 328.1,313.2 329.6,312.2 331.1,311.1 332.6,310.1 334.1,308.9 335.6,307.7 337.1,306.5 338.6,305.6 340.1,304.7 341.6,304.0 343.1,303.2 344.6,302.6 346.1,301.9 347.6,301.3 349.1,300.5 350.6,299.3 352.1,298.0 353.6,296.7 355.1,295.8 356.6,295.1 358.1,294.5 359.6,293.9 361.1,293.4 362.6,292.8 364.1,292.3 365.6,291.9 367.1,291.4 368.6,291.1 370.1,290.7 371.6,290.3 373.1,289.9 374.6,289.5 376.1,289.1 377.6,288.7 379.1,288.2 380.6,287.7 382.1,287.2 383.6,286.6 385.1,286.1 386.6,285.5 388.1,285.0 389.6,284.4 391.1,283.9 392.6,283.4 394.1,282.9 395.6,282.4 397.1,282.0 398.6,281.6 400.1,281.3 401.6,280.9 403.1,280.6 404.6,280.2 406.1,279.9 407.6,279.6 409.1,279.3 410.6,279.0 412.1,278.8 413.6,278.5 415.1,278.3 416.6,278.0 418.1,277.8 419.6,277.6 421.1,277.3 422.6,277.1 424.1,276.9 425.6,276.7 427.1,276.5 428.6,276.3 430.1,276.1 431.6,275.8 433.1,275.6 434.6,275.4 436.1,275.2 437.6,275.0 439.1,274.8 440.6,274.7 442.1,274.5 443.6,274.3 445.1,274.1 446.6,273.9 448.1,273.7 449.6,273.6 451.1,273.4 452.6,273.3 454.1,273.1 455.6,272.9 457.1,272.8 458.6,272.7 460.1,272.5 461.6,272.4 463.1,272.3 464.6,272.1 466.1,272.0 467.6,271.9 469.1,271.8 470.6,271.7 472.1,271.6 473.6,271.5 474.4,271.5" fill="none" stroke="#f05018" stroke-width="0.65"/><polyline points="274.1,331.2 275.6,330.8 277.1,330.4 278.6,330.0 280.1,329.6 281.6,329.1 283.1,328.8 284.6,328.4 286.1,328.0 287.6,327.6 289.1,327.3 290.6,326.9 292.1,326.6 293.6,326.3 295.1,325.9 296.6,325.6 298.1,325.2 299.6,324.9 301.1,324.5 302.6,324.2 304.1,323.8 305.6,323.4 307.1,322.9 308.6,322.5 310.1,322.0 311.6,321.5 313.1,320.9 314.6,320.4 316.1,319.8 317.6,319.1 319.1,318.4 320.6,317.7 322.1,316.9 323.6,316.1 325.1,315.3 326.6,314.4 328.1,313.5 329.6,312.4 331.1,311.4 332.6,310.3 334.1,309.1 335.6,307.9 337.1,306.8 338.6,305.8 340.1,305.0 341.6,304.2 343.1,303.5 344.6,302.8 346.1,302.2 347.6,301.4 349.1,300.3 350.6,298.8 352.1,297.1 353.6,295.8 355.1,294.8 356.6,293.9 358.1,293.2 359.6,292.6 361.1,292.1 362.6,291.6 364.1,291.2 365.6,290.8 367.1,290.4 368.6,290.1 370.1,289.8 371.6,289.5 373.1,289.2 374.6,288.9 376.1,288.5 377.6,288.2 379.1,287.7 380.6,287.3 382.1,286.8 383.6,286.3 385.1,285.8 386.6,285.3 388.1,284.8 389.6,284.3 391.1,283.8 392.6,283.3 394.1,282.9 395.6,282.4 397.1,282.0 398.6,281.6 400.1,281.3 401.6,280.9 403.1,280.6 404.6,280.2 406.1,279.9 407.6,279.6 409.1,279.3 410.6,279.0 412.1,278.8 413.6,278.5 415.1,278.3 416.6,278.0 418.1,277.8 419.6,277.6 421.1,277.3 422.6,277.1 424.1,276.9 425.6,276.7 427.1,276.5 428.6,276.3 430.1,276.1 431.6,275.8 433.1,275.6 434.6,275.4 436.1,275.2 437.6,275.0 439.1,274.8 440.6,274.7 442.1,274.5 443.6,274.3 445.1,274.1 446.6,273.9 448.1,273.7 449.6,273.6 451.1,273.4 452.6,273.3 454.1,273.1 455.6,272.9 457.1,272.8 458.6,272.7 460.1,272.5 461.6,272.4 463.1,272.3 464.6,272.1 466.1,272.0 467.6,271.9 469.1,271.8 470.6,271.7 472.1,271.6 473.6,271.5 474.4,271.5" fill="none" stroke="#e88018" stroke-width="0.65"/><polyline points="274.1,331.2 275.6,330.8 277.1,330.4 278.6,330.0 280.1,329.6 281.6,329.2 283.1,328.9 284.6,328.5 286.1,328.1 287.6,327.8 289.1,327.4 290.6,327.1 292.1,326.7 293.6,326.4 295.1,326.1 296.6,325.7 298.1,325.4 299.6,325.0 301.1,324.7 302.6,324.3 304.1,324.0 305.6,323.6 307.1,323.1 308.6,322.7 310.1,322.2 311.6,321.7 313.1,321.1 314.6,320.6 316.1,320.0 317.6,319.3 319.1,318.6 320.6,317.9 322.1,317.1 323.6,316.4 325.1,315.5 326.6,314.7 328.1,313.7 329.6,312.7 331.1,311.6 332.6,310.5 334.1,309.4 335.6,308.2 337.1,307.0 338.6,306.1 340.1,305.2 341.6,304.5 343.1,303.8 344.6,303.1 346.1,302.3 347.6,301.4 349.1,300.0 350.6,298.2 352.1,296.4 353.6,295.0 355.1,293.8 356.6,292.8 358.1,292.0 359.6,291.4 361.1,290.8 362.6,290.4 364.1,290.0 365.6,289.6 367.1,289.3 368.6,289.0 370.1,288.8 371.6,288.6 373.1,288.5 374.6,288.2 376.1,287.9 377.6,287.6 379.1,287.3 380.6,286.9 382.1,286.4 383.6,286.0 385.1,285.6 386.6,285.1 388.1,284.6 389.6,284.1 391.1,283.7 392.6,283.2 394.1,282.8 395.6,282.3 397.1,281.9 398.6,281.6 400.1,281.3 401.6,280.9 403.1,280.6 404.6,280.2 406.1,279.9 407.6,279.6 409.1,279.3 410.6,279.0 412.1,278.8 413.6,278.5 415.1,278.3 416.6,278.0 418.1,277.8 419.6,277.6 421.1,277.3 422.6,277.1 424.1,276.9 425.6,276.7 427.1,276.5 428.6,276.3 430.1,276.1 431.6,275.8 433.1,275.6 434.6,275.4 436.1,275.2 437.6,275.0 439.1,274.8 440.6,274.7 442.1,274.5 443.6,274.3 445.1,274.1 446.6,273.9 448.1,273.7 449.6,273.6 451.1,273.4 452.6,273.3 454.1,273.1 455.6,272.9 457.1,272.8 458.6,272.7 460.1,272.5 461.6,272.4 463.1,272.3 464.6,272.1 466.1,272.0 467.6,271.9 469.1,271.8 470.6,271.7 472.1,271.6 473.6,271.5 474.4,271.5" fill="none" stroke="#c8b818" stroke-width="0.65"/><polyline points="274.1,331.2 275.6,330.9 277.1,330.5 278.6,330.1 280.1,329.7 281.6,329.3 283.1,329.0 284.6,328.6 286.1,328.2 287.6,327.9 289.1,327.5 290.6,327.2 292.1,326.9 293.6,326.6 295.1,326.2 296.6,325.9 298.1,325.5 299.6,325.2 301.1,324.9 302.6,324.5 304.1,324.1 305.6,323.7 307.1,323.3 308.6,322.9 310.1,322.4 311.6,321.9 313.1,321.3 314.6,320.8 316.1,320.2 317.6,319.5 319.1,318.8 320.6,318.1 322.1,317.4 323.6,316.6 325.1,315.8 326.6,314.9 328.1,313.9 329.6,312.9 331.1,311.9 332.6,310.8 334.1,309.6 335.6,308.4 337.1,307.3 338.6,306.3 340.1,305.5 341.6,304.7 343.1,304.0 344.6,303.3 346.1,302.4 347.6,301.2 349.1,299.5 350.6,297.6 352.1,295.8 353.6,294.2 355.1,292.8 356.6,291.7 358.1,290.8 359.6,290.0 361.1,289.5 362.6,289.0 364.1,288.6 365.6,288.3 367.1,288.1 368.6,287.9 370.1,287.7 371.6,287.7 373.1,287.6 374.6,287.4 376.1,287.2 377.6,287.0 379.1,286.7 380.6,286.4 382.1,286.0 383.6,285.6 385.1,285.2 386.6,284.8 388.1,284.4 389.6,284.0 391.1,283.5 392.6,283.1 394.1,282.7 395.6,282.3 397.1,281.9 398.6,281.6 400.1,281.3 401.6,280.9 403.1,280.6 404.6,280.2 406.1,279.9 407.6,279.6 409.1,279.3 410.6,279.0 412.1,278.8 413.6,278.5 415.1,278.3 416.6,278.0 418.1,277.8 419.6,277.6 421.1,277.3 422.6,277.1 424.1,276.9 425.6,276.7 427.1,276.5 428.6,276.3 430.1,276.1 431.6,275.8 433.1,275.6 434.6,275.4 436.1,275.2 437.6,275.0 439.1,274.8 440.6,274.7 442.1,274.5 443.6,274.3 445.1,274.1 446.6,273.9 448.1,273.7 449.6,273.6 451.1,273.4 452.6,273.3 454.1,273.1 455.6,272.9 457.1,272.8 458.6,272.7 460.1,272.5 461.6,272.4 463.1,272.3 464.6,272.1 466.1,272.0 467.6,271.9 469.1,271.8 470.6,271.7 472.1,271.6 473.6,271.5 474.4,271.5" fill="none" stroke="#a0d820" stroke-width="0.65"/><polyline points="274.1,331.2 275.6,330.9 277.1,330.5 278.6,330.2 280.1,329.8 281.6,329.4 283.1,329.1 284.6,328.7 286.1,328.4 287.6,328.0 289.1,327.7 290.6,327.4 292.1,327.0 293.6,326.7 295.1,326.4 296.6,326.0 298.1,325.7 299.6,325.4 301.1,325.0 302.6,324.7 304.1,324.3 305.6,323.9 307.1,323.5 308.6,323.1 310.1,322.6 311.6,322.1 313.1,321.5 314.6,321.0 316.1,320.4 317.6,319.7 319.1,319.0 320.6,318.3 322.1,317.6 323.6,316.8 325.1,316.0 326.6,315.1 328.1,314.2 329.6,313.2 331.1,312.1 332.6,311.0 334.1,309.9 335.6,308.7 337.1,307.5 338.6,306.6 340.1,305.8 341.6,305.0 343.1,304.3 344.6,303.4 346.1,302.3 347.6,300.8 349.1,298.9 350.6,297.0 352.1,295.2 353.6,293.5 355.1,292.0 356.6,290.8 358.1,289.7 359.6,288.8 361.1,288.1 362.6,287.6 364.1,287.2 365.6,287.0 367.1,286.8 368.6,286.6 370.1,286.6 371.6,286.6 373.1,286.6 374.6,286.6 376.1,286.5 377.6,286.3 379.1,286.1 380.6,285.9 382.1,285.6 383.6,285.3 385.1,284.9 386.6,284.5 388.1,284.2 389.6,283.8 391.1,283.4 392.6,283.0 394.1,282.6 395.6,282.2 397.1,281.9 398.6,281.6 400.1,281.3 401.6,280.9 403.1,280.6 404.6,280.2 406.1,279.9 407.6,279.6 409.1,279.3 410.6,279.0 412.1,278.8 413.6,278.5 415.1,278.3 416.6,278.0 418.1,277.8 419.6,277.6 421.1,277.3 422.6,277.1 424.1,276.9 425.6,276.7 427.1,276.5 428.6,276.3 430.1,276.1 431.6,275.8 433.1,275.6 434.6,275.4 436.1,275.2 437.6,275.0 439.1,274.8 440.6,274.7 442.1,274.5 443.6,274.3 445.1,274.1 446.6,273.9 448.1,273.7 449.6,273.6 451.1,273.4 452.6,273.3 454.1,273.1 455.6,272.9 457.1,272.8 458.6,272.7 460.1,272.5 461.6,272.4 463.1,272.3 464.6,272.1 466.1,272.0 467.6,271.9 469.1,271.8 470.6,271.7 472.1,271.6 473.6,271.5 474.4,271.5" fill="none" stroke="#58d028" stroke-width="0.65"/><polyline points="274.1,331.2 275.6,330.9 277.1,330.6 278.6,330.2 280.1,329.9 281.6,329.5 283.1,329.2 284.6,328.8 286.1,328.5 287.6,328.1 289.1,327.8 290.6,327.5 292.1,327.2 293.6,326.8 295.1,326.5 296.6,326.2 298.1,325.9 299.6,325.5 301.1,325.2 302.6,324.9 304.1,324.5 305.6,324.1 307.1,323.7 308.6,323.3 310.1,322.8 311.6,322.3 313.1,321.7 314.6,321.2 316.1,320.6 317.6,319.9 319.1,319.2 320.6,318.5 322.1,317.8 323.6,317.0 325.1,316.2 326.6,315.3 328.1,314.4 329.6,313.4 331.1,312.4 332.6,311.3 334.1,310.1 335.6,308.9 337.1,307.8 338.6,306.8 340.1,306.0 341.6,305.2 343.1,304.4 344.6,303.3 346.1,302.0 347.6,300.2 349.1,298.3 350.6,296.4 352.1,294.7 353.6,293.0 355.1,291.3 356.6,289.9 358.1,288.7 359.6,287.6 361.1,286.8 362.6,286.2 364.1,285.8 365.6,285.5 367.1,285.4 368.6,285.3 370.1,285.3 371.6,285.4 373.1,285.5 374.6,285.7 376.1,285.7 377.6,285.6 379.1,285.5 380.6,285.3 382.1,285.1 383.6,284.8 385.1,284.5 386.6,284.2 388.1,283.9 389.6,283.6 391.1,283.2 392.6,282.9 394.1,282.5 395.6,282.2 397.1,281.8 398.6,281.5 400.1,281.3 401.6,280.9 403.1,280.6 404.6,280.2 406.1,279.9 407.6,279.6 409.1,279.3 410.6,279.0 412.1,278.8 413.6,278.5 415.1,278.3 416.6,278.0 418.1,277.8 419.6,277.6 421.1,277.3 422.6,277.1 424.1,276.9 425.6,276.7 427.1,276.5 428.6,276.3 430.1,276.1 431.6,275.8 433.1,275.6 434.6,275.4 436.1,275.2 437.6,275.0 439.1,274.8 440.6,274.7 442.1,274.5 443.6,274.3 445.1,274.1 446.6,273.9 448.1,273.7 449.6,273.6 451.1,273.4 452.6,273.3 454.1,273.1 455.6,272.9 457.1,272.8 458.6,272.7 460.1,272.5 461.6,272.4 463.1,272.3 464.6,272.1 466.1,272.0 467.6,271.9 469.1,271.8 470.6,271.7 472.1,271.6 473.6,271.5 474.4,271.5" fill="none" stroke="#18c828" stroke-width="0.65"/><polyline points="274.1,331.2 275.6,330.9 277.1,330.6 278.6,330.3 280.1,330.0 281.6,329.6 283.1,329.3 284.6,329.0 286.1,328.6 287.6,328.3 289.1,327.9 290.6,327.6 292.1,327.3 293.6,327.0 295.1,326.7 296.6,326.3 298.1,326.0 299.6,325.7 301.1,325.4 302.6,325.0 304.1,324.7 305.6,324.3 307.1,323.9 308.6,323.4 310.1,323.0 311.6,322.5 313.1,321.9 314.6,321.4 316.1,320.8 317.6,320.1 319.1,319.4 320.6,318.7 322.1,318.0 323.6,317.2 325.1,316.4 326.6,315.6 328.1,314.6 329.6,313.6 331.1,312.6 332.6,311.5 334.1,310.4 335.6,309.2 337.1,308.0 338.6,307.1 340.1,306.3 341.6,305.4 343.1,304.3 344.6,303.1 346.1,301.5 347.6,299.6 349.1,297.7 350.6,295.9 352.1,294.1 353.6,292.4 355.1,290.8 356.6,289.2 358.1,287.7 359.6,286.5 361.1,285.5 362.6,284.8 364.1,284.3 365.6,284.1 367.1,284.0 368.6,283.9 370.1,284.0 371.6,284.1 373.1,284.4 374.6,284.6 376.1,284.8 377.6,284.8 379.1,284.8 380.6,284.7 382.1,284.6 383.6,284.4 385.1,284.2 386.6,283.9 388.1,283.7 389.6,283.4 391.1,283.1 392.6,282.8 394.1,282.4 395.6,282.1 397.1,281.8 398.6,281.5 400.1,281.3 401.6,280.9 403.1,280.6 404.6,280.2 406.1,279.9 407.6,279.6 409.1,279.3 410.6,279.0 412.1,278.8 413.6,278.5 415.1,278.3 416.6,278.0 418.1,277.8 419.6,277.6 421.1,277.3 422.6,277.1 424.1,276.9 425.6,276.7 427.1,276.5 428.6,276.3 430.1,276.1 431.6,275.8 433.1,275.6 434.6,275.4 436.1,275.2 437.6,275.0 439.1,274.8 440.6,274.7 442.1,274.5 443.6,274.3 445.1,274.1 446.6,273.9 448.1,273.7 449.6,273.6 451.1,273.4 452.6,273.3 454.1,273.1 455.6,272.9 457.1,272.8 458.6,272.7 460.1,272.5 461.6,272.4 463.1,272.3 464.6,272.1 466.1,272.0 467.6,271.9 469.1,271.8 470.6,271.7 472.1,271.6 473.6,271.5 474.4,271.5" fill="none" stroke="#10b860" stroke-width="0.65"/><polyline points="274.1,331.2 275.6,330.9 277.1,330.6 278.6,330.3 280.1,330.0 281.6,329.7 283.1,329.4 284.6,329.1 286.1,328.7 287.6,328.4 289.1,328.1 290.6,327.8 292.1,327.5 293.6,327.1 295.1,326.8 296.6,326.5 298.1,326.2 299.6,325.9 301.1,325.5 302.6,325.2 304.1,324.9 305.6,324.5 307.1,324.1 308.6,323.6 310.1,323.2 311.6,322.7 313.1,322.1 314.6,321.6 316.1,321.0 317.6,320.3 319.1,319.6 320.6,318.9 322.1,318.2 323.6,317.4 325.1,316.7 326.6,315.8 328.1,314.9 329.6,313.9 331.1,312.9 332.6,311.8 334.1,310.6 335.6,309.4 337.1,308.3 338.6,307.3 340.1,306.4 341.6,305.4 343.1,304.2 344.6,302.7 346.1,300.9 347.6,299.0 349.1,297.1 350.6,295.3 352.1,293.6 353.6,291.9 355.1,290.2 356.6,288.6 358.1,286.9 359.6,285.5 361.1,284.3 362.6,283.4 364.1,282.8 365.6,282.5 367.1,282.4 368.6,282.5 370.1,282.6 371.6,282.8 373.1,283.1 374.6,283.5 376.1,283.8 377.6,284.0 379.1,284.1 380.6,284.1 382.1,284.0 383.6,283.9 385.1,283.7 386.6,283.6 388.1,283.4 389.6,283.1 391.1,282.9 392.6,282.6 394.1,282.3 395.6,282.0 397.1,281.8 398.6,281.5 400.1,281.3 401.6,280.9 403.1,280.6 404.6,280.2 406.1,279.9 407.6,279.6 409.1,279.3 410.6,279.0 412.1,278.8 413.6,278.5 415.1,278.3 416.6,278.0 418.1,277.8 419.6,277.6 421.1,277.3 422.6,277.1 424.1,276.9 425.6,276.7 427.1,276.5 428.6,276.3 430.1,276.1 431.6,275.8 433.1,275.6 434.6,275.4 436.1,275.2 437.6,275.0 439.1,274.8 440.6,274.7 442.1,274.5 443.6,274.3 445.1,274.1 446.6,273.9 448.1,273.7 449.6,273.6 451.1,273.4 452.6,273.3 454.1,273.1 455.6,272.9 457.1,272.8 458.6,272.7 460.1,272.5 461.6,272.4 463.1,272.3 464.6,272.1 466.1,272.0 467.6,271.9 469.1,271.8 470.6,271.7 472.1,271.6 473.6,271.5 474.4,271.5" fill="none" stroke="#10c090" stroke-width="0.65"/><polyline points="274.1,331.2 275.6,331.0 277.1,330.7 278.6,330.4 280.1,330.1 281.6,329.8 283.1,329.5 284.6,329.2 286.1,328.9 287.6,328.5 289.1,328.2 290.6,327.9 292.1,327.6 293.6,327.3 295.1,327.0 296.6,326.6 298.1,326.3 299.6,326.0 301.1,325.7 302.6,325.4 304.1,325.0 305.6,324.7 307.1,324.3 308.6,323.8 310.1,323.4 311.6,322.9 313.1,322.3 314.6,321.8 316.1,321.2 317.6,320.5 319.1,319.9 320.6,319.1 322.1,318.4 323.6,317.7 325.1,316.9 326.6,316.0 328.1,315.1 329.6,314.1 331.1,313.1 332.6,312.0 334.1,310.8 335.6,309.6 337.1,308.5 338.6,307.5 340.1,306.4 341.6,305.2 343.1,303.8 344.6,302.1 346.1,300.3 347.6,298.4 349.1,296.5 350.6,294.8 352.1,293.1 353.6,291.4 355.1,289.7 356.6,288.0 358.1,286.3 359.6,284.7 361.1,283.3 362.6,282.2 364.1,281.4 365.6,281.0 367.1,280.9 368.6,281.0 370.1,281.1 371.6,281.4 373.1,281.8 374.6,282.3 376.1,282.8 377.6,283.1 379.1,283.3 380.6,283.4 382.1,283.4 383.6,283.4 385.1,283.3 386.6,283.2 388.1,283.1 389.6,282.9 391.1,282.7 392.6,282.5 394.1,282.2 395.6,282.0 397.1,281.7 398.6,281.5 400.1,281.3 401.6,280.9 403.1,280.6 404.6,280.2 406.1,279.9 407.6,279.6 409.1,279.3 410.6,279.0 412.1,278.8 413.6,278.5 415.1,278.3 416.6,278.0 418.1,277.8 419.6,277.6 421.1,277.3 422.6,277.1 424.1,276.9 425.6,276.7 427.1,276.5 428.6,276.3 430.1,276.1 431.6,275.8 433.1,275.6 434.6,275.4 436.1,275.2 437.6,275.0 439.1,274.8 440.6,274.7 442.1,274.5 443.6,274.3 445.1,274.1 446.6,273.9 448.1,273.7 449.6,273.6 451.1,273.4 452.6,273.3 454.1,273.1 455.6,272.9 457.1,272.8 458.6,272.7 460.1,272.5 461.6,272.4 463.1,272.3 464.6,272.1 466.1,272.0 467.6,271.9 469.1,271.8 470.6,271.7 472.1,271.6 473.6,271.5 474.4,271.5" fill="none" stroke="#10c0c8" stroke-width="0.65"/><polyline points="274.1,331.2 275.6,331.0 277.1,330.7 278.6,330.5 280.1,330.2 281.6,329.9 283.1,329.6 284.6,329.3 286.1,329.0 287.6,328.7 289.1,328.3 290.6,328.0 292.1,327.7 293.6,327.4 295.1,327.1 296.6,326.8 298.1,326.5 299.6,326.2 301.1,325.9 302.6,325.6 304.1,325.2 305.6,324.8 307.1,324.5 308.6,324.0 310.1,323.6 311.6,323.1 313.1,322.5 314.6,322.0 316.1,321.4 317.6,320.7 319.1,320.1 320.6,319.4 322.1,318.6 323.6,317.9 325.1,317.1 326.6,316.2 328.1,315.3 329.6,314.3 331.1,313.2 332.6,312.2 334.1,311.0 335.6,309.8 337.1,308.6 338.6,307.4 340.1,306.3 341.6,304.9 343.1,303.3 344.6,301.6 346.1,299.7 347.6,297.8 349.1,296.0 350.6,294.2 352.1,292.5 353.6,290.9 355.1,289.2 356.6,287.5 358.1,285.7 359.6,283.9 361.1,282.3 362.6,281.0 364.1,280.0 365.6,279.5 367.1,279.3 368.6,279.4 370.1,279.6 371.6,279.9 373.1,280.4 374.6,281.0 376.1,281.7 377.6,282.1 379.1,282.4 380.6,282.6 382.1,282.8 383.6,282.8 385.1,282.8 386.6,282.8 388.1,282.7 389.6,282.6 391.1,282.5 392.6,282.3 394.1,282.1 395.6,281.9 397.1,281.7 398.6,281.5 400.1,281.3 401.6,280.9 403.1,280.6 404.6,280.2 406.1,279.9 407.6,279.6 409.1,279.3 410.6,279.0 412.1,278.8 413.6,278.5 415.1,278.3 416.6,278.0 418.1,277.8 419.6,277.6 421.1,277.3 422.6,277.1 424.1,276.9 425.6,276.7 427.1,276.5 428.6,276.3 430.1,276.1 431.6,275.8 433.1,275.6 434.6,275.4 436.1,275.2 437.6,275.0 439.1,274.8 440.6,274.7 442.1,274.5 443.6,274.3 445.1,274.1 446.6,273.9 448.1,273.7 449.6,273.6 451.1,273.4 452.6,273.3 454.1,273.1 455.6,272.9 457.1,272.8 458.6,272.7 460.1,272.5 461.6,272.4 463.1,272.3 464.6,272.1 466.1,272.0 467.6,271.9 469.1,271.8 470.6,271.7 472.1,271.6 473.6,271.5 474.4,271.5" fill="none" stroke="#20a0e8" stroke-width="0.65"/><polyline points="274.1,331.2 275.6,331.0 277.1,330.8 278.6,330.5 280.1,330.3 281.6,330.0 283.1,329.7 284.6,329.4 286.1,329.1 287.6,328.8 289.1,328.5 290.6,328.2 292.1,327.9 293.6,327.6 295.1,327.2 296.6,326.9 298.1,326.6 299.6,326.3 301.1,326.0 302.6,325.7 304.1,325.4 305.6,325.0 307.1,324.6 308.6,324.2 310.1,323.7 311.6,323.3 313.1,322.7 314.6,322.2 316.1,321.6 317.6,320.9 319.1,320.3 320.6,319.6 322.1,318.8 323.6,318.1 325.1,317.3 326.6,316.4 328.1,315.4 329.6,314.4 331.1,313.3 332.6,312.2 334.1,311.0 335.6,309.8 337.1,308.5 338.6,307.3 340.1,306.0 341.6,304.5 343.1,302.8 344.6,301.0 346.1,299.1 347.6,297.2 349.1,295.4 350.6,293.7 352.1,292.0 353.6,290.3 355.1,288.7 356.6,286.9 358.1,285.1 359.6,283.3 361.1,281.5 362.6,280.0 364.1,278.7 365.6,278.0 367.1,277.7 368.6,277.7 370.1,278.0 371.6,278.4 373.1,278.9 374.6,279.6 376.1,280.4 377.6,281.1 379.1,281.5 380.6,281.8 382.1,282.1 383.6,282.2 385.1,282.3 386.6,282.4 388.1,282.4 389.6,282.4 391.1,282.3 392.6,282.2 394.1,282.0 395.6,281.8 397.1,281.6 398.6,281.5 400.1,281.3 401.6,280.9 403.1,280.6 404.6,280.2 406.1,279.9 407.6,279.6 409.1,279.3 410.6,279.0 412.1,278.8 413.6,278.5 415.1,278.3 416.6,278.0 418.1,277.8 419.6,277.6 421.1,277.3 422.6,277.1 424.1,276.9 425.6,276.7 427.1,276.5 428.6,276.3 430.1,276.1 431.6,275.8 433.1,275.6 434.6,275.4 436.1,275.2 437.6,275.0 439.1,274.8 440.6,274.7 442.1,274.5 443.6,274.3 445.1,274.1 446.6,273.9 448.1,273.7 449.6,273.6 451.1,273.4 452.6,273.3 454.1,273.1 455.6,272.9 457.1,272.8 458.6,272.7 460.1,272.5 461.6,272.4 463.1,272.3 464.6,272.1 466.1,272.0 467.6,271.9 469.1,271.8 470.6,271.7 472.1,271.6 473.6,271.5 474.4,271.5" fill="none" stroke="#2078f0" stroke-width="0.65"/><polyline points="274.1,331.2 275.6,331.0 277.1,330.8 278.6,330.6 280.1,330.4 281.6,330.1 283.1,329.8 284.6,329.5 286.1,329.2 287.6,328.9 289.1,328.6 290.6,328.3 292.1,328.0 293.6,327.7 295.1,327.4 296.6,327.1 298.1,326.8 299.6,326.5 301.1,326.2 302.6,325.9 304.1,325.6 305.6,325.2 307.1,324.8 308.6,324.4 310.1,323.9 311.6,323.4 313.1,322.9 314.6,322.4 316.1,321.8 317.6,321.1 319.1,320.5 320.6,319.8 322.1,319.0 323.6,318.2 325.1,317.3 326.6,316.4 328.1,315.4 329.6,314.4 331.1,313.3 332.6,312.1 334.1,310.9 335.6,309.6 337.1,308.4 338.6,307.1 340.1,305.6 341.6,303.9 343.1,302.2 344.6,300.4 346.1,298.5 347.6,296.6 349.1,294.9 350.6,293.2 352.1,291.5 353.6,289.8 355.1,288.1 356.6,286.4 358.1,284.6 359.6,282.7 361.1,280.8 362.6,279.0 364.1,277.6 365.6,276.6 367.1,276.1 368.6,276.1 370.1,276.4 371.6,276.8 373.1,277.4 374.6,278.2 376.1,279.1 377.6,280.0 379.1,280.6 380.6,281.0 382.1,281.4 383.6,281.6 385.1,281.8 386.6,281.9 388.1,282.0 389.6,282.1 391.1,282.1 392.6,282.0 394.1,281.9 395.6,281.7 397.1,281.6 398.6,281.4 400.1,281.3 401.6,280.9 403.1,280.6 404.6,280.2 406.1,279.9 407.6,279.6 409.1,279.3 410.6,279.0 412.1,278.8 413.6,278.5 415.1,278.3 416.6,278.0 418.1,277.8 419.6,277.6 421.1,277.3 422.6,277.1 424.1,276.9 425.6,276.7 427.1,276.5 428.6,276.3 430.1,276.1 431.6,275.8 433.1,275.6 434.6,275.4 436.1,275.2 437.6,275.0 439.1,274.8 440.6,274.7 442.1,274.5 443.6,274.3 445.1,274.1 446.6,273.9 448.1,273.7 449.6,273.6 451.1,273.4 452.6,273.3 454.1,273.1 455.6,272.9 457.1,272.8 458.6,272.7 460.1,272.5 461.6,272.4 463.1,272.3 464.6,272.1 466.1,272.0 467.6,271.9 469.1,271.8 470.6,271.7 472.1,271.6 473.6,271.5 474.4,271.5" fill="none" stroke="#3050f0" stroke-width="0.65"/><polyline points="274.1,331.2 275.6,331.1 277.1,330.9 278.6,330.7 280.1,330.5 281.6,330.2 283.1,330.0 284.6,329.7 286.1,329.4 287.6,329.0 289.1,328.8 290.6,328.5 292.1,328.2 293.6,327.9 295.1,327.5 296.6,327.2 298.1,326.9 299.6,326.7 301.1,326.4 302.6,326.1 304.1,325.8 305.6,325.4 307.1,325.0 308.6,324.6 310.1,324.1 311.6,323.6 313.1,323.1 314.6,322.6 316.1,322.0 317.6,321.3 319.1,320.7 320.6,320.0 322.1,319.2 323.6,318.3 325.1,317.3 326.6,316.3 328.1,315.3 329.6,314.3 331.1,313.2 332.6,312.0 334.1,310.7 335.6,309.4 337.1,308.1 338.6,306.6 340.1,305.1 341.6,303.4 343.1,301.7 344.6,299.8 346.1,297.9 347.6,296.1 349.1,294.3 350.6,292.6 352.1,291.0 353.6,289.3 355.1,287.6 356.6,285.8 358.1,284.0 359.6,282.1 361.1,280.1 362.6,278.2 364.1,276.5 365.6,275.2 367.1,274.5 368.6,274.4 370.1,274.7 371.6,275.2 373.1,275.8 374.6,276.6 376.1,277.7 377.6,278.8 379.1,279.5 380.6,280.1 382.1,280.6 383.6,281.0 385.1,281.3 386.6,281.5 388.1,281.6 389.6,281.8 391.1,281.8 392.6,281.8 394.1,281.8 395.6,281.7 397.1,281.5 398.6,281.4 400.1,281.3 401.6,280.9 403.1,280.6 404.6,280.2 406.1,279.9 407.6,279.6 409.1,279.3 410.6,279.0 412.1,278.8 413.6,278.5 415.1,278.3 416.6,278.0 418.1,277.8 419.6,277.6 421.1,277.3 422.6,277.1 424.1,276.9 425.6,276.7 427.1,276.5 428.6,276.3 430.1,276.1 431.6,275.8 433.1,275.6 434.6,275.4 436.1,275.2 437.6,275.0 439.1,274.8 440.6,274.7 442.1,274.5 443.6,274.3 445.1,274.1 446.6,273.9 448.1,273.7 449.6,273.6 451.1,273.4 452.6,273.3 454.1,273.1 455.6,272.9 457.1,272.8 458.6,272.7 460.1,272.5 461.6,272.4 463.1,272.3 464.6,272.1 466.1,272.0 467.6,271.9 469.1,271.8 470.6,271.7 472.1,271.6 473.6,271.5 474.4,271.5" fill="none" stroke="#4838e8" stroke-width="0.65"/><polyline points="274.1,331.2 275.6,331.1 277.1,330.9 278.6,330.7 280.1,330.5 281.6,330.3 283.1,330.1 284.6,329.8 286.1,329.5 287.6,329.2 289.1,328.9 290.6,328.6 292.1,328.3 293.6,328.0 295.1,327.7 296.6,327.4 298.1,327.1 299.6,326.8 301.1,326.5 302.6,326.3 304.1,325.9 305.6,325.6 307.1,325.2 308.6,324.8 310.1,324.3 311.6,323.8 313.1,323.3 314.6,322.8 316.1,322.2 317.6,321.5 319.1,320.9 320.6,320.1 322.1,319.2 323.6,318.2 325.1,317.2 326.6,316.2 328.1,315.2 329.6,314.1 331.1,312.9 332.6,311.7 334.1,310.4 335.6,309.1 337.1,307.7 338.6,306.2 340.1,304.6 341.6,302.9 343.1,301.1 344.6,299.2 346.1,297.3 347.6,295.5 349.1,293.8 350.6,292.1 352.1,290.4 353.6,288.8 355.1,287.0 356.6,285.2 358.1,283.4 359.6,281.5 361.1,279.5 362.6,277.4 364.1,275.5 365.6,274.0 367.1,273.1 368.6,272.7 370.1,273.0 371.6,273.5 373.1,274.2 374.6,275.0 376.1,276.2 377.6,277.5 379.1,278.5 380.6,279.2 382.1,279.8 383.6,280.3 385.1,280.7 386.6,281.0 388.1,281.2 389.6,281.4 391.1,281.6 392.6,281.6 394.1,281.6 395.6,281.6 397.1,281.5 398.6,281.4 400.1,281.3 401.6,280.9 403.1,280.6 404.6,280.2 406.1,279.9 407.6,279.6 409.1,279.3 410.6,279.0 412.1,278.8 413.6,278.5 415.1,278.3 416.6,278.0 418.1,277.8 419.6,277.6 421.1,277.3 422.6,277.1 424.1,276.9 425.6,276.7 427.1,276.5 428.6,276.3 430.1,276.1 431.6,275.8 433.1,275.6 434.6,275.4 436.1,275.2 437.6,275.0 439.1,274.8 440.6,274.7 442.1,274.5 443.6,274.3 445.1,274.1 446.6,273.9 448.1,273.7 449.6,273.6 451.1,273.4 452.6,273.3 454.1,273.1 455.6,272.9 457.1,272.8 458.6,272.7 460.1,272.5 461.6,272.4 463.1,272.3 464.6,272.1 466.1,272.0 467.6,271.9 469.1,271.8 470.6,271.7 472.1,271.6 473.6,271.5 474.4,271.5" fill="none" stroke="#5830e0" stroke-width="0.65"/><polyline points="274.1,331.2 275.6,331.1 277.1,331.0 278.6,330.8 280.1,330.6 281.6,330.4 283.1,330.2 284.6,329.9 286.1,329.6 287.6,329.3 289.1,329.0 290.6,328.7 292.1,328.4 293.6,328.1 295.1,327.8 296.6,327.5 298.1,327.3 299.6,327.0 301.1,326.7 302.6,326.4 304.1,326.1 305.6,325.8 307.1,325.4 308.6,325.0 310.1,324.5 311.6,324.0 313.1,323.5 314.6,323.0 316.1,322.4 317.6,321.7 319.1,320.9 320.6,320.1 322.1,319.1 323.6,318.1 325.1,317.0 326.6,316.0 328.1,314.9 329.6,313.8 331.1,312.6 332.6,311.3 334.1,310.0 335.6,308.6 337.1,307.2 338.6,305.7 340.1,304.0 341.6,302.4 343.1,300.5 344.6,298.6 346.1,296.8 347.6,295.0 349.1,293.3 350.6,291.6 352.1,289.9 353.6,288.2 355.1,286.5 356.6,284.7 358.1,282.8 359.6,280.9 361.1,278.9 362.6,276.8 364.1,274.6 365.6,272.9 367.1,271.7 368.6,271.1 370.1,271.2 371.6,271.7 373.1,272.5 374.6,273.4 376.1,274.7 377.6,276.1 379.1,277.3 380.6,278.2 382.1,278.9 383.6,279.5 385.1,280.0 386.6,280.5 388.1,280.8 389.6,281.1 391.1,281.3 392.6,281.5 394.1,281.5 395.6,281.5 397.1,281.4 398.6,281.4 400.1,281.3 401.6,280.9 403.1,280.6 404.6,280.2 406.1,279.9 407.6,279.6 409.1,279.3 410.6,279.0 412.1,278.8 413.6,278.5 415.1,278.3 416.6,278.0 418.1,277.8 419.6,277.6 421.1,277.3 422.6,277.1 424.1,276.9 425.6,276.7 427.1,276.5 428.6,276.3 430.1,276.1 431.6,275.8 433.1,275.6 434.6,275.4 436.1,275.2 437.6,275.0 439.1,274.8 440.6,274.7 442.1,274.5 443.6,274.3 445.1,274.1 446.6,273.9 448.1,273.7 449.6,273.6 451.1,273.4 452.6,273.3 454.1,273.1 455.6,272.9 457.1,272.8 458.6,272.7 460.1,272.5 461.6,272.4 463.1,272.3 464.6,272.1 466.1,272.0 467.6,271.9 469.1,271.8 470.6,271.7 472.1,271.6 473.6,271.5 474.4,271.5" fill="none" stroke="#6828d8" stroke-width="0.65"/><polyline points="274.1,331.2 275.6,331.1 277.1,331.0 278.6,330.9 280.1,330.7 281.6,330.5 283.1,330.3 284.6,330.0 286.1,329.7 287.6,329.4 289.1,329.2 290.6,328.9 292.1,328.6 293.6,328.3 295.1,328.0 296.6,327.7 298.1,327.4 299.6,327.2 301.1,326.9 302.6,326.6 304.1,326.3 305.6,326.0 307.1,325.6 308.6,325.2 310.1,324.7 311.6,324.2 313.1,323.7 314.6,323.2 316.1,322.5 317.6,321.8 319.1,321.0 320.6,320.0 322.1,319.0 323.6,317.9 325.1,316.7 326.6,315.7 328.1,314.6 329.6,313.4 331.1,312.2 332.6,310.9 334.1,309.6 335.6,308.2 337.1,306.7 338.6,305.2 340.1,303.5 341.6,301.8 343.1,299.9 344.6,298.0 346.1,296.2 347.6,294.4 349.1,292.7 350.6,291.1 352.1,289.4 353.6,287.7 355.1,285.9 356.6,284.1 358.1,282.2 359.6,280.3 361.1,278.2 362.6,276.1 364.1,273.9 365.6,271.9 367.1,270.5 368.6,269.6 370.1,269.5 371.6,270.0 373.1,270.8 374.6,271.7 376.1,273.0 377.6,274.6 379.1,276.1 380.6,277.1 382.1,278.0 383.6,278.8 385.1,279.4 386.6,279.9 388.1,280.3 389.6,280.7 391.1,281.0 392.6,281.2 394.1,281.3 395.6,281.4 397.1,281.4 398.6,281.4 400.1,281.3 401.6,280.9 403.1,280.6 404.6,280.2 406.1,279.9 407.6,279.6 409.1,279.3 410.6,279.0 412.1,278.8 413.6,278.5 415.1,278.3 416.6,278.0 418.1,277.8 419.6,277.6 421.1,277.3 422.6,277.1 424.1,276.9 425.6,276.7 427.1,276.5 428.6,276.3 430.1,276.1 431.6,275.8 433.1,275.6 434.6,275.4 436.1,275.2 437.6,275.0 439.1,274.8 440.6,274.7 442.1,274.5 443.6,274.3 445.1,274.1 446.6,273.9 448.1,273.7 449.6,273.6 451.1,273.4 452.6,273.3 454.1,273.1 455.6,272.9 457.1,272.8 458.6,272.7 460.1,272.5 461.6,272.4 463.1,272.3 464.6,272.1 466.1,272.0 467.6,271.9 469.1,271.8 470.6,271.7 472.1,271.6 473.6,271.5 474.4,271.5" fill="none" stroke="#6a38d8" stroke-width="1.05"/><line x1="352" y1="286.88" x2="396" y2="281.39" stroke="#222" stroke-width="0.9" stroke-dasharray="2.2 1.4"/></g>
<text x="278.90" y="288.75" font-size="9" font-weight="bold" fill="#111">C<tspan font-size="5.4" dy="1.0" style="letter-spacing:0.12px">p,melt</tspan></text>
<text x="447.95" y="309.20" font-size="9" font-weight="bold" fill="#111">C<tspan font-size="5.4" dy="1.0" style="letter-spacing:0.12px">p,glass</tspan></text>
<rect x="389.40" y="320.20" width="79.10" height="11.90" fill="#fff" stroke="#555" stroke-width="0.9"/>
<line x1="428.30" y1="320.20" x2="428.30" y2="332.10" stroke="#555" stroke-width="0.9"/>
<text x="408.85" y="329.60" text-anchor="middle" font-size="8.3" fill="#262626">Endo up</text>
<text x="448.40" y="329.60" text-anchor="middle" font-size="8.3" fill="#262626">0.05 &#956;J/K</text>
<rect x="274.5" y="191.5" width="200.0" height="149.0" fill="none" stroke="#505050" stroke-width="1"/><line x1="280.50" y1="340.5" x2="280.50" y2="337.9" stroke="#505050" stroke-width="0.9"/><line x1="280.50" y1="191.5" x2="280.50" y2="194.1" stroke="#505050" stroke-width="0.9"/><line x1="303.50" y1="340.5" x2="303.50" y2="338.9" stroke="#505050" stroke-width="0.9"/><line x1="303.50" y1="191.5" x2="303.50" y2="193.1" stroke="#505050" stroke-width="0.9"/><line x1="325.50" y1="340.5" x2="325.50" y2="337.9" stroke="#505050" stroke-width="0.9"/><line x1="325.50" y1="191.5" x2="325.50" y2="194.1" stroke="#505050" stroke-width="0.9"/><line x1="348.50" y1="340.5" x2="348.50" y2="338.9" stroke="#505050" stroke-width="0.9"/><line x1="348.50" y1="191.5" x2="348.50" y2="193.1" stroke="#505050" stroke-width="0.9"/><line x1="371.50" y1="340.5" x2="371.50" y2="337.9" stroke="#505050" stroke-width="0.9"/><line x1="371.50" y1="191.5" x2="371.50" y2="194.1" stroke="#505050" stroke-width="0.9"/><line x1="394.50" y1="340.5" x2="394.50" y2="338.9" stroke="#505050" stroke-width="0.9"/><line x1="394.50" y1="191.5" x2="394.50" y2="193.1" stroke="#505050" stroke-width="0.9"/><line x1="416.50" y1="340.5" x2="416.50" y2="337.9" stroke="#505050" stroke-width="0.9"/><line x1="416.50" y1="191.5" x2="416.50" y2="194.1" stroke="#505050" stroke-width="0.9"/><line x1="439.50" y1="340.5" x2="439.50" y2="338.9" stroke="#505050" stroke-width="0.9"/><line x1="439.50" y1="191.5" x2="439.50" y2="193.1" stroke="#505050" stroke-width="0.9"/><line x1="462.50" y1="340.5" x2="462.50" y2="337.9" stroke="#505050" stroke-width="0.9"/><line x1="462.50" y1="191.5" x2="462.50" y2="194.1" stroke="#505050" stroke-width="0.9"/>
<text x="5.0" y="377.1" font-size="13.8" fill="#262626">(e)</text>
<text transform="translate(14.10,445.90) rotate(-90)" text-anchor="middle" font-size="9.9" fill="#262626">Heat Capacity (&#956;J/K)</text>
<text x="125.92" y="544.30" text-anchor="middle" font-size="10" fill="#262626">Temperature (K)</text>
<text x="32.90" y="529.60" text-anchor="middle" font-size="8.5" fill="#262626">200</text>
<text x="78.05" y="529.60" text-anchor="middle" font-size="8.5" fill="#262626">250</text>
<text x="123.20" y="529.60" text-anchor="middle" font-size="8.5" fill="#262626">300</text>
<text x="168.35" y="529.60" text-anchor="middle" font-size="8.5" fill="#262626">350</text>
<text x="213.50" y="529.60" text-anchor="middle" font-size="8.5" fill="#262626">400</text>
<clipPath id="ce"><rect x="26.6" y="372.1" width="198.65" height="147.60000000000002"/></clipPath>
<line x1="36.60" y1="383.80" x2="51.60" y2="383.80" stroke="#e81840" stroke-width="0.9" opacity="0.8"/>
<text x="52.90" y="386.30" font-size="6.4" fill="#333" style="stroke-width:0.16px;letter-spacing:0.1px">0.001 s</text>
<line x1="36.60" y1="391.83" x2="51.60" y2="391.83" stroke="#f02020" stroke-width="0.9" opacity="0.8"/>
<text x="52.90" y="394.33" font-size="6.4" fill="#333" style="stroke-width:0.16px;letter-spacing:0.1px">0.005 s</text>
<line x1="36.60" y1="399.86" x2="51.60" y2="399.86" stroke="#f05018" stroke-width="0.9" opacity="0.8"/>
<text x="52.90" y="402.36" font-size="6.4" fill="#333" style="stroke-width:0.16px;letter-spacing:0.1px">0.01 s</text>
<line x1="36.60" y1="407.89" x2="51.60" y2="407.89" stroke="#e88018" stroke-width="0.9" opacity="0.8"/>
<text x="52.90" y="410.39" font-size="6.4" fill="#333" style="stroke-width:0.16px;letter-spacing:0.1px">0.05 s</text>
<line x1="36.60" y1="415.92" x2="51.60" y2="415.92" stroke="#c8b818" stroke-width="0.9" opacity="0.8"/>
<text x="52.90" y="418.42" font-size="6.4" fill="#333" style="stroke-width:0.16px;letter-spacing:0.1px">0.1 s</text>
<line x1="36.60" y1="423.95" x2="51.60" y2="423.95" stroke="#a0d820" stroke-width="0.9" opacity="0.8"/>
<text x="52.90" y="426.45" font-size="6.4" fill="#333" style="stroke-width:0.16px;letter-spacing:0.1px">0.2 s</text>
<line x1="36.60" y1="431.98" x2="51.60" y2="431.98" stroke="#58d028" stroke-width="0.9" opacity="0.8"/>
<text x="52.90" y="434.48" font-size="6.4" fill="#333" style="stroke-width:0.16px;letter-spacing:0.1px">0.5 s</text>
<line x1="36.60" y1="440.01" x2="51.60" y2="440.01" stroke="#18c828" stroke-width="0.9" opacity="0.8"/>
<text x="52.90" y="442.51" font-size="6.4" fill="#333" style="stroke-width:0.16px;letter-spacing:0.1px">1 s</text>
<line x1="36.60" y1="448.04" x2="51.60" y2="448.04" stroke="#10b860" stroke-width="0.9" opacity="0.8"/>
<text x="52.90" y="450.54" font-size="6.4" fill="#333" style="stroke-width:0.16px;letter-spacing:0.1px">2 s</text>
<line x1="76.00" y1="383.80" x2="91.00" y2="383.80" stroke="#10c090" stroke-width="0.9" opacity="0.8"/>
<text x="92.30" y="386.30" font-size="6.4" fill="#333" style="stroke-width:0.16px;letter-spacing:0.1px">5 s</text>
<line x1="76.00" y1="391.83" x2="91.00" y2="391.83" stroke="#10c0c8" stroke-width="0.9" opacity="0.8"/>
<text x="92.30" y="394.33" font-size="6.4" fill="#333" style="stroke-width:0.16px;letter-spacing:0.1px">10 s</text>
<line x1="76.00" y1="399.86" x2="91.00" y2="399.86" stroke="#20a0e8" stroke-width="0.9" opacity="0.8"/>
<text x="92.30" y="402.36" font-size="6.4" fill="#333" style="stroke-width:0.16px;letter-spacing:0.1px">20 s</text>
<line x1="76.00" y1="407.89" x2="91.00" y2="407.89" stroke="#2078f0" stroke-width="0.9" opacity="0.8"/>
<text x="92.30" y="410.39" font-size="6.4" fill="#333" style="stroke-width:0.16px;letter-spacing:0.1px">50 s</text>
<line x1="76.00" y1="415.92" x2="91.00" y2="415.92" stroke="#3050f0" stroke-width="0.9" opacity="0.8"/>
<text x="92.30" y="418.42" font-size="6.4" fill="#333" style="stroke-width:0.16px;letter-spacing:0.1px">100 s</text>
<line x1="76.00" y1="423.95" x2="91.00" y2="423.95" stroke="#4838e8" stroke-width="0.9" opacity="0.8"/>
<text x="92.30" y="426.45" font-size="6.4" fill="#333" style="stroke-width:0.16px;letter-spacing:0.1px">200 s</text>
<line x1="76.00" y1="431.98" x2="91.00" y2="431.98" stroke="#5830e0" stroke-width="0.9" opacity="0.8"/>
<text x="92.30" y="434.48" font-size="6.4" fill="#333" style="stroke-width:0.16px;letter-spacing:0.1px">500 s</text>
<line x1="76.00" y1="440.01" x2="91.00" y2="440.01" stroke="#6828d8" stroke-width="0.9" opacity="0.8"/>
<text x="92.30" y="442.51" font-size="6.4" fill="#333" style="stroke-width:0.16px;letter-spacing:0.1px">1000 s</text>
<line x1="76.00" y1="448.04" x2="91.00" y2="448.04" stroke="#6a38d8" stroke-width="0.9" opacity="0.8"/>
<text x="92.30" y="450.54" font-size="6.4" fill="#333" style="stroke-width:0.16px;letter-spacing:0.1px">2000 s</text>
<text x="162.70" y="411.40" font-size="9.0" fill="#262626"><tspan font-style="italic" font-size="9.3">T</tspan><tspan font-style="italic" font-size="9.6" dy="2.4" dx="-0.2">ag</tspan><tspan dy="-2.4" dx="0.6"> = 243 K</tspan></text>
<g clip-path="url(#ce)"><line x1="26.6" y1="476.6" x2="225.25" y2="450.8" stroke="#222" stroke-width="1.0"/><line x1="26.6" y1="511.9" x2="225.25" y2="474.2" stroke="#222" stroke-width="1.0"/><polyline points="26.6,511.3 28.1,511.1 29.6,510.9 31.1,510.6 32.6,510.4 34.1,510.1 35.6,509.8 37.1,509.6 38.6,509.2 40.1,508.9 41.6,508.6 43.1,508.2 44.6,507.9 46.1,507.5 47.6,507.0 49.1,506.6 50.6,506.2 52.1,505.7 53.6,505.2 55.1,504.7 56.6,504.2 58.1,503.7 59.6,503.1 61.1,502.6 62.6,502.0 64.1,501.4 65.6,500.8 67.1,500.1 68.6,499.5 70.1,498.8 71.6,498.2 73.1,497.5 74.6,496.7 76.1,496.0 77.6,495.3 79.1,494.5 80.6,493.7 82.1,492.9 83.6,492.1 85.1,491.3 86.6,490.4 88.1,489.5 89.6,488.6 91.1,487.7 92.6,486.8 94.1,485.9 95.6,484.9 97.1,484.0 98.6,483.0 100.1,482.0 101.6,481.0 103.1,480.0 104.6,479.1 106.1,478.3 107.6,477.6 109.1,476.8 110.6,476.0 112.1,475.1 113.6,474.3 115.1,473.7 116.6,473.1 118.1,472.6 119.6,472.1 121.1,471.5 122.6,471.0 124.1,470.5 125.6,470.0 127.1,469.5 128.6,469.0 130.1,468.6 131.6,468.1 133.1,467.7 134.6,467.2 136.1,466.8 137.6,466.3 139.1,465.9 140.6,465.4 142.1,465.0 143.6,464.5 145.1,464.0 146.6,463.5 148.1,463.1 149.6,462.6 151.1,462.2 152.6,461.7 154.1,461.2 155.6,460.7 157.1,460.2 158.6,459.8 160.1,459.5 161.6,459.2 163.1,458.9 164.6,458.6 166.1,458.4 167.6,458.2 169.1,457.9 170.6,457.7 172.1,457.5 173.6,457.3 175.1,457.0 176.6,456.8 178.1,456.6 179.6,456.4 181.1,456.2 182.6,456.0 184.1,455.8 185.6,455.6 187.1,455.3 188.6,455.1 190.1,454.9 191.6,454.7 193.1,454.5 194.6,454.3 196.1,454.1 197.6,454.0 199.1,453.8 200.6,453.6 202.1,453.4 203.6,453.2 205.1,453.0 206.6,452.9 208.1,452.7 209.6,452.5 211.1,452.4 212.6,452.2 214.1,452.0 215.6,451.9 217.1,451.7 218.6,451.6 220.1,451.5 221.6,451.3 223.1,451.2 224.6,451.1 225.2,451.0" fill="none" stroke="#e81840" stroke-width="0.65"/><polyline points="26.6,510.9 28.1,510.7 29.6,510.5 31.1,510.2 32.6,510.0 34.1,509.7 35.6,509.4 37.1,509.1 38.6,508.8 40.1,508.5 41.6,508.2 43.1,507.8 44.6,507.5 46.1,507.1 47.6,506.6 49.1,506.2 50.6,505.8 52.1,505.3 53.6,504.8 55.1,504.4 56.6,503.9 58.1,503.3 59.6,502.8 61.1,502.2 62.6,501.7 64.1,501.1 65.6,500.4 67.1,499.8 68.6,499.2 70.1,498.5 71.6,497.9 73.1,497.2 74.6,496.5 76.1,495.7 77.6,495.0 79.1,494.2 80.6,493.4 82.1,492.6 83.6,491.8 85.1,491.0 86.6,490.2 88.1,489.3 89.6,488.4 91.1,487.5 92.6,486.6 94.1,485.6 95.6,484.7 97.1,483.8 98.6,482.8 100.1,481.8 101.6,480.7 103.1,479.8 104.6,478.9 106.1,478.1 107.6,477.3 109.1,476.4 110.6,475.4 112.1,474.4 113.6,473.5 115.1,472.8 116.6,472.2 118.1,471.7 119.6,471.2 121.1,470.7 122.6,470.2 124.1,469.8 125.6,469.3 127.1,468.9 128.6,468.5 130.1,468.1 131.6,467.7 133.1,467.3 134.6,466.9 136.1,466.5 137.6,466.1 139.1,465.6 140.6,465.2 142.1,464.8 143.6,464.3 145.1,463.9 146.6,463.4 148.1,463.0 149.6,462.5 151.1,462.1 152.6,461.6 154.1,461.1 155.6,460.6 157.1,460.2 158.6,459.8 160.1,459.4 161.6,459.1 163.1,458.9 164.6,458.6 166.1,458.4 167.6,458.1 169.1,457.9 170.6,457.7 172.1,457.5 173.6,457.3 175.1,457.0 176.6,456.8 178.1,456.6 179.6,456.4 181.1,456.2 182.6,456.0 184.1,455.8 185.6,455.6 187.1,455.3 188.6,455.1 190.1,454.9 191.6,454.7 193.1,454.5 194.6,454.3 196.1,454.1 197.6,454.0 199.1,453.8 200.6,453.6 202.1,453.4 203.6,453.2 205.1,453.0 206.6,452.9 208.1,452.7 209.6,452.5 211.1,452.4 212.6,452.2 214.1,452.0 215.6,451.9 217.1,451.7 218.6,451.6 220.1,451.5 221.6,451.3 223.1,451.2 224.6,451.1 225.2,451.0" fill="none" stroke="#f02020" stroke-width="0.65"/><polyline points="26.6,510.6 28.1,510.4 29.6,510.2 31.1,510.0 32.6,509.7 34.1,509.5 35.6,509.2 37.1,508.9 38.6,508.6 40.1,508.3 41.6,508.0 43.1,507.6 44.6,507.2 46.1,506.9 47.6,506.4 49.1,506.0 50.6,505.6 52.1,505.1 53.6,504.7 55.1,504.2 56.6,503.7 58.1,503.2 59.6,502.6 61.1,502.1 62.6,501.5 64.1,500.9 65.6,500.3 67.1,499.7 68.6,499.1 70.1,498.5 71.6,497.8 73.1,497.1 74.6,496.4 76.1,495.7 77.6,495.0 79.1,494.2 80.6,493.4 82.1,492.6 83.6,491.8 85.1,491.0 86.6,490.1 88.1,489.3 89.6,488.4 91.1,487.5 92.6,486.5 94.1,485.6 95.6,484.7 97.1,483.7 98.6,482.8 100.1,481.7 101.6,480.7 103.1,479.8 104.6,478.9 106.1,478.0 107.6,477.0 109.1,475.9 110.6,474.7 112.1,473.5 113.6,472.5 115.1,471.8 116.6,471.2 118.1,470.7 119.6,470.2 121.1,469.7 122.6,469.3 124.1,468.9 125.6,468.5 127.1,468.1 128.6,467.8 130.1,467.4 131.6,467.1 133.1,466.8 134.6,466.4 136.1,466.1 137.6,465.7 139.1,465.3 140.6,464.9 142.1,464.5 143.6,464.1 145.1,463.7 146.6,463.2 148.1,462.8 149.6,462.4 151.1,461.9 152.6,461.5 154.1,461.0 155.6,460.5 157.1,460.1 158.6,459.7 160.1,459.4 161.6,459.1 163.1,458.8 164.6,458.6 166.1,458.4 167.6,458.1 169.1,457.9 170.6,457.7 172.1,457.5 173.6,457.3 175.1,457.0 176.6,456.8 178.1,456.6 179.6,456.4 181.1,456.2 182.6,456.0 184.1,455.8 185.6,455.6 187.1,455.3 188.6,455.1 190.1,454.9 191.6,454.7 193.1,454.5 194.6,454.3 196.1,454.1 197.6,454.0 199.1,453.8 200.6,453.6 202.1,453.4 203.6,453.2 205.1,453.0 206.6,452.9 208.1,452.7 209.6,452.5 211.1,452.4 212.6,452.2 214.1,452.0 215.6,451.9 217.1,451.7 218.6,451.6 220.1,451.5 221.6,451.3 223.1,451.2 224.6,451.1 225.2,451.0" fill="none" stroke="#f05018" stroke-width="0.65"/><polyline points="26.6,510.6 28.1,510.4 29.6,510.2 31.1,509.9 32.6,509.7 34.1,509.4 35.6,509.2 37.1,508.9 38.6,508.6 40.1,508.3 41.6,508.0 43.1,507.6 44.6,507.3 46.1,506.9 47.6,506.5 49.1,506.1 50.6,505.6 52.1,505.2 53.6,504.7 55.1,504.3 56.6,503.8 58.1,503.3 59.6,502.7 61.1,502.2 62.6,501.6 64.1,501.1 65.6,500.5 67.1,499.9 68.6,499.3 70.1,498.7 71.6,498.0 73.1,497.4 74.6,496.7 76.1,495.9 77.6,495.2 79.1,494.4 80.6,493.6 82.1,492.8 83.6,492.0 85.1,491.2 86.6,490.4 88.1,489.5 89.6,488.6 91.1,487.7 92.6,486.8 94.1,485.9 95.6,484.9 97.1,484.0 98.6,483.0 100.1,482.0 101.6,481.0 103.1,480.0 104.6,479.0 106.1,478.0 107.6,476.7 109.1,475.4 110.6,473.9 112.1,472.7 113.6,471.6 115.1,470.7 116.6,470.1 118.1,469.6 119.6,469.1 121.1,468.6 122.6,468.2 124.1,467.9 125.6,467.5 127.1,467.2 128.6,466.9 130.1,466.6 131.6,466.4 133.1,466.2 134.6,465.9 136.1,465.6 137.6,465.3 139.1,465.0 140.6,464.6 142.1,464.3 143.6,463.8 145.1,463.4 146.6,463.0 148.1,462.6 149.6,462.2 151.1,461.8 152.6,461.3 154.1,460.9 155.6,460.4 157.1,460.0 158.6,459.7 160.1,459.3 161.6,459.1 163.1,458.8 164.6,458.6 166.1,458.3 167.6,458.1 169.1,457.9 170.6,457.7 172.1,457.5 173.6,457.3 175.1,457.0 176.6,456.8 178.1,456.6 179.6,456.4 181.1,456.2 182.6,456.0 184.1,455.8 185.6,455.6 187.1,455.3 188.6,455.1 190.1,454.9 191.6,454.7 193.1,454.5 194.6,454.3 196.1,454.1 197.6,454.0 199.1,453.8 200.6,453.6 202.1,453.4 203.6,453.2 205.1,453.0 206.6,452.9 208.1,452.7 209.6,452.5 211.1,452.4 212.6,452.2 214.1,452.0 215.6,451.9 217.1,451.7 218.6,451.6 220.1,451.5 221.6,451.3 223.1,451.2 224.6,451.1 225.2,451.0" fill="none" stroke="#e88018" stroke-width="0.65"/><polyline points="26.6,510.6 28.1,510.4 29.6,510.2 31.1,510.0 32.6,509.7 34.1,509.5 35.6,509.2 37.1,508.9 38.6,508.6 40.1,508.3 41.6,508.0 43.1,507.7 44.6,507.3 46.1,507.0 47.6,506.6 49.1,506.1 50.6,505.7 52.1,505.3 53.6,504.8 55.1,504.4 56.6,503.9 58.1,503.4 59.6,502.9 61.1,502.3 62.6,501.8 64.1,501.2 65.6,500.7 67.1,500.1 68.6,499.5 70.1,498.9 71.6,498.3 73.1,497.6 74.6,496.9 76.1,496.2 77.6,495.4 79.1,494.7 80.6,493.9 82.1,493.1 83.6,492.3 85.1,491.5 86.6,490.6 88.1,489.8 89.6,488.9 91.1,488.0 92.6,487.0 94.1,486.1 95.6,485.2 97.1,484.2 98.6,483.3 100.1,482.2 101.6,481.2 103.1,480.2 104.6,479.1 106.1,477.8 107.6,476.4 109.1,474.8 110.6,473.2 112.1,471.8 113.6,470.6 115.1,469.7 116.6,469.0 118.1,468.4 119.6,467.9 121.1,467.5 122.6,467.1 124.1,466.7 125.6,466.4 127.1,466.1 128.6,465.9 130.1,465.7 131.6,465.6 133.1,465.4 134.6,465.3 136.1,465.1 137.6,464.8 139.1,464.6 140.6,464.3 142.1,464.0 143.6,463.6 145.1,463.2 146.6,462.8 148.1,462.4 149.6,462.0 151.1,461.6 152.6,461.2 154.1,460.8 155.6,460.3 157.1,459.9 158.6,459.6 160.1,459.3 161.6,459.0 163.1,458.8 164.6,458.5 166.1,458.3 167.6,458.1 169.1,457.9 170.6,457.7 172.1,457.5 173.6,457.3 175.1,457.0 176.6,456.8 178.1,456.6 179.6,456.4 181.1,456.2 182.6,456.0 184.1,455.8 185.6,455.6 187.1,455.3 188.6,455.1 190.1,454.9 191.6,454.7 193.1,454.5 194.6,454.3 196.1,454.1 197.6,454.0 199.1,453.8 200.6,453.6 202.1,453.4 203.6,453.2 205.1,453.0 206.6,452.9 208.1,452.7 209.6,452.5 211.1,452.4 212.6,452.2 214.1,452.0 215.6,451.9 217.1,451.7 218.6,451.6 220.1,451.5 221.6,451.3 223.1,451.2 224.6,451.1 225.2,451.0" fill="none" stroke="#c8b818" stroke-width="0.65"/><polyline points="26.6,510.6 28.1,510.4 29.6,510.2 31.1,510.0 32.6,509.8 34.1,509.5 35.6,509.3 37.1,509.0 38.6,508.7 40.1,508.4 41.6,508.1 43.1,507.8 44.6,507.4 46.1,507.0 47.6,506.6 49.1,506.2 50.6,505.8 52.1,505.4 53.6,504.9 55.1,504.5 56.6,504.0 58.1,503.5 59.6,503.0 61.1,502.5 62.6,501.9 64.1,501.4 65.6,500.8 67.1,500.3 68.6,499.7 70.1,499.1 71.6,498.5 73.1,497.8 74.6,497.1 76.1,496.4 77.6,495.7 79.1,494.9 80.6,494.1 82.1,493.3 83.6,492.5 85.1,491.7 86.6,490.9 88.1,490.0 89.6,489.1 91.1,488.2 92.6,487.3 94.1,486.4 95.6,485.5 97.1,484.5 98.6,483.5 100.1,482.5 101.6,481.5 103.1,480.3 104.6,478.9 106.1,477.5 107.6,475.9 109.1,474.3 110.6,472.6 112.1,471.1 113.6,469.7 115.1,468.7 116.6,467.8 118.1,467.2 119.6,466.7 121.1,466.3 122.6,465.9 124.1,465.6 125.6,465.3 127.1,465.0 128.6,464.8 130.1,464.7 131.6,464.6 133.1,464.6 134.6,464.5 136.1,464.5 137.6,464.3 139.1,464.1 140.6,463.9 142.1,463.6 143.6,463.3 145.1,462.9 146.6,462.5 148.1,462.2 149.6,461.8 151.1,461.4 152.6,461.0 154.1,460.6 155.6,460.2 157.1,459.8 158.6,459.5 160.1,459.2 161.6,458.9 163.1,458.7 164.6,458.5 166.1,458.3 167.6,458.1 169.1,457.9 170.6,457.7 172.1,457.5 173.6,457.3 175.1,457.0 176.6,456.8 178.1,456.6 179.6,456.4 181.1,456.2 182.6,456.0 184.1,455.8 185.6,455.6 187.1,455.3 188.6,455.1 190.1,454.9 191.6,454.7 193.1,454.5 194.6,454.3 196.1,454.1 197.6,454.0 199.1,453.8 200.6,453.6 202.1,453.4 203.6,453.2 205.1,453.0 206.6,452.9 208.1,452.7 209.6,452.5 211.1,452.4 212.6,452.2 214.1,452.0 215.6,451.9 217.1,451.7 218.6,451.6 220.1,451.5 221.6,451.3 223.1,451.2 224.6,451.1 225.2,451.0" fill="none" stroke="#a0d820" stroke-width="0.65"/><polyline points="26.6,510.6 28.1,510.4 29.6,510.2 31.1,510.0 32.6,509.8 34.1,509.5 35.6,509.3 37.1,509.0 38.6,508.7 40.1,508.5 41.6,508.2 43.1,507.8 44.6,507.5 46.1,507.1 47.6,506.7 49.1,506.3 50.6,505.9 52.1,505.5 53.6,505.0 55.1,504.6 56.6,504.1 58.1,503.6 59.6,503.1 61.1,502.6 62.6,502.1 64.1,501.6 65.6,501.0 67.1,500.5 68.6,499.9 70.1,499.3 71.6,498.7 73.1,498.1 74.6,497.4 76.1,496.6 77.6,495.9 79.1,495.1 80.6,494.4 82.1,493.6 83.6,492.8 85.1,492.0 86.6,491.1 88.1,490.3 89.6,489.4 91.1,488.5 92.6,487.6 94.1,486.6 95.6,485.7 97.1,484.8 98.6,483.8 100.1,482.8 101.6,481.5 103.1,480.1 104.6,478.6 106.1,477.1 107.6,475.4 109.1,473.7 110.6,472.0 112.1,470.3 113.6,468.9 115.1,467.7 116.6,466.7 118.1,466.0 119.6,465.5 121.1,465.1 122.6,464.6 124.1,464.3 125.6,464.0 127.1,463.8 128.6,463.6 130.1,463.6 131.6,463.6 133.1,463.6 134.6,463.7 136.1,463.7 137.6,463.7 139.1,463.6 140.6,463.4 142.1,463.2 143.6,463.0 145.1,462.6 146.6,462.3 148.1,461.9 149.6,461.6 151.1,461.2 152.6,460.9 154.1,460.5 155.6,460.1 157.1,459.7 158.6,459.4 160.1,459.1 161.6,458.9 163.1,458.7 164.6,458.5 166.1,458.3 167.6,458.1 169.1,457.9 170.6,457.7 172.1,457.5 173.6,457.3 175.1,457.0 176.6,456.8 178.1,456.6 179.6,456.4 181.1,456.2 182.6,456.0 184.1,455.8 185.6,455.6 187.1,455.3 188.6,455.1 190.1,454.9 191.6,454.7 193.1,454.5 194.6,454.3 196.1,454.1 197.6,454.0 199.1,453.8 200.6,453.6 202.1,453.4 203.6,453.2 205.1,453.0 206.6,452.9 208.1,452.7 209.6,452.5 211.1,452.4 212.6,452.2 214.1,452.0 215.6,451.9 217.1,451.7 218.6,451.6 220.1,451.5 221.6,451.3 223.1,451.2 224.6,451.1 225.2,451.0" fill="none" stroke="#58d028" stroke-width="0.65"/><polyline points="26.6,510.6 28.1,510.4 29.6,510.3 31.1,510.0 32.6,509.8 34.1,509.6 35.6,509.3 37.1,509.1 38.6,508.8 40.1,508.5 41.6,508.2 43.1,507.9 44.6,507.5 46.1,507.2 47.6,506.8 49.1,506.4 50.6,506.0 52.1,505.6 53.6,505.1 55.1,504.7 56.6,504.2 58.1,503.8 59.6,503.3 61.1,502.8 62.6,502.2 64.1,501.7 65.6,501.2 67.1,500.7 68.6,500.1 70.1,499.5 71.6,498.9 73.1,498.3 74.6,497.6 76.1,496.9 77.6,496.1 79.1,495.4 80.6,494.6 82.1,493.8 83.6,493.0 85.1,492.2 86.6,491.4 88.1,490.5 89.6,489.6 91.1,488.7 92.6,487.8 94.1,486.9 95.6,486.0 97.1,485.0 98.6,484.0 100.1,482.8 101.6,481.4 103.1,479.8 104.6,478.2 106.1,476.5 107.6,474.9 109.1,473.2 110.6,471.5 112.1,469.7 113.6,468.1 115.1,466.8 116.6,465.7 118.1,464.8 119.6,464.3 121.1,463.8 122.6,463.4 124.1,463.0 125.6,462.7 127.1,462.6 128.6,462.4 130.1,462.4 131.6,462.4 133.1,462.6 134.6,462.7 136.1,462.9 137.6,463.0 139.1,463.0 140.6,462.9 142.1,462.8 143.6,462.6 145.1,462.3 146.6,462.0 148.1,461.7 149.6,461.4 151.1,461.0 152.6,460.7 154.1,460.3 155.6,460.0 157.1,459.6 158.6,459.3 160.1,459.1 161.6,458.8 163.1,458.6 164.6,458.4 166.1,458.3 167.6,458.1 169.1,457.9 170.6,457.7 172.1,457.5 173.6,457.3 175.1,457.0 176.6,456.8 178.1,456.6 179.6,456.4 181.1,456.2 182.6,456.0 184.1,455.8 185.6,455.6 187.1,455.3 188.6,455.1 190.1,454.9 191.6,454.7 193.1,454.5 194.6,454.3 196.1,454.1 197.6,454.0 199.1,453.8 200.6,453.6 202.1,453.4 203.6,453.2 205.1,453.0 206.6,452.9 208.1,452.7 209.6,452.5 211.1,452.4 212.6,452.2 214.1,452.0 215.6,451.9 217.1,451.7 218.6,451.6 220.1,451.5 221.6,451.3 223.1,451.2 224.6,451.1 225.2,451.0" fill="none" stroke="#18c828" stroke-width="0.65"/><polyline points="26.6,510.6 28.1,510.5 29.6,510.3 31.1,510.1 32.6,509.9 34.1,509.6 35.6,509.4 37.1,509.1 38.6,508.8 40.1,508.6 41.6,508.3 43.1,508.0 44.6,507.6 46.1,507.3 47.6,506.9 49.1,506.5 50.6,506.1 52.1,505.7 53.6,505.2 55.1,504.8 56.6,504.4 58.1,503.9 59.6,503.4 61.1,502.9 62.6,502.4 64.1,501.9 65.6,501.4 67.1,500.9 68.6,500.3 70.1,499.8 71.6,499.2 73.1,498.5 74.6,497.8 76.1,497.1 77.6,496.4 79.1,495.6 80.6,494.9 82.1,494.1 83.6,493.3 85.1,492.5 86.6,491.6 88.1,490.8 89.6,489.9 91.1,489.0 92.6,488.1 94.1,487.2 95.6,486.2 97.1,485.3 98.6,484.2 100.1,482.7 101.6,481.1 103.1,479.4 104.6,477.7 106.1,476.0 107.6,474.4 109.1,472.7 110.6,470.9 112.1,469.1 113.6,467.4 115.1,465.9 116.6,464.7 118.1,463.7 119.6,463.0 121.1,462.6 122.6,462.1 124.1,461.7 125.6,461.4 127.1,461.2 128.6,461.1 130.1,461.1 131.6,461.2 133.1,461.4 134.6,461.6 136.1,461.9 137.6,462.2 139.1,462.3 140.6,462.3 142.1,462.3 143.6,462.2 145.1,462.0 146.6,461.7 148.1,461.4 149.6,461.1 151.1,460.8 152.6,460.5 154.1,460.2 155.6,459.8 157.1,459.5 158.6,459.2 160.1,459.0 161.6,458.8 163.1,458.6 164.6,458.4 166.1,458.2 167.6,458.1 169.1,457.9 170.6,457.7 172.1,457.5 173.6,457.3 175.1,457.0 176.6,456.8 178.1,456.6 179.6,456.4 181.1,456.2 182.6,456.0 184.1,455.8 185.6,455.6 187.1,455.3 188.6,455.1 190.1,454.9 191.6,454.7 193.1,454.5 194.6,454.3 196.1,454.1 197.6,454.0 199.1,453.8 200.6,453.6 202.1,453.4 203.6,453.2 205.1,453.0 206.6,452.9 208.1,452.7 209.6,452.5 211.1,452.4 212.6,452.2 214.1,452.0 215.6,451.9 217.1,451.7 218.6,451.6 220.1,451.5 221.6,451.3 223.1,451.2 224.6,451.1 225.2,451.0" fill="none" stroke="#10b860" stroke-width="0.65"/><polyline points="26.6,510.7 28.1,510.5 29.6,510.3 31.1,510.1 32.6,509.9 34.1,509.7 35.6,509.4 37.1,509.2 38.6,508.9 40.1,508.6 41.6,508.3 43.1,508.0 44.6,507.7 46.1,507.3 47.6,507.0 49.1,506.6 50.6,506.2 52.1,505.8 53.6,505.3 55.1,504.9 56.6,504.5 58.1,504.0 59.6,503.5 61.1,503.0 62.6,502.5 64.1,502.0 65.6,501.6 67.1,501.0 68.6,500.5 70.1,500.0 71.6,499.4 73.1,498.8 74.6,498.1 76.1,497.4 77.6,496.6 79.1,495.9 80.6,495.1 82.1,494.3 83.6,493.5 85.1,492.7 86.6,491.9 88.1,491.0 89.6,490.1 91.1,489.3 92.6,488.4 94.1,487.4 95.6,486.5 97.1,485.4 98.6,484.1 100.1,482.4 101.6,480.6 103.1,478.8 104.6,477.2 106.1,475.5 107.6,473.8 109.1,472.1 110.6,470.3 112.1,468.6 113.6,466.8 115.1,465.1 116.6,463.7 118.1,462.6 119.6,461.8 121.1,461.3 122.6,460.8 124.1,460.4 125.6,460.1 127.1,459.9 128.6,459.8 130.1,459.8 131.6,459.9 133.1,460.1 134.6,460.5 136.1,460.8 137.6,461.2 139.1,461.6 140.6,461.7 142.1,461.7 143.6,461.7 145.1,461.6 146.6,461.4 148.1,461.1 149.6,460.9 151.1,460.6 152.6,460.3 154.1,460.0 155.6,459.7 157.1,459.4 158.6,459.1 160.1,458.9 161.6,458.7 163.1,458.5 164.6,458.4 166.1,458.2 167.6,458.1 169.1,457.9 170.6,457.7 172.1,457.5 173.6,457.3 175.1,457.0 176.6,456.8 178.1,456.6 179.6,456.4 181.1,456.2 182.6,456.0 184.1,455.8 185.6,455.6 187.1,455.3 188.6,455.1 190.1,454.9 191.6,454.7 193.1,454.5 194.6,454.3 196.1,454.1 197.6,454.0 199.1,453.8 200.6,453.6 202.1,453.4 203.6,453.2 205.1,453.0 206.6,452.9 208.1,452.7 209.6,452.5 211.1,452.4 212.6,452.2 214.1,452.0 215.6,451.9 217.1,451.7 218.6,451.6 220.1,451.5 221.6,451.3 223.1,451.2 224.6,451.1 225.2,451.0" fill="none" stroke="#10c090" stroke-width="0.65"/><polyline points="26.6,510.7 28.1,510.5 29.6,510.3 31.1,510.1 32.6,509.9 34.1,509.7 35.6,509.5 37.1,509.2 38.6,508.9 40.1,508.7 41.6,508.4 43.1,508.1 44.6,507.8 46.1,507.4 47.6,507.0 49.1,506.7 50.6,506.3 52.1,505.9 53.6,505.4 55.1,505.0 56.6,504.6 58.1,504.1 59.6,503.7 61.1,503.2 62.6,502.7 64.1,502.2 65.6,501.7 67.1,501.2 68.6,500.7 70.1,500.2 71.6,499.6 73.1,499.0 74.6,498.3 76.1,497.6 77.6,496.9 79.1,496.1 80.6,495.3 82.1,494.6 83.6,493.8 85.1,492.9 86.6,492.1 88.1,491.3 89.6,490.4 91.1,489.5 92.6,488.6 94.1,487.7 95.6,486.6 97.1,485.4 98.6,483.8 100.1,481.9 101.6,480.0 103.1,478.3 104.6,476.6 106.1,475.0 107.6,473.3 109.1,471.6 110.6,469.8 112.1,468.0 113.6,466.2 115.1,464.4 116.6,462.8 118.1,461.5 119.6,460.6 121.1,460.0 122.6,459.5 124.1,459.1 125.6,458.7 127.1,458.5 128.6,458.4 130.1,458.4 131.6,458.5 133.1,458.8 134.6,459.2 136.1,459.7 137.6,460.2 139.1,460.7 140.6,461.0 142.1,461.1 143.6,461.2 145.1,461.2 146.6,461.0 148.1,460.8 149.6,460.6 151.1,460.3 152.6,460.1 154.1,459.8 155.6,459.5 157.1,459.2 158.6,459.0 160.1,458.8 161.6,458.6 163.1,458.5 164.6,458.3 166.1,458.2 167.6,458.0 169.1,457.9 170.6,457.7 172.1,457.5 173.6,457.3 175.1,457.0 176.6,456.8 178.1,456.6 179.6,456.4 181.1,456.2 182.6,456.0 184.1,455.8 185.6,455.6 187.1,455.3 188.6,455.1 190.1,454.9 191.6,454.7 193.1,454.5 194.6,454.3 196.1,454.1 197.6,454.0 199.1,453.8 200.6,453.6 202.1,453.4 203.6,453.2 205.1,453.0 206.6,452.9 208.1,452.7 209.6,452.5 211.1,452.4 212.6,452.2 214.1,452.0 215.6,451.9 217.1,451.7 218.6,451.6 220.1,451.5 221.6,451.3 223.1,451.2 224.6,451.1 225.2,451.0" fill="none" stroke="#10c0c8" stroke-width="0.65"/><polyline points="26.6,510.7 28.1,510.5 29.6,510.4 31.1,510.2 32.6,510.0 34.1,509.7 35.6,509.5 37.1,509.3 38.6,509.0 40.1,508.7 41.6,508.5 43.1,508.1 44.6,507.8 46.1,507.5 47.6,507.1 49.1,506.7 50.6,506.4 52.1,506.0 53.6,505.5 55.1,505.1 56.6,504.7 58.1,504.3 59.6,503.8 61.1,503.3 62.6,502.8 64.1,502.4 65.6,501.9 67.1,501.4 68.6,500.9 70.1,500.4 71.6,499.8 73.1,499.2 74.6,498.6 76.1,497.8 77.6,497.1 79.1,496.4 80.6,495.6 82.1,494.8 83.6,494.0 85.1,493.2 86.6,492.4 88.1,491.5 89.6,490.7 91.1,489.8 92.6,488.9 94.1,487.8 95.6,486.6 97.1,485.1 98.6,483.3 100.1,481.3 101.6,479.5 103.1,477.8 104.6,476.1 106.1,474.5 107.6,472.8 109.1,471.0 110.6,469.2 112.1,467.4 113.6,465.6 115.1,463.8 116.6,462.0 118.1,460.5 119.6,459.4 121.1,458.7 122.6,458.2 124.1,457.8 125.6,457.4 127.1,457.1 128.6,456.9 130.1,457.0 131.6,457.1 133.1,457.4 134.6,457.9 136.1,458.4 137.6,459.0 139.1,459.7 140.6,460.2 142.1,460.5 143.6,460.6 145.1,460.7 146.6,460.7 148.1,460.5 149.6,460.3 151.1,460.1 152.6,459.8 154.1,459.6 155.6,459.3 157.1,459.1 158.6,458.9 160.1,458.7 161.6,458.5 163.1,458.4 164.6,458.3 166.1,458.1 167.6,458.0 169.1,457.9 170.6,457.7 172.1,457.5 173.6,457.3 175.1,457.0 176.6,456.8 178.1,456.6 179.6,456.4 181.1,456.2 182.6,456.0 184.1,455.8 185.6,455.6 187.1,455.3 188.6,455.1 190.1,454.9 191.6,454.7 193.1,454.5 194.6,454.3 196.1,454.1 197.6,454.0 199.1,453.8 200.6,453.6 202.1,453.4 203.6,453.2 205.1,453.0 206.6,452.9 208.1,452.7 209.6,452.5 211.1,452.4 212.6,452.2 214.1,452.0 215.6,451.9 217.1,451.7 218.6,451.6 220.1,451.5 221.6,451.3 223.1,451.2 224.6,451.1 225.2,451.0" fill="none" stroke="#20a0e8" stroke-width="0.65"/><polyline points="26.6,510.7 28.1,510.6 29.6,510.4 31.1,510.2 32.6,510.0 34.1,509.8 35.6,509.5 37.1,509.3 38.6,509.0 40.1,508.8 41.6,508.5 43.1,508.2 44.6,507.9 46.1,507.6 47.6,507.2 49.1,506.8 50.6,506.4 52.1,506.1 53.6,505.6 55.1,505.2 56.6,504.8 58.1,504.4 59.6,503.9 61.1,503.4 62.6,503.0 64.1,502.5 65.6,502.1 67.1,501.6 68.6,501.1 70.1,500.6 71.6,500.1 73.1,499.5 74.6,498.8 76.1,498.1 77.6,497.3 79.1,496.6 80.6,495.8 82.1,495.0 83.6,494.2 85.1,493.4 86.6,492.6 88.1,491.8 89.6,490.9 91.1,490.0 92.6,489.0 94.1,487.8 95.6,486.4 97.1,484.7 98.6,482.6 100.1,480.7 101.6,478.9 103.1,477.3 104.6,475.6 106.1,473.9 107.6,472.2 109.1,470.5 110.6,468.7 112.1,466.9 113.6,465.0 115.1,463.2 116.6,461.3 118.1,459.6 119.6,458.3 121.1,457.5 122.6,456.9 124.1,456.4 125.6,456.1 127.1,455.7 128.6,455.5 130.1,455.5 131.6,455.7 133.1,455.9 134.6,456.4 136.1,457.1 137.6,457.8 139.1,458.6 140.6,459.3 142.1,459.7 143.6,460.0 145.1,460.2 146.6,460.3 148.1,460.1 149.6,460.0 151.1,459.8 152.6,459.6 154.1,459.4 155.6,459.1 157.1,458.9 158.6,458.8 160.1,458.6 161.6,458.5 163.1,458.3 164.6,458.2 166.1,458.1 167.6,458.0 169.1,457.9 170.6,457.7 172.1,457.5 173.6,457.3 175.1,457.0 176.6,456.8 178.1,456.6 179.6,456.4 181.1,456.2 182.6,456.0 184.1,455.8 185.6,455.6 187.1,455.3 188.6,455.1 190.1,454.9 191.6,454.7 193.1,454.5 194.6,454.3 196.1,454.1 197.6,454.0 199.1,453.8 200.6,453.6 202.1,453.4 203.6,453.2 205.1,453.0 206.6,452.9 208.1,452.7 209.6,452.5 211.1,452.4 212.6,452.2 214.1,452.0 215.6,451.9 217.1,451.7 218.6,451.6 220.1,451.5 221.6,451.3 223.1,451.2 224.6,451.1 225.2,451.0" fill="none" stroke="#2078f0" stroke-width="0.65"/><polyline points="26.6,510.7 28.1,510.6 29.6,510.4 31.1,510.2 32.6,510.0 34.1,509.8 35.6,509.6 37.1,509.3 38.6,509.1 40.1,508.8 41.6,508.6 43.1,508.3 44.6,508.0 46.1,507.6 47.6,507.3 49.1,506.9 50.6,506.5 52.1,506.1 53.6,505.8 55.1,505.3 56.6,504.9 58.1,504.5 59.6,504.0 61.1,503.6 62.6,503.1 64.1,502.7 65.6,502.3 67.1,501.8 68.6,501.3 70.1,500.8 71.6,500.3 73.1,499.7 74.6,499.0 76.1,498.3 77.6,497.6 79.1,496.8 80.6,496.1 82.1,495.3 83.6,494.5 85.1,493.7 86.6,492.9 88.1,492.0 89.6,491.1 91.1,490.1 92.6,488.9 94.1,487.6 95.6,486.0 97.1,484.0 98.6,482.0 100.1,480.1 101.6,478.4 103.1,476.7 104.6,475.1 106.1,473.4 107.6,471.7 109.1,469.9 110.6,468.1 112.1,466.3 113.6,464.5 115.1,462.6 116.6,460.6 118.1,458.8 119.6,457.3 121.1,456.3 122.6,455.6 124.1,455.1 125.6,454.7 127.1,454.3 128.6,454.1 130.1,454.0 131.6,454.2 133.1,454.5 134.6,454.9 136.1,455.6 137.6,456.5 139.1,457.4 140.6,458.3 142.1,458.9 143.6,459.3 145.1,459.6 146.6,459.8 148.1,459.8 149.6,459.6 151.1,459.5 152.6,459.3 154.1,459.1 155.6,459.0 157.1,458.8 158.6,458.6 160.1,458.5 161.6,458.4 163.1,458.3 164.6,458.2 166.1,458.1 167.6,458.0 169.1,457.9 170.6,457.7 172.1,457.5 173.6,457.3 175.1,457.0 176.6,456.8 178.1,456.6 179.6,456.4 181.1,456.2 182.6,456.0 184.1,455.8 185.6,455.6 187.1,455.3 188.6,455.1 190.1,454.9 191.6,454.7 193.1,454.5 194.6,454.3 196.1,454.1 197.6,454.0 199.1,453.8 200.6,453.6 202.1,453.4 203.6,453.2 205.1,453.0 206.6,452.9 208.1,452.7 209.6,452.5 211.1,452.4 212.6,452.2 214.1,452.0 215.6,451.9 217.1,451.7 218.6,451.6 220.1,451.5 221.6,451.3 223.1,451.2 224.6,451.1 225.2,451.0" fill="none" stroke="#3050f0" stroke-width="0.65"/><polyline points="26.6,510.7 28.1,510.6 29.6,510.4 31.1,510.2 32.6,510.1 34.1,509.8 35.6,509.6 37.1,509.4 38.6,509.1 40.1,508.9 41.6,508.6 43.1,508.3 44.6,508.0 46.1,507.7 47.6,507.4 49.1,507.0 50.6,506.6 52.1,506.2 53.6,505.9 55.1,505.5 56.6,505.0 58.1,504.6 59.6,504.2 61.1,503.7 62.6,503.3 64.1,502.9 65.6,502.4 67.1,502.0 68.6,501.5 70.1,501.1 71.6,500.5 73.1,499.9 74.6,499.3 76.1,498.6 77.6,497.8 79.1,497.1 80.6,496.3 82.1,495.5 83.6,494.7 85.1,493.9 86.6,493.1 88.1,492.2 89.6,491.2 91.1,490.1 92.6,488.7 94.1,487.2 95.6,485.4 97.1,483.4 98.6,481.4 100.1,479.6 101.6,477.9 103.1,476.2 104.6,474.6 106.1,472.9 107.6,471.1 109.1,469.3 110.6,467.5 112.1,465.7 113.6,463.9 115.1,462.0 116.6,460.0 118.1,458.0 119.6,456.5 121.1,455.3 122.6,454.5 124.1,453.8 125.6,453.3 127.1,453.0 128.6,452.7 130.1,452.5 131.6,452.6 133.1,453.0 134.6,453.4 136.1,454.1 137.6,455.1 139.1,456.0 140.6,457.1 142.1,458.0 143.6,458.6 145.1,459.0 146.6,459.3 148.1,459.4 149.6,459.3 151.1,459.2 152.6,459.1 154.1,458.9 155.6,458.7 157.1,458.6 158.6,458.5 160.1,458.4 161.6,458.3 163.1,458.2 164.6,458.1 166.1,458.0 167.6,458.0 169.1,457.9 170.6,457.7 172.1,457.5 173.6,457.3 175.1,457.0 176.6,456.8 178.1,456.6 179.6,456.4 181.1,456.2 182.6,456.0 184.1,455.8 185.6,455.6 187.1,455.3 188.6,455.1 190.1,454.9 191.6,454.7 193.1,454.5 194.6,454.3 196.1,454.1 197.6,454.0 199.1,453.8 200.6,453.6 202.1,453.4 203.6,453.2 205.1,453.0 206.6,452.9 208.1,452.7 209.6,452.5 211.1,452.4 212.6,452.2 214.1,452.0 215.6,451.9 217.1,451.7 218.6,451.6 220.1,451.5 221.6,451.3 223.1,451.2 224.6,451.1 225.2,451.0" fill="none" stroke="#4838e8" stroke-width="0.65"/><polyline points="26.6,510.8 28.1,510.6 29.6,510.5 31.1,510.3 32.6,510.1 34.1,509.9 35.6,509.7 37.1,509.4 38.6,509.2 40.1,509.0 41.6,508.7 43.1,508.4 44.6,508.1 46.1,507.8 47.6,507.4 49.1,507.1 50.6,506.7 52.1,506.3 53.6,506.0 55.1,505.6 56.6,505.2 58.1,504.7 59.6,504.3 61.1,503.9 62.6,503.4 64.1,503.0 65.6,502.6 67.1,502.2 68.6,501.7 70.1,501.3 71.6,500.7 73.1,500.2 74.6,499.5 76.1,498.8 77.6,498.1 79.1,497.3 80.6,496.6 82.1,495.8 83.6,495.0 85.1,494.2 86.6,493.3 88.1,492.3 89.6,491.2 91.1,489.9 92.6,488.4 94.1,486.7 95.6,484.8 97.1,482.7 98.6,480.8 100.1,479.0 101.6,477.3 103.1,475.7 104.6,474.0 106.1,472.3 107.6,470.6 109.1,468.8 110.6,467.0 112.1,465.2 113.6,463.3 115.1,461.4 116.6,459.4 118.1,457.4 119.6,455.7 121.1,454.4 122.6,453.4 124.1,452.7 125.6,452.0 127.1,451.6 128.6,451.3 130.1,451.0 131.6,451.1 133.1,451.4 134.6,451.9 136.1,452.5 137.6,453.6 139.1,454.7 140.6,455.9 142.1,457.0 143.6,457.8 145.1,458.3 146.6,458.8 148.1,458.9 149.6,458.9 151.1,458.9 152.6,458.8 154.1,458.7 155.6,458.5 157.1,458.4 158.6,458.3 160.1,458.3 161.6,458.2 163.1,458.1 164.6,458.1 166.1,458.0 167.6,457.9 169.1,457.9 170.6,457.7 172.1,457.5 173.6,457.3 175.1,457.0 176.6,456.8 178.1,456.6 179.6,456.4 181.1,456.2 182.6,456.0 184.1,455.8 185.6,455.6 187.1,455.3 188.6,455.1 190.1,454.9 191.6,454.7 193.1,454.5 194.6,454.3 196.1,454.1 197.6,454.0 199.1,453.8 200.6,453.6 202.1,453.4 203.6,453.2 205.1,453.0 206.6,452.9 208.1,452.7 209.6,452.5 211.1,452.4 212.6,452.2 214.1,452.0 215.6,451.9 217.1,451.7 218.6,451.6 220.1,451.5 221.6,451.3 223.1,451.2 224.6,451.1 225.2,451.0" fill="none" stroke="#5830e0" stroke-width="0.65"/><polyline points="26.6,510.8 28.1,510.6 29.6,510.5 31.1,510.3 32.6,510.1 34.1,509.9 35.6,509.7 37.1,509.5 38.6,509.3 40.1,509.0 41.6,508.8 43.1,508.5 44.6,508.2 46.1,507.9 47.6,507.5 49.1,507.2 50.6,506.8 52.1,506.4 53.6,506.1 55.1,505.7 56.6,505.3 58.1,504.9 59.6,504.4 61.1,504.0 62.6,503.6 64.1,503.2 65.6,502.8 67.1,502.4 68.6,501.9 70.1,501.5 71.6,501.0 73.1,500.4 74.6,499.7 76.1,499.0 77.6,498.3 79.1,497.6 80.6,496.8 82.1,496.0 83.6,495.2 85.1,494.3 86.6,493.4 88.1,492.3 89.6,491.0 91.1,489.5 92.6,487.9 94.1,486.1 95.6,484.1 97.1,482.1 98.6,480.2 100.1,478.5 101.6,476.8 103.1,475.2 104.6,473.5 106.1,471.8 107.6,470.0 109.1,468.2 110.6,466.4 112.1,464.6 113.6,462.7 115.1,460.7 116.6,458.7 118.1,456.8 119.6,455.1 121.1,453.7 122.6,452.5 124.1,451.6 125.6,450.8 127.1,450.2 128.6,449.9 130.1,449.6 131.6,449.5 133.1,449.8 134.6,450.3 136.1,450.9 137.6,452.0 139.1,453.2 140.6,454.5 142.1,455.9 143.6,456.9 145.1,457.6 146.6,458.2 148.1,458.5 149.6,458.6 151.1,458.5 152.6,458.5 154.1,458.4 155.6,458.3 157.1,458.2 158.6,458.2 160.1,458.1 161.6,458.1 163.1,458.1 164.6,458.0 166.1,458.0 167.6,457.9 169.1,457.9 170.6,457.7 172.1,457.5 173.6,457.3 175.1,457.0 176.6,456.8 178.1,456.6 179.6,456.4 181.1,456.2 182.6,456.0 184.1,455.8 185.6,455.6 187.1,455.3 188.6,455.1 190.1,454.9 191.6,454.7 193.1,454.5 194.6,454.3 196.1,454.1 197.6,454.0 199.1,453.8 200.6,453.6 202.1,453.4 203.6,453.2 205.1,453.0 206.6,452.9 208.1,452.7 209.6,452.5 211.1,452.4 212.6,452.2 214.1,452.0 215.6,451.9 217.1,451.7 218.6,451.6 220.1,451.5 221.6,451.3 223.1,451.2 224.6,451.1 225.2,451.0" fill="none" stroke="#6828d8" stroke-width="0.65"/><polyline points="26.6,510.8 28.1,510.7 29.6,510.5 31.1,510.3 32.6,510.2 34.1,510.0 35.6,509.7 37.1,509.5 38.6,509.3 40.1,509.1 41.6,508.8 43.1,508.5 44.6,508.2 46.1,507.9 47.6,507.6 49.1,507.3 50.6,506.9 52.1,506.5 53.6,506.2 55.1,505.8 56.6,505.4 58.1,505.0 59.6,504.6 61.1,504.1 62.6,503.7 64.1,503.3 65.6,503.0 67.1,502.6 68.6,502.1 70.1,501.7 71.6,501.2 73.1,500.6 74.6,500.0 76.1,499.3 77.6,498.5 79.1,497.8 80.6,497.0 82.1,496.3 83.6,495.4 85.1,494.4 86.6,493.3 88.1,492.1 89.6,490.6 91.1,489.0 92.6,487.3 94.1,485.5 95.6,483.5 97.1,481.5 98.6,479.7 100.1,478.0 101.6,476.3 103.1,474.7 104.6,473.0 106.1,471.2 107.6,469.4 109.1,467.6 110.6,465.8 112.1,464.0 113.6,462.1 115.1,460.1 116.6,458.1 118.1,456.2 119.6,454.6 121.1,453.1 122.6,451.8 124.1,450.7 125.6,449.8 127.1,449.0 128.6,448.5 130.1,448.2 131.6,448.0 133.1,448.2 134.6,448.7 136.1,449.4 137.6,450.3 139.1,451.7 140.6,453.1 142.1,454.6 143.6,455.9 145.1,456.8 146.6,457.5 148.1,458.0 149.6,458.2 151.1,458.2 152.6,458.2 154.1,458.1 155.6,458.1 157.1,458.0 158.6,458.0 160.1,458.0 161.6,458.0 163.1,458.0 164.6,458.0 166.1,457.9 167.6,457.9 169.1,457.8 170.6,457.7 172.1,457.5 173.6,457.3 175.1,457.0 176.6,456.8 178.1,456.6 179.6,456.4 181.1,456.2 182.6,456.0 184.1,455.8 185.6,455.6 187.1,455.3 188.6,455.1 190.1,454.9 191.6,454.7 193.1,454.5 194.6,454.3 196.1,454.1 197.6,454.0 199.1,453.8 200.6,453.6 202.1,453.4 203.6,453.2 205.1,453.0 206.6,452.9 208.1,452.7 209.6,452.5 211.1,452.4 212.6,452.2 214.1,452.0 215.6,451.9 217.1,451.7 218.6,451.6 220.1,451.5 221.6,451.3 223.1,451.2 224.6,451.1 225.2,451.0" fill="none" stroke="#6a38d8" stroke-width="1.05"/><line x1="112" y1="465.51" x2="150" y2="460.57" stroke="#222" stroke-width="0.9" stroke-dasharray="2.2 1.4"/></g>
<text x="32.00" y="468.75" font-size="9" font-weight="bold" fill="#111">C<tspan font-size="5.4" dy="1.0" style="letter-spacing:0.12px">p,melt</tspan></text>
<text x="199.00" y="489.20" font-size="9" font-weight="bold" fill="#111">C<tspan font-size="5.4" dy="1.0" style="letter-spacing:0.12px">p,glass</tspan></text>
<rect x="141.50" y="497.50" width="79.10" height="12.90" fill="#fff" stroke="#555" stroke-width="0.9"/>
<line x1="180.00" y1="497.50" x2="180.00" y2="510.40" stroke="#555" stroke-width="0.9"/>
<text x="160.75" y="506.90" text-anchor="middle" font-size="8.3" fill="#262626">Endo up</text>
<text x="200.30" y="506.90" text-anchor="middle" font-size="8.3" fill="#262626">0.05 &#956;J/K</text>
<rect x="26.5" y="372.5" width="199.0" height="147.0" fill="none" stroke="#505050" stroke-width="1"/><line x1="32.50" y1="519.5" x2="32.50" y2="516.9" stroke="#505050" stroke-width="0.9"/><line x1="32.50" y1="372.5" x2="32.50" y2="375.1" stroke="#505050" stroke-width="0.9"/><line x1="55.50" y1="519.5" x2="55.50" y2="517.9" stroke="#505050" stroke-width="0.9"/><line x1="55.50" y1="372.5" x2="55.50" y2="374.1" stroke="#505050" stroke-width="0.9"/><line x1="78.50" y1="519.5" x2="78.50" y2="516.9" stroke="#505050" stroke-width="0.9"/><line x1="78.50" y1="372.5" x2="78.50" y2="375.1" stroke="#505050" stroke-width="0.9"/><line x1="100.50" y1="519.5" x2="100.50" y2="517.9" stroke="#505050" stroke-width="0.9"/><line x1="100.50" y1="372.5" x2="100.50" y2="374.1" stroke="#505050" stroke-width="0.9"/><line x1="123.50" y1="519.5" x2="123.50" y2="516.9" stroke="#505050" stroke-width="0.9"/><line x1="123.50" y1="372.5" x2="123.50" y2="375.1" stroke="#505050" stroke-width="0.9"/><line x1="145.50" y1="519.5" x2="145.50" y2="517.9" stroke="#505050" stroke-width="0.9"/><line x1="145.50" y1="372.5" x2="145.50" y2="374.1" stroke="#505050" stroke-width="0.9"/><line x1="168.50" y1="519.5" x2="168.50" y2="516.9" stroke="#505050" stroke-width="0.9"/><line x1="168.50" y1="372.5" x2="168.50" y2="375.1" stroke="#505050" stroke-width="0.9"/><line x1="190.50" y1="519.5" x2="190.50" y2="517.9" stroke="#505050" stroke-width="0.9"/><line x1="190.50" y1="372.5" x2="190.50" y2="374.1" stroke="#505050" stroke-width="0.9"/><line x1="213.50" y1="519.5" x2="213.50" y2="516.9" stroke="#505050" stroke-width="0.9"/><line x1="213.50" y1="372.5" x2="213.50" y2="375.1" stroke="#505050" stroke-width="0.9"/>
<text x="250.0" y="377.1" font-size="13.8" fill="#262626">(f)</text>
<text transform="translate(261.60,446.25) rotate(-90)" text-anchor="middle" font-size="9.9" fill="#262626">Heat Capacity (&#956;J/K)</text>
<text x="373.10" y="544.60" text-anchor="middle" font-size="10" fill="#262626">Temperature (K)</text>
<text x="280.00" y="529.90" text-anchor="middle" font-size="8.5" fill="#262626">200</text>
<text x="325.15" y="529.90" text-anchor="middle" font-size="8.5" fill="#262626">250</text>
<text x="370.30" y="529.90" text-anchor="middle" font-size="8.5" fill="#262626">300</text>
<text x="415.45" y="529.90" text-anchor="middle" font-size="8.5" fill="#262626">350</text>
<text x="460.60" y="529.90" text-anchor="middle" font-size="8.5" fill="#262626">400</text>
<clipPath id="cf"><rect x="274.1" y="372.5" width="198.0" height="147.5"/></clipPath>
<line x1="283.40" y1="384.50" x2="298.40" y2="384.50" stroke="#e81840" stroke-width="0.9" opacity="0.8"/>
<text x="299.70" y="387.00" font-size="6.4" fill="#333" style="stroke-width:0.16px;letter-spacing:0.1px">0.001 s</text>
<line x1="283.40" y1="392.53" x2="298.40" y2="392.53" stroke="#f02020" stroke-width="0.9" opacity="0.8"/>
<text x="299.70" y="395.03" font-size="6.4" fill="#333" style="stroke-width:0.16px;letter-spacing:0.1px">0.005 s</text>
<line x1="283.40" y1="400.56" x2="298.40" y2="400.56" stroke="#f05018" stroke-width="0.9" opacity="0.8"/>
<text x="299.70" y="403.06" font-size="6.4" fill="#333" style="stroke-width:0.16px;letter-spacing:0.1px">0.01 s</text>
<line x1="283.40" y1="408.59" x2="298.40" y2="408.59" stroke="#e88018" stroke-width="0.9" opacity="0.8"/>
<text x="299.70" y="411.09" font-size="6.4" fill="#333" style="stroke-width:0.16px;letter-spacing:0.1px">0.05 s</text>
<line x1="283.40" y1="416.62" x2="298.40" y2="416.62" stroke="#c8b818" stroke-width="0.9" opacity="0.8"/>
<text x="299.70" y="419.12" font-size="6.4" fill="#333" style="stroke-width:0.16px;letter-spacing:0.1px">0.1 s</text>
<line x1="283.40" y1="424.65" x2="298.40" y2="424.65" stroke="#a0d820" stroke-width="0.9" opacity="0.8"/>
<text x="299.70" y="427.15" font-size="6.4" fill="#333" style="stroke-width:0.16px;letter-spacing:0.1px">0.2 s</text>
<line x1="283.40" y1="432.68" x2="298.40" y2="432.68" stroke="#58d028" stroke-width="0.9" opacity="0.8"/>
<text x="299.70" y="435.18" font-size="6.4" fill="#333" style="stroke-width:0.16px;letter-spacing:0.1px">0.5 s</text>
<line x1="283.40" y1="440.71" x2="298.40" y2="440.71" stroke="#18c828" stroke-width="0.9" opacity="0.8"/>
<text x="299.70" y="443.21" font-size="6.4" fill="#333" style="stroke-width:0.16px;letter-spacing:0.1px">1 s</text>
<line x1="283.40" y1="448.74" x2="298.40" y2="448.74" stroke="#10b860" stroke-width="0.9" opacity="0.8"/>
<text x="299.70" y="451.24" font-size="6.4" fill="#333" style="stroke-width:0.16px;letter-spacing:0.1px">2 s</text>
<line x1="323.80" y1="384.50" x2="338.80" y2="384.50" stroke="#10c090" stroke-width="0.9" opacity="0.8"/>
<text x="340.10" y="387.00" font-size="6.4" fill="#333" style="stroke-width:0.16px;letter-spacing:0.1px">5 s</text>
<line x1="323.80" y1="392.53" x2="338.80" y2="392.53" stroke="#10c0c8" stroke-width="0.9" opacity="0.8"/>
<text x="340.10" y="395.03" font-size="6.4" fill="#333" style="stroke-width:0.16px;letter-spacing:0.1px">10 s</text>
<line x1="323.80" y1="400.56" x2="338.80" y2="400.56" stroke="#20a0e8" stroke-width="0.9" opacity="0.8"/>
<text x="340.10" y="403.06" font-size="6.4" fill="#333" style="stroke-width:0.16px;letter-spacing:0.1px">20 s</text>
<line x1="323.80" y1="408.59" x2="338.80" y2="408.59" stroke="#2078f0" stroke-width="0.9" opacity="0.8"/>
<text x="340.10" y="411.09" font-size="6.4" fill="#333" style="stroke-width:0.16px;letter-spacing:0.1px">50 s</text>
<line x1="323.80" y1="416.62" x2="338.80" y2="416.62" stroke="#3050f0" stroke-width="0.9" opacity="0.8"/>
<text x="340.10" y="419.12" font-size="6.4" fill="#333" style="stroke-width:0.16px;letter-spacing:0.1px">100 s</text>
<line x1="323.80" y1="424.65" x2="338.80" y2="424.65" stroke="#4838e8" stroke-width="0.9" opacity="0.8"/>
<text x="340.10" y="427.15" font-size="6.4" fill="#333" style="stroke-width:0.16px;letter-spacing:0.1px">200 s</text>
<line x1="323.80" y1="432.68" x2="338.80" y2="432.68" stroke="#5830e0" stroke-width="0.9" opacity="0.8"/>
<text x="340.10" y="435.18" font-size="6.4" fill="#333" style="stroke-width:0.16px;letter-spacing:0.1px">500 s</text>
<line x1="323.80" y1="440.71" x2="338.80" y2="440.71" stroke="#6828d8" stroke-width="0.9" opacity="0.8"/>
<text x="340.10" y="443.21" font-size="6.4" fill="#333" style="stroke-width:0.16px;letter-spacing:0.1px">1000 s</text>
<line x1="323.80" y1="448.74" x2="338.80" y2="448.74" stroke="#6a38d8" stroke-width="0.9" opacity="0.8"/>
<text x="340.10" y="451.24" font-size="6.4" fill="#333" style="stroke-width:0.16px;letter-spacing:0.1px">2000 s</text>
<text x="410.20" y="411.90" font-size="9.0" fill="#262626"><tspan font-style="italic" font-size="9.3">T</tspan><tspan font-style="italic" font-size="9.6" dy="2.4" dx="-0.2">ag</tspan><tspan dy="-2.4" dx="0.6"> = 253 K</tspan></text>
<g clip-path="url(#cf)"><line x1="274.1" y1="474.5" x2="472.1" y2="451.7" stroke="#222" stroke-width="1.0"/><line x1="274.1" y1="510.0" x2="472.1" y2="467.3" stroke="#222" stroke-width="1.0"/><polyline points="274.1,511.3 275.6,511.0 277.1,510.7 278.6,510.4 280.1,510.1 281.6,509.7 283.1,509.4 284.6,509.1 286.1,508.8 287.6,508.4 289.1,508.1 290.6,507.8 292.1,507.4 293.6,507.1 295.1,506.7 296.6,506.3 298.1,505.9 299.6,505.4 301.1,505.0 302.6,504.5 304.1,504.0 305.6,503.5 307.1,502.9 308.6,502.3 310.1,501.7 311.6,501.0 313.1,500.3 314.6,499.6 316.1,498.9 317.6,498.1 319.1,497.3 320.6,496.5 322.1,495.7 323.6,494.9 325.1,494.0 326.6,493.2 328.1,492.4 329.6,491.5 331.1,490.7 332.6,489.8 334.1,488.9 335.6,488.0 337.1,487.1 338.6,486.2 340.1,485.3 341.6,484.4 343.1,483.4 344.6,482.5 346.1,481.6 347.6,480.7 349.1,479.8 350.6,479.0 352.1,478.3 353.6,477.6 355.1,477.0 356.6,476.4 358.1,475.8 359.6,475.2 361.1,474.6 362.6,473.9 364.1,473.2 365.6,472.5 367.1,471.8 368.6,471.1 370.1,470.3 371.6,469.6 373.1,469.1 374.6,468.6 376.1,468.2 377.6,467.8 379.1,467.4 380.6,467.0 382.1,466.6 383.6,466.2 385.1,465.7 386.6,465.2 388.1,464.8 389.6,464.3 391.1,463.9 392.6,463.4 394.1,463.0 395.6,462.6 397.1,462.2 398.6,461.7 400.1,461.3 401.6,460.9 403.1,460.6 404.6,460.2 406.1,459.8 407.6,459.5 409.1,459.2 410.6,458.8 412.1,458.5 413.6,458.2 415.1,457.9 416.6,457.7 418.1,457.5 419.6,457.3 421.1,457.1 422.6,457.0 424.1,456.8 425.6,456.7 427.1,456.5 428.6,456.4 430.1,456.3 431.6,456.2 433.1,456.0 434.6,455.9 436.1,455.8 437.6,455.6 439.1,455.5 440.6,455.3 442.1,455.2 443.6,455.0 445.1,454.8 446.6,454.7 448.1,454.5 449.6,454.3 451.1,454.2 452.6,454.0 454.1,453.8 455.6,453.6 457.1,453.4 458.6,453.3 460.1,453.1 461.6,452.9 463.1,452.7 464.6,452.5 466.1,452.3 467.6,452.1 469.1,451.9 470.6,451.7 472.1,451.5 472.1,451.5" fill="none" stroke="#e81840" stroke-width="0.65"/><polyline points="274.1,510.9 275.6,510.6 277.1,510.3 278.6,510.0 280.1,509.7 281.6,509.4 283.1,509.0 284.6,508.7 286.1,508.4 287.6,508.1 289.1,507.7 290.6,507.4 292.1,507.0 293.6,506.7 295.1,506.3 296.6,505.9 298.1,505.5 299.6,505.1 301.1,504.6 302.6,504.1 304.1,503.7 305.6,503.1 307.1,502.6 308.6,501.9 310.1,501.3 311.6,500.6 313.1,500.0 314.6,499.3 316.1,498.6 317.6,497.8 319.1,497.0 320.6,496.2 322.1,495.4 323.6,494.6 325.1,493.8 326.6,492.9 328.1,492.1 329.6,491.3 331.1,490.4 332.6,489.5 334.1,488.7 335.6,487.8 337.1,486.9 338.6,486.0 340.1,485.0 341.6,484.1 343.1,483.2 344.6,482.3 346.1,481.4 347.6,480.5 349.1,479.6 350.6,478.8 352.1,478.0 353.6,477.4 355.1,476.8 356.6,476.2 358.1,475.6 359.6,475.0 361.1,474.4 362.6,473.7 364.1,472.9 365.6,472.1 367.1,471.3 368.6,470.4 370.1,469.6 371.6,468.8 373.1,468.3 374.6,467.8 376.1,467.4 377.6,467.0 379.1,466.6 380.6,466.3 382.1,465.9 383.6,465.5 385.1,465.1 386.6,464.7 388.1,464.2 389.6,463.8 391.1,463.4 392.6,463.1 394.1,462.7 395.6,462.3 397.1,461.9 398.6,461.5 400.1,461.1 401.6,460.8 403.1,460.4 404.6,460.1 406.1,459.8 407.6,459.4 409.1,459.1 410.6,458.8 412.1,458.5 413.6,458.2 415.1,457.9 416.6,457.7 418.1,457.5 419.6,457.3 421.1,457.1 422.6,457.0 424.1,456.8 425.6,456.7 427.1,456.5 428.6,456.4 430.1,456.3 431.6,456.2 433.1,456.0 434.6,455.9 436.1,455.8 437.6,455.6 439.1,455.5 440.6,455.3 442.1,455.2 443.6,455.0 445.1,454.8 446.6,454.7 448.1,454.5 449.6,454.3 451.1,454.2 452.6,454.0 454.1,453.8 455.6,453.6 457.1,453.4 458.6,453.3 460.1,453.1 461.6,452.9 463.1,452.7 464.6,452.5 466.1,452.3 467.6,452.1 469.1,451.9 470.6,451.7 472.1,451.5 472.1,451.5" fill="none" stroke="#f02020" stroke-width="0.65"/><polyline points="274.1,510.6 275.6,510.3 277.1,510.0 278.6,509.7 280.1,509.4 281.6,509.1 283.1,508.8 284.6,508.5 286.1,508.1 287.6,507.8 289.1,507.5 290.6,507.2 292.1,506.8 293.6,506.5 295.1,506.1 296.6,505.7 298.1,505.3 299.6,504.9 301.1,504.4 302.6,503.9 304.1,503.4 305.6,502.9 307.1,502.4 308.6,501.7 310.1,501.1 311.6,500.5 313.1,499.8 314.6,499.1 316.1,498.4 317.6,497.7 319.1,496.9 320.6,496.1 322.1,495.3 323.6,494.5 325.1,493.7 326.6,492.8 328.1,492.0 329.6,491.2 331.1,490.3 332.6,489.5 334.1,488.6 335.6,487.7 337.1,486.8 338.6,485.9 340.1,485.0 341.6,484.1 343.1,483.1 344.6,482.3 346.1,481.4 347.6,480.5 349.1,479.6 350.6,478.8 352.1,478.0 353.6,477.4 355.1,476.8 356.6,476.2 358.1,475.6 359.6,475.0 361.1,474.3 362.6,473.5 364.1,472.7 365.6,471.7 367.1,470.8 368.6,469.7 370.1,468.8 371.6,468.0 373.1,467.3 374.6,466.9 376.1,466.5 377.6,466.1 379.1,465.7 380.6,465.4 382.1,465.1 383.6,464.7 385.1,464.3 386.6,463.9 388.1,463.6 389.6,463.2 391.1,462.9 392.6,462.6 394.1,462.2 395.6,461.9 397.1,461.6 398.6,461.2 400.1,460.9 401.6,460.6 403.1,460.3 404.6,460.0 406.1,459.7 407.6,459.4 409.1,459.1 410.6,458.8 412.1,458.5 413.6,458.2 415.1,457.9 416.6,457.7 418.1,457.5 419.6,457.3 421.1,457.1 422.6,457.0 424.1,456.8 425.6,456.7 427.1,456.5 428.6,456.4 430.1,456.3 431.6,456.2 433.1,456.0 434.6,455.9 436.1,455.8 437.6,455.6 439.1,455.5 440.6,455.3 442.1,455.2 443.6,455.0 445.1,454.8 446.6,454.7 448.1,454.5 449.6,454.3 451.1,454.2 452.6,454.0 454.1,453.8 455.6,453.6 457.1,453.4 458.6,453.3 460.1,453.1 461.6,452.9 463.1,452.7 464.6,452.5 466.1,452.3 467.6,452.1 469.1,451.9 470.6,451.7 472.1,451.5 472.1,451.5" fill="none" stroke="#f05018" stroke-width="0.65"/><polyline points="274.1,510.6 275.6,510.3 277.1,510.0 278.6,509.7 280.1,509.4 281.6,509.1 283.1,508.7 284.6,508.4 286.1,508.1 287.6,507.8 289.1,507.5 290.6,507.1 292.1,506.8 293.6,506.5 295.1,506.1 296.6,505.7 298.1,505.3 299.6,504.9 301.1,504.4 302.6,503.9 304.1,503.5 305.6,502.9 307.1,502.4 308.6,501.8 310.1,501.1 311.6,500.5 313.1,499.9 314.6,499.2 316.1,498.5 317.6,497.8 319.1,497.0 320.6,496.3 322.1,495.4 323.6,494.6 325.1,493.8 326.6,493.0 328.1,492.2 329.6,491.3 331.1,490.5 332.6,489.6 334.1,488.8 335.6,487.9 337.1,487.0 338.6,486.1 340.1,485.2 341.6,484.2 343.1,483.3 344.6,482.4 346.1,481.6 347.6,480.7 349.1,479.8 350.6,479.0 352.1,478.2 353.6,477.6 355.1,477.0 356.6,476.4 358.1,475.8 359.6,475.2 361.1,474.4 362.6,473.5 364.1,472.4 365.6,471.4 367.1,470.2 368.6,469.1 370.1,468.0 371.6,467.1 373.1,466.4 374.6,465.8 376.1,465.4 377.6,465.1 379.1,464.8 380.6,464.5 382.1,464.1 383.6,463.8 385.1,463.5 386.6,463.1 388.1,462.8 389.6,462.5 391.1,462.3 392.6,462.0 394.1,461.7 395.6,461.5 397.1,461.2 398.6,460.9 400.1,460.6 401.6,460.4 403.1,460.1 404.6,459.8 406.1,459.6 407.6,459.3 409.1,459.0 410.6,458.7 412.1,458.4 413.6,458.2 415.1,457.9 416.6,457.7 418.1,457.5 419.6,457.3 421.1,457.1 422.6,457.0 424.1,456.8 425.6,456.7 427.1,456.5 428.6,456.4 430.1,456.3 431.6,456.2 433.1,456.0 434.6,455.9 436.1,455.8 437.6,455.6 439.1,455.5 440.6,455.3 442.1,455.2 443.6,455.0 445.1,454.8 446.6,454.7 448.1,454.5 449.6,454.3 451.1,454.2 452.6,454.0 454.1,453.8 455.6,453.6 457.1,453.4 458.6,453.3 460.1,453.1 461.6,452.9 463.1,452.7 464.6,452.5 466.1,452.3 467.6,452.1 469.1,451.9 470.6,451.7 472.1,451.5 472.1,451.5" fill="none" stroke="#e88018" stroke-width="0.65"/><polyline points="274.1,510.6 275.6,510.3 277.1,510.0 278.6,509.7 280.1,509.4 281.6,509.1 283.1,508.8 284.6,508.5 286.1,508.2 287.6,507.8 289.1,507.5 290.6,507.2 292.1,506.9 293.6,506.5 295.1,506.1 296.6,505.8 298.1,505.4 299.6,504.9 301.1,504.5 302.6,504.0 304.1,503.5 305.6,503.0 307.1,502.5 308.6,501.9 310.1,501.2 311.6,500.6 313.1,500.0 314.6,499.3 316.1,498.7 317.6,498.0 319.1,497.2 320.6,496.4 322.1,495.6 323.6,494.8 325.1,494.0 326.6,493.2 328.1,492.4 329.6,491.5 331.1,490.7 332.6,489.8 334.1,489.0 335.6,488.1 337.1,487.2 338.6,486.3 340.1,485.4 341.6,484.5 343.1,483.6 344.6,482.7 346.1,481.8 347.6,480.9 349.1,480.0 350.6,479.2 352.1,478.5 353.6,477.8 355.1,477.2 356.6,476.7 358.1,476.1 359.6,475.4 361.1,474.4 362.6,473.4 364.1,472.2 365.6,471.0 367.1,469.6 368.6,468.4 370.1,467.3 371.6,466.3 373.1,465.4 374.6,464.8 376.1,464.4 377.6,464.0 379.1,463.7 380.6,463.4 382.1,463.2 383.6,462.9 385.1,462.6 386.6,462.3 388.1,462.0 389.6,461.8 391.1,461.6 392.6,461.4 394.1,461.2 395.6,461.0 397.1,460.7 398.6,460.5 400.1,460.3 401.6,460.1 403.1,459.9 404.6,459.7 406.1,459.4 407.6,459.2 409.1,458.9 410.6,458.7 412.1,458.4 413.6,458.2 415.1,457.9 416.6,457.7 418.1,457.5 419.6,457.3 421.1,457.1 422.6,457.0 424.1,456.8 425.6,456.7 427.1,456.5 428.6,456.4 430.1,456.3 431.6,456.2 433.1,456.0 434.6,455.9 436.1,455.8 437.6,455.6 439.1,455.5 440.6,455.3 442.1,455.2 443.6,455.0 445.1,454.8 446.6,454.7 448.1,454.5 449.6,454.3 451.1,454.2 452.6,454.0 454.1,453.8 455.6,453.6 457.1,453.4 458.6,453.3 460.1,453.1 461.6,452.9 463.1,452.7 464.6,452.5 466.1,452.3 467.6,452.1 469.1,451.9 470.6,451.7 472.1,451.5 472.1,451.5" fill="none" stroke="#c8b818" stroke-width="0.65"/><polyline points="274.1,510.6 275.6,510.3 277.1,510.0 278.6,509.7 280.1,509.4 281.6,509.1 283.1,508.8 284.6,508.5 286.1,508.2 287.6,507.9 289.1,507.6 290.6,507.3 292.1,506.9 293.6,506.6 295.1,506.2 296.6,505.8 298.1,505.4 299.6,505.0 301.1,504.6 302.6,504.1 304.1,503.6 305.6,503.1 307.1,502.5 308.6,501.9 310.1,501.3 311.6,500.7 313.1,500.1 314.6,499.5 316.1,498.8 317.6,498.1 319.1,497.4 320.6,496.6 322.1,495.8 323.6,495.0 325.1,494.2 326.6,493.4 328.1,492.6 329.6,491.7 331.1,490.9 332.6,490.0 334.1,489.2 335.6,488.3 337.1,487.4 338.6,486.5 340.1,485.6 341.6,484.7 343.1,483.8 344.6,482.9 346.1,482.0 347.6,481.1 349.1,480.3 350.6,479.5 352.1,478.7 353.6,478.1 355.1,477.5 356.6,476.9 358.1,476.3 359.6,475.4 361.1,474.3 362.6,473.1 364.1,471.9 365.6,470.5 367.1,469.2 368.6,467.8 370.1,466.6 371.6,465.5 373.1,464.6 374.6,463.8 376.1,463.3 377.6,462.9 379.1,462.7 380.6,462.4 382.1,462.1 383.6,461.9 385.1,461.6 386.6,461.3 388.1,461.1 389.6,460.9 391.1,460.8 392.6,460.7 394.1,460.5 395.6,460.4 397.1,460.3 398.6,460.1 400.1,460.0 401.6,459.8 403.1,459.6 404.6,459.5 406.1,459.3 407.6,459.1 409.1,458.8 410.6,458.6 412.1,458.4 413.6,458.1 415.1,457.9 416.6,457.7 418.1,457.5 419.6,457.3 421.1,457.1 422.6,457.0 424.1,456.8 425.6,456.7 427.1,456.5 428.6,456.4 430.1,456.3 431.6,456.2 433.1,456.0 434.6,455.9 436.1,455.8 437.6,455.6 439.1,455.5 440.6,455.3 442.1,455.2 443.6,455.0 445.1,454.8 446.6,454.7 448.1,454.5 449.6,454.3 451.1,454.2 452.6,454.0 454.1,453.8 455.6,453.6 457.1,453.4 458.6,453.3 460.1,453.1 461.6,452.9 463.1,452.7 464.6,452.5 466.1,452.3 467.6,452.1 469.1,451.9 470.6,451.7 472.1,451.5 472.1,451.5" fill="none" stroke="#a0d820" stroke-width="0.65"/><polyline points="274.1,510.6 275.6,510.3 277.1,510.0 278.6,509.8 280.1,509.5 281.6,509.2 283.1,508.9 284.6,508.6 286.1,508.3 287.6,508.0 289.1,507.6 290.6,507.3 292.1,507.0 293.6,506.7 295.1,506.3 296.6,505.9 298.1,505.5 299.6,505.1 301.1,504.6 302.6,504.2 304.1,503.7 305.6,503.2 307.1,502.6 308.6,502.0 310.1,501.4 311.6,500.8 313.1,500.2 314.6,499.6 316.1,499.0 317.6,498.3 319.1,497.6 320.6,496.8 322.1,496.0 323.6,495.2 325.1,494.4 326.6,493.6 328.1,492.8 329.6,491.9 331.1,491.1 332.6,490.2 334.1,489.4 335.6,488.5 337.1,487.6 338.6,486.7 340.1,485.8 341.6,484.9 343.1,484.0 344.6,483.1 346.1,482.3 347.6,481.4 349.1,480.5 350.6,479.7 352.1,479.0 353.6,478.3 355.1,477.8 356.6,477.2 358.1,476.3 359.6,475.3 361.1,474.1 362.6,472.8 364.1,471.5 365.6,470.1 367.1,468.7 368.6,467.3 370.1,466.0 371.6,464.8 373.1,463.7 374.6,462.8 376.1,462.2 377.6,461.8 379.1,461.5 380.6,461.3 382.1,461.0 383.6,460.8 385.1,460.6 386.6,460.3 388.1,460.1 389.6,460.0 391.1,460.0 392.6,459.9 394.1,459.9 395.6,459.8 397.1,459.7 398.6,459.7 400.1,459.6 401.6,459.5 403.1,459.4 404.6,459.3 406.1,459.1 407.6,459.0 409.1,458.8 410.6,458.5 412.1,458.3 413.6,458.1 415.1,457.9 416.6,457.7 418.1,457.5 419.6,457.3 421.1,457.1 422.6,457.0 424.1,456.8 425.6,456.7 427.1,456.5 428.6,456.4 430.1,456.3 431.6,456.2 433.1,456.0 434.6,455.9 436.1,455.8 437.6,455.6 439.1,455.5 440.6,455.3 442.1,455.2 443.6,455.0 445.1,454.8 446.6,454.7 448.1,454.5 449.6,454.3 451.1,454.2 452.6,454.0 454.1,453.8 455.6,453.6 457.1,453.4 458.6,453.3 460.1,453.1 461.6,452.9 463.1,452.7 464.6,452.5 466.1,452.3 467.6,452.1 469.1,451.9 470.6,451.7 472.1,451.5 472.1,451.5" fill="none" stroke="#58d028" stroke-width="0.65"/><polyline points="274.1,510.6 275.6,510.4 277.1,510.1 278.6,509.8 280.1,509.5 281.6,509.2 283.1,508.9 284.6,508.6 286.1,508.3 287.6,508.0 289.1,507.7 290.6,507.4 292.1,507.1 293.6,506.7 295.1,506.4 296.6,506.0 298.1,505.6 299.6,505.2 301.1,504.7 302.6,504.3 304.1,503.8 305.6,503.3 307.1,502.7 308.6,502.1 310.1,501.5 311.6,500.9 313.1,500.3 314.6,499.7 316.1,499.1 317.6,498.4 319.1,497.7 320.6,497.0 322.1,496.2 323.6,495.4 325.1,494.6 326.6,493.8 328.1,493.0 329.6,492.1 331.1,491.3 332.6,490.4 334.1,489.6 335.6,488.7 337.1,487.8 338.6,486.9 340.1,486.0 341.6,485.1 343.1,484.2 344.6,483.4 346.1,482.5 347.6,481.6 349.1,480.8 350.6,480.0 352.1,479.2 353.6,478.6 355.1,478.0 356.6,477.2 358.1,476.2 359.6,475.0 361.1,473.7 362.6,472.4 364.1,471.1 365.6,469.7 367.1,468.3 368.6,466.9 370.1,465.4 371.6,464.1 373.1,462.9 374.6,461.9 376.1,461.1 377.6,460.6 379.1,460.3 380.6,460.1 382.1,459.9 383.6,459.7 385.1,459.5 386.6,459.3 388.1,459.1 389.6,459.1 391.1,459.1 392.6,459.1 394.1,459.1 395.6,459.1 397.1,459.2 398.6,459.2 400.1,459.2 401.6,459.1 403.1,459.1 404.6,459.0 406.1,459.0 407.6,458.9 409.1,458.7 410.6,458.5 412.1,458.3 413.6,458.1 415.1,457.9 416.6,457.7 418.1,457.5 419.6,457.3 421.1,457.1 422.6,457.0 424.1,456.8 425.6,456.7 427.1,456.5 428.6,456.4 430.1,456.3 431.6,456.2 433.1,456.0 434.6,455.9 436.1,455.8 437.6,455.6 439.1,455.5 440.6,455.3 442.1,455.2 443.6,455.0 445.1,454.8 446.6,454.7 448.1,454.5 449.6,454.3 451.1,454.2 452.6,454.0 454.1,453.8 455.6,453.6 457.1,453.4 458.6,453.3 460.1,453.1 461.6,452.9 463.1,452.7 464.6,452.5 466.1,452.3 467.6,452.1 469.1,451.9 470.6,451.7 472.1,451.5 472.1,451.5" fill="none" stroke="#18c828" stroke-width="0.65"/><polyline points="274.1,510.6 275.6,510.4 277.1,510.1 278.6,509.8 280.1,509.5 281.6,509.3 283.1,509.0 284.6,508.7 286.1,508.4 287.6,508.1 289.1,507.8 290.6,507.4 292.1,507.1 293.6,506.8 295.1,506.4 296.6,506.0 298.1,505.6 299.6,505.2 301.1,504.8 302.6,504.3 304.1,503.8 305.6,503.3 307.1,502.8 308.6,502.2 310.1,501.6 311.6,501.0 313.1,500.5 314.6,499.9 316.1,499.3 317.6,498.6 319.1,497.9 320.6,497.1 322.1,496.4 323.6,495.6 325.1,494.8 326.6,494.0 328.1,493.2 329.6,492.3 331.1,491.5 332.6,490.6 334.1,489.8 335.6,488.9 337.1,488.0 338.6,487.2 340.1,486.3 341.6,485.4 343.1,484.5 344.6,483.6 346.1,482.7 347.6,481.9 349.1,481.0 350.6,480.2 352.1,479.5 353.6,478.8 355.1,478.1 356.6,477.2 358.1,476.0 359.6,474.7 361.1,473.3 362.6,472.0 364.1,470.6 365.6,469.2 367.1,467.8 368.6,466.4 370.1,465.0 371.6,463.5 373.1,462.2 374.6,461.1 376.1,460.2 377.6,459.5 379.1,459.1 380.6,458.9 382.1,458.7 383.6,458.5 385.1,458.4 386.6,458.2 388.1,458.1 389.6,458.0 391.1,458.1 392.6,458.2 394.1,458.4 395.6,458.4 397.1,458.5 398.6,458.6 400.1,458.7 401.6,458.8 403.1,458.8 404.6,458.8 406.1,458.8 407.6,458.7 409.1,458.6 410.6,458.4 412.1,458.2 413.6,458.1 415.1,457.9 416.6,457.7 418.1,457.5 419.6,457.3 421.1,457.1 422.6,457.0 424.1,456.8 425.6,456.7 427.1,456.5 428.6,456.4 430.1,456.3 431.6,456.2 433.1,456.0 434.6,455.9 436.1,455.8 437.6,455.6 439.1,455.5 440.6,455.3 442.1,455.2 443.6,455.0 445.1,454.8 446.6,454.7 448.1,454.5 449.6,454.3 451.1,454.2 452.6,454.0 454.1,453.8 455.6,453.6 457.1,453.4 458.6,453.3 460.1,453.1 461.6,452.9 463.1,452.7 464.6,452.5 466.1,452.3 467.6,452.1 469.1,451.9 470.6,451.7 472.1,451.5 472.1,451.5" fill="none" stroke="#10b860" stroke-width="0.65"/><polyline points="274.1,510.7 275.6,510.4 277.1,510.1 278.6,509.9 280.1,509.6 281.6,509.3 283.1,509.0 284.6,508.7 286.1,508.4 287.6,508.1 289.1,507.8 290.6,507.5 292.1,507.2 293.6,506.9 295.1,506.5 296.6,506.1 298.1,505.7 299.6,505.3 301.1,504.9 302.6,504.4 304.1,503.9 305.6,503.4 307.1,502.9 308.6,502.3 310.1,501.7 311.6,501.1 313.1,500.6 314.6,500.0 316.1,499.4 317.6,498.8 319.1,498.1 320.6,497.3 322.1,496.5 323.6,495.8 325.1,495.0 326.6,494.2 328.1,493.4 329.6,492.5 331.1,491.7 332.6,490.8 334.1,490.0 335.6,489.1 337.1,488.3 338.6,487.4 340.1,486.5 341.6,485.6 343.1,484.7 344.6,483.8 346.1,483.0 347.6,482.1 349.1,481.3 350.6,480.5 352.1,479.7 353.6,479.0 355.1,478.1 356.6,477.0 358.1,475.6 359.6,474.2 361.1,472.9 362.6,471.6 364.1,470.2 365.6,468.8 367.1,467.4 368.6,466.0 370.1,464.5 371.6,463.0 373.1,461.6 374.6,460.3 376.1,459.3 377.6,458.5 379.1,457.9 380.6,457.7 382.1,457.5 383.6,457.4 385.1,457.2 386.6,457.1 388.1,457.0 389.6,457.0 391.1,457.1 392.6,457.3 394.1,457.5 395.6,457.7 397.1,457.9 398.6,458.0 400.1,458.2 401.6,458.4 403.1,458.4 404.6,458.5 406.1,458.6 407.6,458.6 409.1,458.5 410.6,458.3 412.1,458.2 413.6,458.0 415.1,457.9 416.6,457.7 418.1,457.5 419.6,457.3 421.1,457.1 422.6,457.0 424.1,456.8 425.6,456.7 427.1,456.5 428.6,456.4 430.1,456.3 431.6,456.2 433.1,456.0 434.6,455.9 436.1,455.8 437.6,455.6 439.1,455.5 440.6,455.3 442.1,455.2 443.6,455.0 445.1,454.8 446.6,454.7 448.1,454.5 449.6,454.3 451.1,454.2 452.6,454.0 454.1,453.8 455.6,453.6 457.1,453.4 458.6,453.3 460.1,453.1 461.6,452.9 463.1,452.7 464.6,452.5 466.1,452.3 467.6,452.1 469.1,451.9 470.6,451.7 472.1,451.5 472.1,451.5" fill="none" stroke="#10c090" stroke-width="0.65"/><polyline points="274.1,510.7 275.6,510.4 277.1,510.2 278.6,509.9 280.1,509.6 281.6,509.3 283.1,509.0 284.6,508.8 286.1,508.5 287.6,508.2 289.1,507.9 290.6,507.6 292.1,507.3 293.6,506.9 295.1,506.6 296.6,506.2 298.1,505.8 299.6,505.4 301.1,504.9 302.6,504.5 304.1,504.0 305.6,503.5 307.1,503.0 308.6,502.4 310.1,501.8 311.6,501.2 313.1,500.7 314.6,500.1 316.1,499.6 317.6,498.9 319.1,498.2 320.6,497.5 322.1,496.7 323.6,495.9 325.1,495.2 326.6,494.4 328.1,493.5 329.6,492.7 331.1,491.9 332.6,491.1 334.1,490.2 335.6,489.3 337.1,488.5 338.6,487.6 340.1,486.7 341.6,485.8 343.1,484.9 344.6,484.1 346.1,483.2 347.6,482.4 349.1,481.5 350.6,480.7 352.1,479.9 353.6,479.0 355.1,478.0 356.6,476.7 358.1,475.2 359.6,473.8 361.1,472.5 362.6,471.1 364.1,469.8 365.6,468.4 367.1,466.9 368.6,465.5 370.1,464.0 371.6,462.5 373.1,461.0 374.6,459.7 376.1,458.5 377.6,457.6 379.1,456.8 380.6,456.4 382.1,456.3 383.6,456.1 385.1,456.0 386.6,455.9 388.1,455.8 389.6,455.9 391.1,456.0 392.6,456.3 394.1,456.6 395.6,456.9 397.1,457.1 398.6,457.4 400.1,457.7 401.6,457.9 403.1,458.1 404.6,458.2 406.1,458.4 407.6,458.4 409.1,458.4 410.6,458.2 412.1,458.1 413.6,458.0 415.1,457.8 416.6,457.7 418.1,457.5 419.6,457.3 421.1,457.1 422.6,457.0 424.1,456.8 425.6,456.7 427.1,456.5 428.6,456.4 430.1,456.3 431.6,456.2 433.1,456.0 434.6,455.9 436.1,455.8 437.6,455.6 439.1,455.5 440.6,455.3 442.1,455.2 443.6,455.0 445.1,454.8 446.6,454.7 448.1,454.5 449.6,454.3 451.1,454.2 452.6,454.0 454.1,453.8 455.6,453.6 457.1,453.4 458.6,453.3 460.1,453.1 461.6,452.9 463.1,452.7 464.6,452.5 466.1,452.3 467.6,452.1 469.1,451.9 470.6,451.7 472.1,451.5 472.1,451.5" fill="none" stroke="#10c0c8" stroke-width="0.65"/><polyline points="274.1,510.7 275.6,510.4 277.1,510.2 278.6,509.9 280.1,509.6 281.6,509.4 283.1,509.1 284.6,508.8 286.1,508.5 287.6,508.2 289.1,507.9 290.6,507.6 292.1,507.3 293.6,507.0 295.1,506.6 296.6,506.3 298.1,505.9 299.6,505.4 301.1,505.0 302.6,504.6 304.1,504.1 305.6,503.6 307.1,503.0 308.6,502.5 310.1,501.9 311.6,501.4 313.1,500.8 314.6,500.3 316.1,499.7 317.6,499.1 319.1,498.4 320.6,497.7 322.1,496.9 323.6,496.1 325.1,495.3 326.6,494.6 328.1,493.7 329.6,492.9 331.1,492.1 332.6,491.3 334.1,490.4 335.6,489.6 337.1,488.7 338.6,487.8 340.1,486.9 341.6,486.0 343.1,485.2 344.6,484.3 346.1,483.5 347.6,482.6 349.1,481.7 350.6,480.8 352.1,479.9 353.6,478.9 355.1,477.7 356.6,476.2 358.1,474.7 359.6,473.4 361.1,472.0 362.6,470.7 364.1,469.3 365.6,467.9 367.1,466.5 368.6,465.0 370.1,463.5 371.6,462.0 373.1,460.5 374.6,459.1 376.1,457.8 377.6,456.7 379.1,455.8 380.6,455.2 382.1,455.0 383.6,454.9 385.1,454.8 386.6,454.7 388.1,454.7 389.6,454.7 391.1,454.9 392.6,455.2 394.1,455.6 395.6,456.0 397.1,456.4 398.6,456.7 400.1,457.1 401.6,457.4 403.1,457.7 404.6,457.9 406.1,458.1 407.6,458.2 409.1,458.2 410.6,458.2 412.1,458.1 413.6,458.0 415.1,457.8 416.6,457.7 418.1,457.5 419.6,457.3 421.1,457.1 422.6,457.0 424.1,456.8 425.6,456.7 427.1,456.5 428.6,456.4 430.1,456.3 431.6,456.2 433.1,456.0 434.6,455.9 436.1,455.8 437.6,455.6 439.1,455.5 440.6,455.3 442.1,455.2 443.6,455.0 445.1,454.8 446.6,454.7 448.1,454.5 449.6,454.3 451.1,454.2 452.6,454.0 454.1,453.8 455.6,453.6 457.1,453.4 458.6,453.3 460.1,453.1 461.6,452.9 463.1,452.7 464.6,452.5 466.1,452.3 467.6,452.1 469.1,451.9 470.6,451.7 472.1,451.5 472.1,451.5" fill="none" stroke="#20a0e8" stroke-width="0.65"/><polyline points="274.1,510.7 275.6,510.5 277.1,510.2 278.6,509.9 280.1,509.7 281.6,509.4 283.1,509.1 284.6,508.9 286.1,508.6 287.6,508.3 289.1,508.0 290.6,507.7 292.1,507.4 293.6,507.0 295.1,506.7 296.6,506.3 298.1,505.9 299.6,505.5 301.1,505.1 302.6,504.6 304.1,504.2 305.6,503.7 307.1,503.1 308.6,502.6 310.1,502.0 311.6,501.5 313.1,500.9 314.6,500.4 316.1,499.9 317.6,499.3 319.1,498.6 320.6,497.9 322.1,497.1 323.6,496.3 325.1,495.5 326.6,494.7 328.1,493.9 329.6,493.1 331.1,492.3 332.6,491.5 334.1,490.6 335.6,489.8 337.1,488.9 338.6,488.0 340.1,487.1 341.6,486.3 343.1,485.4 344.6,484.5 346.1,483.7 347.6,482.8 349.1,481.8 350.6,480.9 352.1,479.9 353.6,478.7 355.1,477.3 356.6,475.7 358.1,474.3 359.6,473.0 361.1,471.6 362.6,470.3 364.1,468.9 365.6,467.5 367.1,466.0 368.6,464.6 370.1,463.1 371.6,461.6 373.1,460.1 374.6,458.6 376.1,457.1 377.6,455.9 379.1,454.9 380.6,454.2 382.1,453.7 383.6,453.6 385.1,453.5 386.6,453.4 388.1,453.4 389.6,453.5 391.1,453.7 392.6,454.1 394.1,454.6 395.6,455.1 397.1,455.5 398.6,456.0 400.1,456.5 401.6,456.9 403.1,457.3 404.6,457.6 406.1,457.8 407.6,458.1 409.1,458.1 410.6,458.1 412.1,458.0 413.6,457.9 415.1,457.8 416.6,457.7 418.1,457.5 419.6,457.3 421.1,457.1 422.6,457.0 424.1,456.8 425.6,456.7 427.1,456.5 428.6,456.4 430.1,456.3 431.6,456.2 433.1,456.0 434.6,455.9 436.1,455.8 437.6,455.6 439.1,455.5 440.6,455.3 442.1,455.2 443.6,455.0 445.1,454.8 446.6,454.7 448.1,454.5 449.6,454.3 451.1,454.2 452.6,454.0 454.1,453.8 455.6,453.6 457.1,453.4 458.6,453.3 460.1,453.1 461.6,452.9 463.1,452.7 464.6,452.5 466.1,452.3 467.6,452.1 469.1,451.9 470.6,451.7 472.1,451.5 472.1,451.5" fill="none" stroke="#2078f0" stroke-width="0.65"/><polyline points="274.1,510.7 275.6,510.5 277.1,510.2 278.6,510.0 280.1,509.7 281.6,509.4 283.1,509.2 284.6,508.9 286.1,508.6 287.6,508.3 289.1,508.0 290.6,507.7 292.1,507.4 293.6,507.1 295.1,506.8 296.6,506.4 298.1,506.0 299.6,505.6 301.1,505.2 302.6,504.7 304.1,504.2 305.6,503.7 307.1,503.2 308.6,502.7 310.1,502.1 311.6,501.6 313.1,501.1 314.6,500.5 316.1,500.0 317.6,499.4 319.1,498.8 320.6,498.0 322.1,497.3 323.6,496.5 325.1,495.7 326.6,494.9 328.1,494.1 329.6,493.3 331.1,492.5 332.6,491.7 334.1,490.8 335.6,490.0 337.1,489.1 338.6,488.2 340.1,487.4 341.6,486.5 343.1,485.6 344.6,484.7 346.1,483.8 347.6,482.9 349.1,481.8 350.6,480.8 352.1,479.7 353.6,478.3 355.1,476.8 356.6,475.3 358.1,473.9 359.6,472.5 361.1,471.2 362.6,469.8 364.1,468.4 365.6,467.0 367.1,465.6 368.6,464.1 370.1,462.6 371.6,461.1 373.1,459.6 374.6,458.1 376.1,456.6 377.6,455.2 379.1,454.1 380.6,453.2 382.1,452.5 383.6,452.3 385.1,452.2 386.6,452.1 388.1,452.2 389.6,452.3 391.1,452.6 392.6,452.9 394.1,453.5 395.6,454.1 397.1,454.7 398.6,455.2 400.1,455.8 401.6,456.3 403.1,456.8 404.6,457.2 406.1,457.6 407.6,457.9 409.1,458.0 410.6,458.0 412.1,457.9 413.6,457.9 415.1,457.8 416.6,457.7 418.1,457.5 419.6,457.3 421.1,457.1 422.6,457.0 424.1,456.8 425.6,456.7 427.1,456.5 428.6,456.4 430.1,456.3 431.6,456.2 433.1,456.0 434.6,455.9 436.1,455.8 437.6,455.6 439.1,455.5 440.6,455.3 442.1,455.2 443.6,455.0 445.1,454.8 446.6,454.7 448.1,454.5 449.6,454.3 451.1,454.2 452.6,454.0 454.1,453.8 455.6,453.6 457.1,453.4 458.6,453.3 460.1,453.1 461.6,452.9 463.1,452.7 464.6,452.5 466.1,452.3 467.6,452.1 469.1,451.9 470.6,451.7 472.1,451.5 472.1,451.5" fill="none" stroke="#3050f0" stroke-width="0.65"/><polyline points="274.1,510.7 275.6,510.5 277.1,510.3 278.6,510.0 280.1,509.8 281.6,509.5 283.1,509.2 284.6,508.9 286.1,508.7 287.6,508.4 289.1,508.1 290.6,507.8 292.1,507.5 293.6,507.2 295.1,506.8 296.6,506.5 298.1,506.1 299.6,505.7 301.1,505.2 302.6,504.8 304.1,504.3 305.6,503.8 307.1,503.3 308.6,502.7 310.1,502.2 311.6,501.7 313.1,501.2 314.6,500.7 316.1,500.2 317.6,499.6 319.1,498.9 320.6,498.2 322.1,497.5 323.6,496.7 325.1,495.9 326.6,495.1 328.1,494.3 329.6,493.5 331.1,492.7 332.6,491.9 334.1,491.0 335.6,490.2 337.1,489.3 338.6,488.4 340.1,487.5 341.6,486.6 343.1,485.7 344.6,484.8 346.1,483.8 347.6,482.8 349.1,481.8 350.6,480.6 352.1,479.3 353.6,477.8 355.1,476.3 356.6,474.8 358.1,473.5 359.6,472.1 361.1,470.8 362.6,469.4 364.1,468.0 365.6,466.6 367.1,465.1 368.6,463.6 370.1,462.1 371.6,460.6 373.1,459.1 374.6,457.6 376.1,456.1 377.6,454.6 379.1,453.4 380.6,452.3 382.1,451.5 383.6,451.0 385.1,450.9 386.6,450.9 388.1,450.9 389.6,451.1 391.1,451.3 392.6,451.7 394.1,452.3 395.6,453.1 397.1,453.8 398.6,454.4 400.1,455.1 401.6,455.7 403.1,456.3 404.6,456.8 406.1,457.2 407.6,457.6 409.1,457.8 410.6,457.9 412.1,457.9 413.6,457.8 415.1,457.8 416.6,457.7 418.1,457.5 419.6,457.3 421.1,457.1 422.6,457.0 424.1,456.8 425.6,456.7 427.1,456.5 428.6,456.4 430.1,456.3 431.6,456.2 433.1,456.0 434.6,455.9 436.1,455.8 437.6,455.6 439.1,455.5 440.6,455.3 442.1,455.2 443.6,455.0 445.1,454.8 446.6,454.7 448.1,454.5 449.6,454.3 451.1,454.2 452.6,454.0 454.1,453.8 455.6,453.6 457.1,453.4 458.6,453.3 460.1,453.1 461.6,452.9 463.1,452.7 464.6,452.5 466.1,452.3 467.6,452.1 469.1,451.9 470.6,451.7 472.1,451.5 472.1,451.5" fill="none" stroke="#4838e8" stroke-width="0.65"/><polyline points="274.1,510.8 275.6,510.5 277.1,510.3 278.6,510.0 280.1,509.8 281.6,509.5 283.1,509.3 284.6,509.0 286.1,508.7 287.6,508.4 289.1,508.2 290.6,507.9 292.1,507.6 293.6,507.2 295.1,506.9 296.6,506.5 298.1,506.1 299.6,505.7 301.1,505.3 302.6,504.9 304.1,504.4 305.6,503.9 307.1,503.4 308.6,502.8 310.1,502.3 311.6,501.8 313.1,501.3 314.6,500.8 316.1,500.3 317.6,499.7 319.1,499.1 320.6,498.4 322.1,497.6 323.6,496.9 325.1,496.1 326.6,495.3 328.1,494.5 329.6,493.7 331.1,492.9 332.6,492.1 334.1,491.2 335.6,490.4 337.1,489.5 338.6,488.6 340.1,487.6 341.6,486.7 343.1,485.8 344.6,484.8 346.1,483.8 347.6,482.7 349.1,481.6 350.6,480.3 352.1,478.9 353.6,477.4 355.1,475.8 356.6,474.4 358.1,473.0 359.6,471.7 361.1,470.4 362.6,469.0 364.1,467.6 365.6,466.1 367.1,464.7 368.6,463.2 370.1,461.6 371.6,460.1 373.1,458.6 374.6,457.1 376.1,455.6 377.6,454.1 379.1,452.7 380.6,451.5 382.1,450.5 383.6,449.8 385.1,449.5 386.6,449.5 388.1,449.6 389.6,449.8 391.1,450.1 392.6,450.5 394.1,451.1 395.6,452.0 397.1,452.8 398.6,453.6 400.1,454.3 401.6,455.1 403.1,455.8 404.6,456.4 406.1,456.9 407.6,457.4 409.1,457.7 410.6,457.7 412.1,457.8 413.6,457.8 415.1,457.7 416.6,457.7 418.1,457.5 419.6,457.3 421.1,457.1 422.6,457.0 424.1,456.8 425.6,456.7 427.1,456.5 428.6,456.4 430.1,456.3 431.6,456.2 433.1,456.0 434.6,455.9 436.1,455.8 437.6,455.6 439.1,455.5 440.6,455.3 442.1,455.2 443.6,455.0 445.1,454.8 446.6,454.7 448.1,454.5 449.6,454.3 451.1,454.2 452.6,454.0 454.1,453.8 455.6,453.6 457.1,453.4 458.6,453.3 460.1,453.1 461.6,452.9 463.1,452.7 464.6,452.5 466.1,452.3 467.6,452.1 469.1,451.9 470.6,451.7 472.1,451.5 472.1,451.5" fill="none" stroke="#5830e0" stroke-width="0.65"/><polyline points="274.1,510.8 275.6,510.6 277.1,510.3 278.6,510.1 280.1,509.8 281.6,509.6 283.1,509.3 284.6,509.0 286.1,508.8 287.6,508.5 289.1,508.2 290.6,507.9 292.1,507.6 293.6,507.3 295.1,507.0 296.6,506.6 298.1,506.2 299.6,505.8 301.1,505.4 302.6,504.9 304.1,504.5 305.6,504.0 307.1,503.5 308.6,502.9 310.1,502.4 311.6,501.9 313.1,501.4 314.6,500.9 316.1,500.5 317.6,499.9 319.1,499.3 320.6,498.6 322.1,497.8 323.6,497.1 325.1,496.3 326.6,495.5 328.1,494.7 329.6,493.9 331.1,493.1 332.6,492.3 334.1,491.4 335.6,490.5 337.1,489.6 338.6,488.6 340.1,487.6 341.6,486.7 343.1,485.7 344.6,484.7 346.1,483.6 347.6,482.5 349.1,481.2 350.6,479.9 352.1,478.4 353.6,476.9 355.1,475.4 356.6,474.0 358.1,472.6 359.6,471.3 361.1,469.9 362.6,468.5 364.1,467.1 365.6,465.7 367.1,464.2 368.6,462.7 370.1,461.2 371.6,459.7 373.1,458.2 374.6,456.7 376.1,455.2 377.6,453.7 379.1,452.2 380.6,450.8 382.1,449.7 383.6,448.8 385.1,448.3 386.6,448.2 388.1,448.2 389.6,448.4 391.1,448.8 392.6,449.3 394.1,449.9 395.6,450.8 397.1,451.8 398.6,452.7 400.1,453.6 401.6,454.4 403.1,455.3 404.6,456.0 406.1,456.6 407.6,457.1 409.1,457.5 410.6,457.6 412.1,457.7 413.6,457.7 415.1,457.7 416.6,457.6 418.1,457.5 419.6,457.3 421.1,457.1 422.6,457.0 424.1,456.8 425.6,456.7 427.1,456.5 428.6,456.4 430.1,456.3 431.6,456.2 433.1,456.0 434.6,455.9 436.1,455.8 437.6,455.6 439.1,455.5 440.6,455.3 442.1,455.2 443.6,455.0 445.1,454.8 446.6,454.7 448.1,454.5 449.6,454.3 451.1,454.2 452.6,454.0 454.1,453.8 455.6,453.6 457.1,453.4 458.6,453.3 460.1,453.1 461.6,452.9 463.1,452.7 464.6,452.5 466.1,452.3 467.6,452.1 469.1,451.9 470.6,451.7 472.1,451.5 472.1,451.5" fill="none" stroke="#6828d8" stroke-width="0.65"/><polyline points="274.1,510.8 275.6,510.6 277.1,510.3 278.6,510.1 280.1,509.9 281.6,509.6 283.1,509.3 284.6,509.1 286.1,508.8 287.6,508.5 289.1,508.3 290.6,508.0 292.1,507.7 293.6,507.4 295.1,507.0 296.6,506.7 298.1,506.3 299.6,505.9 301.1,505.5 302.6,505.0 304.1,504.6 305.6,504.1 307.1,503.6 308.6,503.0 310.1,502.5 311.6,502.0 313.1,501.5 314.6,501.1 316.1,500.6 317.6,500.1 319.1,499.5 320.6,498.8 322.1,498.0 323.6,497.3 325.1,496.5 326.6,495.7 328.1,494.9 329.6,494.1 331.1,493.2 332.6,492.4 334.1,491.5 335.6,490.5 337.1,489.6 338.6,488.6 340.1,487.6 341.6,486.6 343.1,485.6 344.6,484.5 346.1,483.4 347.6,482.1 349.1,480.8 350.6,479.4 352.1,477.9 353.6,476.4 355.1,474.9 356.6,473.5 358.1,472.2 359.6,470.9 361.1,469.5 362.6,468.1 364.1,466.7 365.6,465.2 367.1,463.7 368.6,462.2 370.1,460.7 371.6,459.2 373.1,457.7 374.6,456.2 376.1,454.7 377.6,453.2 379.1,451.7 380.6,450.2 382.1,448.9 383.6,447.9 385.1,447.1 386.6,446.8 388.1,446.9 389.6,447.1 391.1,447.5 392.6,448.0 394.1,448.6 395.6,449.6 397.1,450.7 398.6,451.7 400.1,452.7 401.6,453.7 403.1,454.7 404.6,455.5 406.1,456.2 407.6,456.9 409.1,457.3 410.6,457.5 412.1,457.6 413.6,457.7 415.1,457.7 416.6,457.6 418.1,457.5 419.6,457.3 421.1,457.1 422.6,457.0 424.1,456.8 425.6,456.7 427.1,456.5 428.6,456.4 430.1,456.3 431.6,456.2 433.1,456.0 434.6,455.9 436.1,455.8 437.6,455.6 439.1,455.5 440.6,455.3 442.1,455.2 443.6,455.0 445.1,454.8 446.6,454.7 448.1,454.5 449.6,454.3 451.1,454.2 452.6,454.0 454.1,453.8 455.6,453.6 457.1,453.4 458.6,453.3 460.1,453.1 461.6,452.9 463.1,452.7 464.6,452.5 466.1,452.3 467.6,452.1 469.1,451.9 470.6,451.7 472.1,451.5 472.1,451.5" fill="none" stroke="#6a38d8" stroke-width="1.05"/><line x1="362" y1="464.38" x2="410" y2="458.85" stroke="#222" stroke-width="0.9" stroke-dasharray="2.2 1.4"/></g>
<text x="277.25" y="467.75" font-size="9" font-weight="bold" fill="#111">C<tspan font-size="5.4" dy="1.0" style="letter-spacing:0.12px">p,melt</tspan></text>
<text x="446.30" y="480.80" font-size="9" font-weight="bold" fill="#111">C<tspan font-size="5.4" dy="1.0" style="letter-spacing:0.12px">p,glass</tspan></text>
<rect x="388.30" y="499.60" width="78.80" height="12.10" fill="#fff" stroke="#555" stroke-width="0.9"/>
<line x1="426.90" y1="499.60" x2="426.90" y2="511.70" stroke="#555" stroke-width="0.9"/>
<text x="407.60" y="509.00" text-anchor="middle" font-size="8.3" fill="#262626">Endo up</text>
<text x="447.00" y="509.00" text-anchor="middle" font-size="8.3" fill="#262626">0.05 &#956;J/K</text>
<rect x="274.5" y="372.5" width="198.0" height="148.0" fill="none" stroke="#505050" stroke-width="1"/><line x1="280.50" y1="520.5" x2="280.50" y2="517.9" stroke="#505050" stroke-width="0.9"/><line x1="280.50" y1="372.5" x2="280.50" y2="375.1" stroke="#505050" stroke-width="0.9"/><line x1="302.50" y1="520.5" x2="302.50" y2="518.9" stroke="#505050" stroke-width="0.9"/><line x1="302.50" y1="372.5" x2="302.50" y2="374.1" stroke="#505050" stroke-width="0.9"/><line x1="325.50" y1="520.5" x2="325.50" y2="517.9" stroke="#505050" stroke-width="0.9"/><line x1="325.50" y1="372.5" x2="325.50" y2="375.1" stroke="#505050" stroke-width="0.9"/><line x1="347.50" y1="520.5" x2="347.50" y2="518.9" stroke="#505050" stroke-width="0.9"/><line x1="347.50" y1="372.5" x2="347.50" y2="374.1" stroke="#505050" stroke-width="0.9"/><line x1="370.50" y1="520.5" x2="370.50" y2="517.9" stroke="#505050" stroke-width="0.9"/><line x1="370.50" y1="372.5" x2="370.50" y2="375.1" stroke="#505050" stroke-width="0.9"/><line x1="392.50" y1="520.5" x2="392.50" y2="518.9" stroke="#505050" stroke-width="0.9"/><line x1="392.50" y1="372.5" x2="392.50" y2="374.1" stroke="#505050" stroke-width="0.9"/><line x1="415.50" y1="520.5" x2="415.50" y2="517.9" stroke="#505050" stroke-width="0.9"/><line x1="415.50" y1="372.5" x2="415.50" y2="375.1" stroke="#505050" stroke-width="0.9"/><line x1="438.50" y1="520.5" x2="438.50" y2="518.9" stroke="#505050" stroke-width="0.9"/><line x1="438.50" y1="372.5" x2="438.50" y2="374.1" stroke="#505050" stroke-width="0.9"/><line x1="460.50" y1="520.5" x2="460.50" y2="517.9" stroke="#505050" stroke-width="0.9"/><line x1="460.50" y1="372.5" x2="460.50" y2="375.1" stroke="#505050" stroke-width="0.9"/>
</svg></body></html>
